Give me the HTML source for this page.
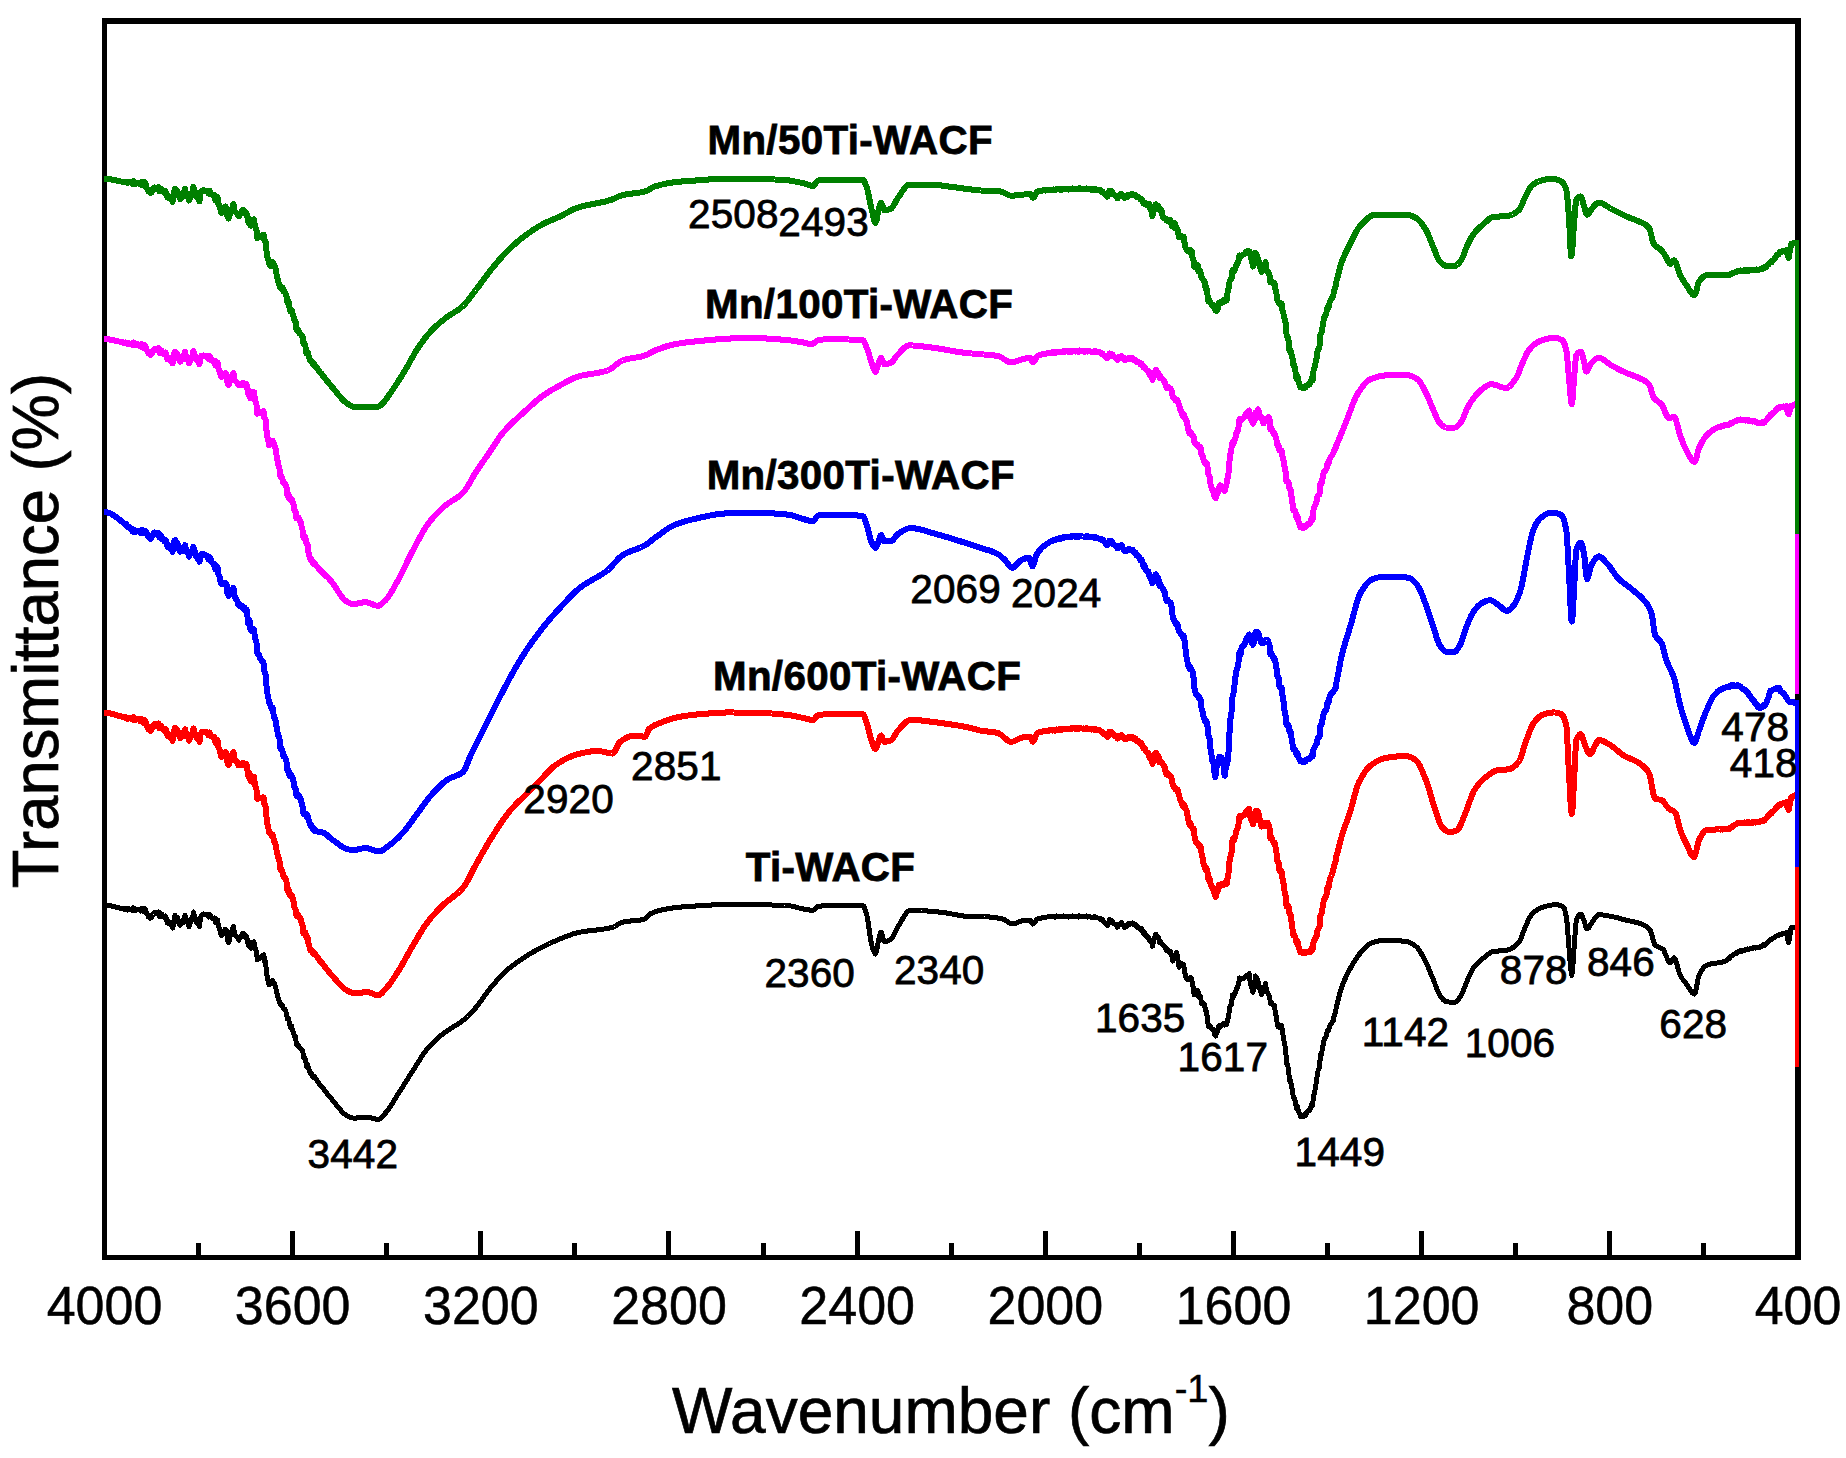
<!DOCTYPE html>
<html lang="en"><head><meta charset="utf-8"><title>FTIR spectra</title>
<style>html,body{margin:0;padding:0;background:#fff}svg{display:block}text{font-family:"Liberation Sans",sans-serif;fill:#000}.b{font-weight:bold;font-size:40.3px;letter-spacing:0.35px;stroke:#000;stroke-width:0.8px}.p{font-size:40.5px;letter-spacing:0.1px;stroke:#000;stroke-width:0.8px}.t{font-size:52px;text-anchor:middle;stroke:#000;stroke-width:0.5px}.ax{font-size:64px;stroke:#000;stroke-width:0.7px}.ay{font-size:63.4px;stroke:#000;stroke-width:0.7px}</style></head><body>
<svg width="1846" height="1458" viewBox="0 0 1846 1458">
<rect x="0" y="0" width="1846" height="1458" fill="#fff"/>
<defs><clipPath id="c"><rect x="104.0" y="18" width="1695.0" height="1240"/></clipPath></defs>
<g fill="#000" shape-rendering="crispEdges">
<rect x="102" y="18" width="5" height="1242"/>
<rect x="1795" y="18" width="6" height="1242"/>
<rect x="102" y="18" width="1699" height="6"/>
<rect x="102" y="1255" width="1699" height="5"/>
<rect x="102.0" y="1231" width="5" height="25"/>
<rect x="196.0" y="1243" width="5" height="13"/>
<rect x="290.0" y="1231" width="5" height="25"/>
<rect x="384.0" y="1243" width="5" height="13"/>
<rect x="478.0" y="1231" width="5" height="25"/>
<rect x="572.0" y="1243" width="5" height="13"/>
<rect x="666.0" y="1231" width="5" height="25"/>
<rect x="761.0" y="1243" width="5" height="13"/>
<rect x="855.0" y="1231" width="5" height="25"/>
<rect x="949.0" y="1243" width="5" height="13"/>
<rect x="1043.0" y="1231" width="5" height="25"/>
<rect x="1137.0" y="1243" width="5" height="13"/>
<rect x="1231.0" y="1231" width="5" height="25"/>
<rect x="1325.0" y="1243" width="5" height="13"/>
<rect x="1419.0" y="1231" width="5" height="25"/>
<rect x="1513.0" y="1243" width="5" height="13"/>
<rect x="1607.0" y="1231" width="5" height="25"/>
<rect x="1701.0" y="1243" width="5" height="13"/>
<rect x="1796.0" y="1231" width="5" height="25"/>
</g>
<g clip-path="url(#c)" fill="none" stroke-width="6.0" stroke-linejoin="round" stroke-linecap="butt" shape-rendering="crispEdges">
<path stroke="#000000" stroke-width="5" d="M103.5,905.2 104.5,905.2 105.0,905.2 105.5,905.2 106.5,905.2 107.5,905.3 108.5,905.4 109.5,905.6 110.5,905.8 111.5,906.0 112.5,906.2 113.5,906.4 114.5,906.7 115.5,907.0 116.5,907.2 117.5,907.5 118.5,907.7 119.5,908.0 120.5,908.2 121.5,908.4 122.5,908.6 123.5,908.9 124.5,909.2 125.0,909.0 125.5,908.5 126.5,908.7 127.5,910.0 128.5,908.8 129.5,909.0 130.5,909.3 131.5,909.7 132.5,910.3 133.5,907.8 134.5,909.2 135.5,910.3 136.5,909.3 137.5,909.6 138.5,909.2 139.5,910.0 140.5,910.9 141.5,908.5 142.5,908.5 143.5,911.9 144.5,910.0 145.1,908.9 145.5,910.0 146.5,913.4 147.5,914.6 148.5,917.1 149.5,915.7 150.1,917.2 150.5,918.2 151.5,917.6 152.5,914.6 153.5,914.5 153.8,913.3 154.5,912.5 155.5,912.8 156.5,913.8 157.5,912.6 158.5,911.9 159.5,916.3 160.5,915.7 161.5,913.9 162.5,916.6 163.5,916.6 164.5,917.9 165.1,917.0 165.5,916.0 166.5,919.4 167.5,923.1 168.5,921.5 169.5,924.2 170.5,924.6 171.5,925.6 172.5,927.7 172.6,928.1 173.5,924.1 174.5,916.1 175.1,915.2 175.5,917.5 176.5,920.9 177.5,917.4 178.5,922.0 179.5,923.8 180.1,925.4 180.5,925.0 181.5,921.3 182.5,920.6 183.5,922.8 184.5,916.5 185.1,915.2 185.5,917.7 186.5,919.8 187.5,921.3 188.5,925.0 188.9,926.8 189.5,925.7 190.5,921.6 191.5,918.9 192.5,919.8 193.2,912.9 193.5,912.0 194.5,915.9 195.5,919.5 196.5,922.0 197.5,923.4 198.2,923.5 198.5,923.3 199.5,926.4 200.5,917.8 201.5,915.1 202.5,914.8 202.7,914.1 203.5,913.9 204.5,914.3 205.5,914.6 206.5,914.3 207.5,915.4 208.5,917.0 209.5,914.1 210.5,915.7 211.5,917.9 212.5,918.0 212.7,918.3 213.5,918.9 214.5,917.9 215.5,922.9 216.5,921.6 217.5,919.9 217.7,920.5 218.5,926.8 219.5,928.6 220.5,932.6 221.4,935.5 221.5,935.5 222.5,934.2 223.5,931.0 224.5,931.0 225.2,929.2 225.5,929.3 226.5,930.6 227.5,940.1 228.5,942.5 228.5,942.5 229.5,940.1 230.5,932.7 231.5,934.6 232.5,930.1 232.7,928.0 233.5,926.6 234.5,933.3 235.5,935.3 236.5,936.1 237.5,937.4 238.5,940.0 239.0,940.1 239.5,938.7 240.5,937.9 241.5,936.1 242.5,933.7 243.5,935.4 244.0,933.9 244.5,934.8 245.5,937.4 246.5,936.2 247.5,941.1 248.5,945.7 249.5,941.9 250.2,946.8 250.5,948.1 251.5,948.1 252.5,944.9 253.5,942.7 254.0,942.0 254.5,945.8 255.5,949.3 256.5,951.7 257.3,959.6 257.5,959.5 258.5,958.1 259.5,958.3 260.5,957.5 261.5,956.9 262.5,955.4 263.5,954.8 264.0,956.5 264.5,961.3 265.5,961.7 266.5,972.0 267.5,978.6 268.5,982.1 269.0,984.9 269.5,984.1 270.5,983.5 271.5,983.2 272.5,980.4 273.5,982.1 274.0,982.8 274.5,984.2 275.5,986.2 276.5,991.5 277.5,995.7 278.5,999.3 279.0,1000.3 279.5,1002.1 280.5,1005.1 281.5,1004.4 282.5,1005.2 282.8,1006.1 283.5,1008.7 284.5,1008.9 285.5,1010.7 286.5,1013.2 287.5,1019.2 288.5,1018.0 289.5,1023.5 290.3,1027.2 290.5,1027.0 291.5,1025.9 292.5,1029.7 293.5,1032.4 294.5,1036.5 295.5,1036.5 296.5,1044.6 297.5,1045.9 297.8,1044.8 298.5,1045.4 299.5,1048.1 300.5,1048.2 301.5,1049.5 302.5,1050.4 302.8,1051.4 303.5,1057.3 304.5,1056.9 305.5,1060.0 306.5,1066.3 307.5,1064.5 307.8,1065.7 308.5,1068.4 309.5,1070.5 310.5,1073.6 311.5,1073.4 312.5,1076.0 313.5,1077.5 314.5,1076.7 315.5,1078.9 316.5,1079.8 317.5,1081.2 317.9,1081.6 318.5,1082.3 319.5,1084.4 320.5,1085.4 321.5,1086.2 322.5,1087.9 323.5,1088.9 324.5,1090.3 325.5,1091.6 326.5,1092.8 327.5,1094.1 328.5,1095.3 329.5,1096.5 330.5,1097.7 331.5,1098.9 332.5,1100.1 332.9,1100.5 333.5,1101.2 334.5,1102.5 335.5,1103.7 336.5,1105.0 337.5,1106.2 338.5,1107.5 339.5,1108.7 340.5,1109.9 341.5,1111.1 342.5,1112.2 343.5,1113.1 344.5,1114.0 345.5,1114.8 346.5,1115.4 346.7,1115.5 347.5,1116.0 348.5,1116.6 349.5,1117.1 350.5,1117.5 351.5,1117.8 352.5,1118.0 352.9,1118.0 353.5,1118.0 354.5,1118.0 355.5,1118.0 356.5,1118.0 357.5,1117.9 358.5,1117.9 359.5,1117.8 360.5,1117.8 361.5,1117.7 362.5,1117.7 363.5,1117.6 364.5,1117.6 365.5,1117.6 366.5,1117.5 367.5,1117.5 367.9,1117.5 368.5,1117.5 369.5,1117.6 370.5,1117.8 371.5,1118.0 372.5,1118.3 373.5,1118.6 374.5,1118.8 375.5,1119.0 376.5,1119.2 377.5,1119.3 378.0,1119.3 378.5,1119.2 379.5,1118.9 380.5,1118.2 381.5,1117.3 382.5,1116.3 383.5,1115.2 384.5,1114.1 385.5,1113.0 385.5,1113.0 386.5,1111.9 387.5,1110.6 388.5,1109.3 389.5,1107.8 390.5,1106.3 391.5,1104.8 392.5,1103.2 393.5,1101.5 394.5,1099.9 395.5,1098.2 396.5,1096.6 397.5,1095.0 398.0,1094.2 398.5,1093.4 399.5,1091.9 400.5,1090.3 401.5,1088.7 402.5,1087.2 403.5,1085.6 404.5,1084.0 405.5,1082.3 406.5,1080.7 407.5,1079.1 408.5,1077.5 409.5,1076.0 410.5,1074.4 411.5,1072.8 412.5,1071.2 413.0,1070.5 413.5,1069.7 414.5,1068.1 415.5,1066.5 416.5,1064.9 417.5,1063.3 418.5,1061.7 419.5,1060.1 420.5,1058.5 421.5,1056.9 422.5,1055.4 423.5,1053.9 424.5,1052.5 425.5,1051.1 426.5,1049.8 427.5,1048.5 428.0,1047.9 428.5,1047.4 429.5,1046.3 430.5,1045.2 431.5,1044.2 432.5,1043.1 433.5,1042.2 434.5,1041.2 435.5,1040.3 436.5,1039.4 437.5,1038.5 438.5,1037.6 439.5,1036.8 440.5,1035.9 441.5,1035.1 442.5,1034.3 443.5,1033.5 444.3,1032.9 444.5,1032.7 445.5,1032.0 446.5,1031.3 447.5,1030.6 448.5,1029.9 449.5,1029.3 450.5,1028.7 451.5,1028.0 452.5,1027.4 453.5,1026.8 454.5,1026.2 455.5,1025.6 456.5,1025.0 457.5,1024.4 458.5,1023.7 459.5,1023.0 460.5,1022.3 461.5,1021.6 462.5,1020.8 463.1,1020.4 463.5,1020.0 464.5,1019.2 465.5,1018.3 466.5,1017.4 467.5,1016.5 468.5,1015.5 469.5,1014.5 470.5,1013.4 471.5,1012.4 472.5,1011.3 473.5,1010.2 474.5,1009.1 475.5,1008.0 475.6,1007.9 476.5,1006.8 477.5,1005.6 478.5,1004.3 479.5,1003.0 480.5,1001.6 481.5,1000.2 482.5,998.8 483.5,997.4 484.5,996.0 485.5,994.6 486.5,993.2 487.5,991.8 488.5,990.5 489.5,989.2 490.5,988.0 490.6,987.8 491.5,986.8 492.5,985.6 493.5,984.4 494.5,983.3 495.5,982.1 496.5,981.0 497.5,979.8 498.5,978.7 499.5,977.6 500.5,976.5 501.5,975.5 502.5,974.5 503.5,973.5 504.5,972.5 505.5,971.6 506.5,970.7 506.9,970.3 507.5,969.8 508.5,968.9 509.5,968.1 510.5,967.3 511.5,966.5 512.5,965.7 513.5,964.9 514.5,964.2 515.5,963.4 516.5,962.7 517.5,962.0 518.5,961.3 519.5,960.6 520.5,959.9 521.5,959.3 522.5,958.6 523.5,957.9 524.5,957.3 525.5,956.6 525.7,956.5 526.5,956.0 527.5,955.4 528.5,954.8 529.5,954.1 530.5,953.5 531.5,952.9 532.5,952.3 533.5,951.8 534.5,951.2 535.5,950.6 536.5,950.1 537.5,949.5 538.5,949.0 539.5,948.4 540.5,947.9 541.5,947.4 542.5,946.9 543.2,946.5 543.5,946.4 544.5,945.9 545.5,945.4 546.5,944.9 547.5,944.4 548.5,943.9 549.5,943.5 550.5,943.0 551.5,942.6 552.5,942.1 553.5,941.7 554.5,941.3 555.5,940.8 556.5,940.4 557.5,940.0 558.5,939.6 559.5,939.2 560.0,939.0 560.5,938.8 561.5,938.4 562.5,938.0 563.5,937.6 564.5,937.2 565.5,936.8 566.5,936.4 567.5,936.0 568.5,935.6 569.5,935.2 570.5,934.9 571.5,934.5 572.5,934.2 573.5,933.8 574.5,933.5 575.5,933.3 576.5,933.0 577.5,932.7 577.6,932.7 578.5,932.5 579.5,932.3 580.5,932.1 581.5,931.9 582.5,931.8 583.5,931.6 584.5,931.4 585.5,931.3 586.5,931.2 587.5,931.0 588.5,930.9 589.5,930.8 590.5,930.7 591.5,930.5 592.5,930.4 593.5,930.3 594.5,930.2 595.5,930.1 596.5,930.0 597.5,929.9 598.5,929.7 599.5,929.6 600.5,929.5 601.5,929.4 602.5,929.2 603.5,929.1 604.5,928.9 605.5,928.7 606.5,928.6 607.5,928.4 608.5,928.2 609.5,928.0 610.5,927.7 611.5,927.5 612.5,927.3 612.6,927.2 613.5,926.9 614.5,926.5 615.5,926.0 616.5,925.4 617.5,924.8 618.5,924.1 619.5,923.6 620.5,923.0 621.5,922.6 622.5,922.2 622.6,922.2 623.5,922.0 624.5,921.8 625.5,921.6 626.5,921.5 627.5,921.4 628.5,921.2 629.5,921.1 630.5,921.0 631.5,920.9 632.5,920.9 633.5,920.8 634.5,920.7 635.5,920.6 636.5,920.5 637.5,920.4 638.5,920.3 639.5,920.2 640.5,920.0 641.5,919.8 642.5,919.6 643.5,919.4 644.5,919.2 645.2,919.0 645.5,918.8 646.5,918.0 647.5,916.8 648.5,915.5 649.5,914.4 650.2,914.0 650.5,913.8 651.5,913.4 652.5,912.9 653.5,912.5 654.5,912.2 655.5,911.8 656.5,911.5 657.5,911.2 658.5,910.8 659.5,910.6 660.5,910.3 661.5,910.0 662.5,909.8 663.5,909.6 664.5,909.4 665.5,909.2 666.5,909.0 667.5,908.8 668.5,908.6 669.5,908.5 670.5,908.3 671.5,908.2 672.5,908.0 673.5,907.9 674.5,907.8 675.2,907.7 675.5,907.7 676.5,907.5 677.5,907.4 678.5,907.3 679.5,907.2 680.5,907.1 681.5,907.0 682.5,906.9 683.5,906.8 684.5,906.8 685.5,906.7 686.5,906.6 687.5,906.5 688.5,906.4 689.5,906.4 690.5,906.3 691.5,906.2 692.5,906.2 693.5,906.1 694.5,906.0 695.5,906.0 696.5,905.9 697.5,905.9 698.5,905.8 699.5,905.7 700.3,905.7 700.5,905.7 701.5,905.6 702.5,905.5 703.5,905.5 704.5,905.4 705.5,905.3 706.5,905.3 707.5,905.2 708.5,905.1 709.5,905.1 710.5,905.0 711.5,905.0 712.5,904.9 713.5,904.9 714.5,904.8 715.5,904.8 716.5,904.7 717.5,904.7 718.5,904.7 719.5,904.7 720.3,904.7 720.5,904.7 721.5,904.7 722.5,904.7 723.5,904.7 724.5,904.7 725.5,904.7 726.5,904.7 727.5,904.7 728.5,904.7 729.5,904.7 730.5,904.7 731.5,904.7 732.5,904.7 733.5,904.7 734.5,904.7 735.5,904.7 736.5,904.7 737.5,904.7 738.5,904.7 739.5,904.7 740.5,904.7 741.5,904.7 742.5,904.7 743.5,904.7 744.5,904.7 745.5,904.7 746.5,904.7 747.5,904.7 748.5,904.7 749.5,904.7 750.5,904.7 751.5,904.7 752.5,904.7 753.5,904.7 754.5,904.7 755.3,904.7 755.5,904.7 756.5,904.7 757.5,904.7 758.5,904.7 759.5,904.7 760.5,904.7 761.5,904.7 762.5,904.7 763.5,904.8 764.5,904.8 765.5,904.8 766.5,904.8 767.5,904.8 768.5,904.9 769.5,904.9 770.5,904.9 771.5,905.0 772.5,905.0 773.5,905.0 774.5,905.1 775.5,905.1 776.5,905.1 777.5,905.2 778.5,905.2 779.5,905.3 780.5,905.3 781.5,905.4 782.5,905.4 783.5,905.5 784.5,905.6 785.5,905.6 786.5,905.7 787.5,905.7 788.5,905.8 789.5,905.9 790.4,905.9 790.5,905.9 791.5,906.1 792.5,906.2 793.5,906.4 794.5,906.7 795.5,907.0 796.5,907.2 797.5,907.5 798.5,907.9 799.5,908.1 800.5,908.4 801.5,908.7 802.5,908.9 802.9,908.9 803.5,909.0 804.5,909.2 805.5,909.4 806.5,909.5 807.5,909.7 808.5,909.9 809.5,910.0 810.5,910.1 811.5,910.2 812.5,910.2 812.9,910.2 813.5,910.1 814.5,909.4 815.5,908.4 816.5,907.3 817.5,906.6 818.0,906.4 818.5,906.4 819.5,906.2 820.5,906.1 821.5,906.0 822.5,905.9 823.5,905.8 824.5,905.8 825.5,905.7 826.5,905.7 827.5,905.7 828.0,905.7 828.5,905.7 829.5,905.7 830.5,905.7 831.5,905.7 832.5,905.7 833.5,905.7 834.5,905.7 835.5,905.7 836.5,905.7 837.5,905.7 838.5,905.7 839.5,905.7 840.5,905.7 841.5,905.7 842.5,905.7 843.5,905.7 844.5,905.7 845.5,905.7 846.5,905.7 847.5,905.7 848.5,905.7 849.5,905.7 850.5,905.7 851.5,905.7 852.5,905.7 853.5,905.7 854.5,905.7 855.5,905.7 856.5,905.7 857.5,905.7 858.5,905.7 859.5,905.7 860.5,905.7 861.5,905.7 862.5,905.7 863.0,905.7 863.5,905.9 864.5,907.7 865.5,910.7 866.5,914.2 866.8,915.2 867.5,918.4 868.5,924.7 869.5,931.9 870.5,938.8 871.5,944.2 871.8,945.3 872.5,947.6 873.5,950.7 874.5,953.0 875.5,954.0 875.5,954.0 876.5,951.5 877.5,945.8 878.5,940.4 878.6,940.2 879.5,936.3 880.5,932.9 881.1,932.2 881.5,932.7 882.5,936.1 883.5,940.1 884.3,941.5 884.5,941.5 885.5,941.4 886.5,941.2 887.5,941.0 888.5,940.6 889.5,940.2 890.5,939.8 890.6,939.7 891.5,939.0 892.5,937.6 893.5,935.8 894.5,933.7 895.5,931.5 896.5,929.4 897.5,927.4 898.1,926.5 898.5,925.8 899.5,924.2 900.5,922.5 901.5,920.8 902.5,919.0 903.5,917.3 904.5,915.7 905.5,914.2 906.5,912.9 907.5,911.8 908.5,911.0 909.5,910.4 910.5,910.2 910.6,910.2 911.5,910.2 912.5,910.2 913.5,910.2 914.5,910.2 915.5,910.3 916.5,910.3 917.5,910.4 918.5,910.4 919.5,910.5 920.5,910.5 921.5,910.6 922.5,910.6 923.5,910.7 924.5,910.8 925.5,910.8 926.5,910.9 927.5,911.0 928.5,911.1 929.5,911.2 930.5,911.3 931.5,911.4 932.5,911.4 933.5,911.5 934.5,911.6 935.5,911.7 936.5,911.8 937.5,911.9 938.5,912.0 939.5,912.1 940.5,912.2 940.7,912.2 941.5,912.3 942.5,912.4 943.5,912.5 944.5,912.7 945.5,912.8 946.5,913.0 947.5,913.1 948.5,913.3 949.5,913.5 950.5,913.7 951.5,913.9 952.5,914.1 953.5,914.2 954.5,914.4 955.5,914.6 956.5,914.8 957.5,915.0 958.5,915.2 959.5,915.4 960.5,915.5 961.5,915.7 962.5,915.8 963.5,916.0 964.5,916.1 965.5,916.2 966.5,916.3 967.5,916.3 968.5,916.4 969.5,916.4 970.5,916.5 970.7,916.5 971.5,916.5 972.5,916.5 973.5,916.5 974.5,916.5 975.5,916.5 976.5,916.5 977.5,916.5 978.5,916.5 979.5,916.5 980.0,916.5 980.5,916.5 981.5,916.5 982.5,916.5 983.5,916.5 984.5,916.6 985.5,916.6 986.5,916.7 987.5,916.8 988.5,916.9 989.5,917.0 990.5,917.1 991.5,917.2 992.5,917.3 993.5,917.4 994.5,917.6 995.5,917.7 996.5,917.9 997.5,918.0 998.5,918.2 999.5,918.4 1000.5,918.6 1001.5,918.8 1002.5,919.0 1002.5,919.0 1003.5,919.2 1004.5,919.7 1005.5,920.3 1006.5,921.0 1007.5,921.7 1008.5,922.4 1009.5,923.0 1010.5,923.5 1011.5,923.8 1012.5,924.0 1012.6,924.0 1013.5,923.9 1014.5,923.7 1015.5,923.4 1016.5,923.0 1017.5,922.5 1018.5,922.0 1019.5,921.6 1020.5,921.2 1021.5,920.9 1022.5,920.7 1022.6,920.7 1023.5,920.6 1024.5,920.5 1025.5,920.4 1026.5,920.3 1027.5,920.3 1028.5,920.2 1029.5,920.2 1030.1,920.2 1030.5,920.5 1031.5,922.5 1032.5,924.0 1032.6,924.0 1033.5,923.6 1034.5,922.5 1035.5,921.1 1036.5,919.8 1037.5,919.0 1037.6,919.0 1038.5,918.7 1039.5,918.4 1040.5,918.2 1041.5,918.0 1042.5,917.7 1043.5,917.5 1044.5,917.2 1045.5,917.4 1046.5,917.1 1047.5,916.9 1048.5,917.0 1049.5,916.6 1050.5,916.4 1051.5,916.3 1052.5,916.9 1053.5,916.3 1054.5,916.6 1055.1,917.1 1055.5,916.9 1056.5,916.0 1057.5,916.3 1058.5,916.3 1059.5,916.6 1060.5,916.1 1061.5,917.0 1062.5,916.8 1063.5,916.0 1064.5,916.6 1065.5,916.2 1066.5,916.3 1067.5,916.2 1068.5,917.1 1069.5,916.5 1070.5,916.2 1071.5,916.9 1072.5,916.0 1073.5,916.2 1074.5,916.4 1075.5,916.8 1076.5,916.3 1077.5,916.6 1078.5,917.0 1079.5,915.8 1080.2,916.1 1080.5,916.4 1081.5,916.4 1082.5,916.5 1083.5,916.4 1084.5,917.0 1085.5,916.9 1086.5,916.0 1087.5,917.0 1088.5,916.4 1089.5,916.6 1090.5,916.9 1091.5,917.4 1092.5,917.2 1093.5,916.9 1094.5,917.8 1095.5,916.8 1096.5,917.4 1097.5,917.9 1098.5,918.1 1099.5,918.1 1100.2,918.1 1100.5,918.7 1101.5,920.1 1102.5,919.6 1103.5,921.6 1104.5,922.5 1105.5,923.4 1106.5,924.7 1107.2,925.5 1107.5,925.3 1108.5,923.3 1109.5,919.7 1110.2,919.8 1110.5,920.5 1111.5,920.3 1112.5,921.2 1113.5,923.4 1114.5,924.1 1115.5,924.7 1116.5,924.9 1117.5,927.2 1117.7,927.0 1118.5,924.2 1119.5,924.3 1120.5,924.6 1121.5,922.5 1121.5,922.6 1122.5,924.6 1123.5,925.8 1124.5,927.4 1125.2,926.8 1125.5,925.7 1126.5,926.7 1127.5,925.7 1128.5,923.7 1129.5,924.5 1130.2,923.2 1130.5,923.3 1131.5,923.5 1132.5,922.9 1133.5,924.8 1134.5,924.3 1135.5,924.7 1136.5,927.0 1137.5,926.4 1137.8,926.5 1138.5,927.4 1139.5,927.9 1140.5,929.7 1141.5,928.8 1142.5,930.9 1143.5,933.4 1144.5,932.6 1145.3,934.5 1145.5,935.2 1146.5,936.1 1147.5,937.2 1148.5,936.9 1149.5,940.3 1150.5,941.9 1151.5,941.8 1152.3,945.5 1152.5,946.2 1153.5,941.4 1154.5,938.1 1155.5,934.7 1156.0,934.4 1156.5,935.8 1157.5,936.3 1158.5,937.7 1159.5,942.5 1160.5,941.3 1161.5,943.4 1162.5,944.8 1162.8,945.0 1163.5,945.8 1164.5,945.9 1165.5,947.8 1166.5,950.3 1167.5,949.1 1168.5,951.9 1169.5,952.3 1170.3,951.5 1170.5,952.0 1171.5,954.4 1172.5,959.6 1172.8,961.1 1173.5,959.6 1174.5,955.5 1175.5,957.6 1176.5,952.9 1176.6,952.5 1177.5,956.6 1178.5,963.8 1179.1,967.2 1179.5,967.0 1180.5,965.4 1181.5,964.0 1182.5,965.4 1182.8,964.0 1183.5,964.4 1184.5,970.6 1185.5,976.2 1186.5,977.8 1186.6,978.2 1187.5,979.3 1188.5,979.3 1189.5,979.9 1190.5,977.7 1191.5,978.6 1191.6,978.7 1192.5,985.0 1193.5,987.9 1194.1,994.6 1194.5,994.5 1195.5,993.4 1196.5,992.6 1197.5,990.1 1197.9,990.4 1198.5,996.6 1199.5,995.4 1200.5,996.8 1201.5,1003.3 1201.6,1003.4 1202.5,1002.9 1203.5,1003.9 1204.5,1004.7 1205.4,1009.6 1205.5,1010.7 1206.5,1011.2 1207.5,1019.3 1208.4,1026.5 1208.5,1026.0 1209.5,1025.1 1210.5,1027.1 1211.5,1028.3 1212.5,1029.9 1213.5,1029.3 1214.1,1030.2 1214.5,1034.0 1215.5,1036.0 1215.9,1035.7 1216.5,1030.4 1217.5,1031.9 1218.5,1027.2 1219.1,1025.5 1219.5,1025.5 1220.5,1025.1 1221.5,1026.0 1222.5,1024.6 1223.5,1023.8 1224.5,1025.0 1225.5,1023.6 1226.5,1024.1 1226.7,1024.3 1227.5,1020.6 1228.5,1017.1 1229.2,1011.3 1229.5,1008.0 1230.5,1005.3 1231.5,1004.2 1232.5,995.0 1232.9,995.1 1233.5,996.8 1234.5,994.7 1235.5,992.3 1236.5,988.5 1237.5,987.5 1238.5,984.1 1239.5,977.9 1240.4,979.6 1240.5,979.6 1241.5,978.5 1242.5,978.2 1243.5,978.1 1244.5,978.0 1245.5,976.6 1246.5,975.5 1247.5,976.7 1248.5,974.7 1249.2,973.6 1249.5,977.0 1250.5,984.0 1251.5,987.4 1252.5,990.0 1252.9,992.2 1253.5,989.4 1254.5,987.1 1255.5,976.0 1256.5,977.8 1256.7,977.6 1257.5,980.4 1258.5,982.4 1259.5,987.4 1260.5,991.3 1261.5,994.3 1261.7,994.2 1262.5,989.1 1263.5,992.1 1264.5,986.6 1265.5,983.4 1265.5,983.7 1266.5,990.9 1267.5,992.4 1268.5,994.4 1269.5,996.3 1270.5,1003.6 1270.5,1003.6 1271.5,1002.6 1272.5,1004.4 1273.5,1006.0 1274.2,1005.4 1274.5,1006.5 1275.5,1012.9 1276.5,1018.1 1277.5,1025.6 1278.0,1026.5 1278.5,1026.2 1279.5,1027.5 1280.5,1027.0 1281.5,1025.1 1281.7,1025.2 1282.5,1032.8 1283.5,1037.5 1284.5,1043.7 1285.5,1048.1 1286.5,1061.2 1286.7,1063.8 1287.5,1064.5 1288.5,1069.4 1289.5,1080.0 1290.5,1080.5 1291.5,1085.9 1292.5,1090.7 1293.0,1095.2 1293.5,1098.0 1294.5,1097.9 1295.5,1103.1 1296.5,1108.8 1297.5,1106.6 1298.5,1111.4 1299.5,1113.3 1300.5,1116.3 1300.5,1116.3 1301.5,1115.9 1302.5,1116.9 1303.5,1116.7 1304.5,1114.5 1305.5,1115.4 1306.5,1113.0 1307.5,1111.4 1308.5,1110.1 1309.5,1110.4 1310.5,1108.2 1310.5,1108.0 1311.5,1104.0 1312.5,1105.7 1313.5,1096.1 1314.3,1093.3 1314.5,1092.8 1315.5,1086.9 1316.5,1081.3 1317.5,1073.4 1318.5,1069.1 1319.3,1068.0 1319.5,1066.5 1320.5,1054.6 1321.5,1054.1 1322.5,1048.4 1323.5,1042.5 1324.5,1038.9 1325.5,1037.5 1325.6,1037.6 1326.5,1034.8 1327.5,1030.3 1328.5,1031.0 1329.5,1026.9 1330.5,1024.5 1331.5,1023.5 1332.5,1021.8 1333.1,1021.1 1333.5,1018.9 1334.5,1014.5 1335.5,1012.0 1336.5,1006.0 1337.5,1002.4 1338.5,998.7 1339.5,994.6 1340.5,990.7 1340.6,990.3 1341.5,987.7 1342.5,985.0 1343.5,982.5 1344.5,980.1 1345.5,977.9 1346.5,975.7 1347.5,973.7 1348.5,971.7 1349.5,969.8 1350.5,968.0 1350.6,967.8 1351.5,966.2 1352.5,964.4 1353.5,962.8 1354.5,961.1 1355.5,959.6 1356.5,958.1 1357.5,956.6 1358.5,955.3 1359.5,954.0 1360.5,952.9 1360.6,952.8 1361.5,951.8 1362.5,950.7 1363.5,949.6 1364.5,948.6 1365.5,947.5 1366.5,946.6 1367.5,945.7 1368.5,944.8 1369.5,944.1 1370.5,943.4 1371.5,942.9 1372.5,942.4 1373.1,942.2 1373.5,942.2 1374.5,941.9 1375.5,941.6 1376.5,941.4 1377.5,941.2 1378.5,941.0 1379.5,940.8 1380.5,940.6 1381.5,940.5 1382.5,940.4 1383.5,940.3 1384.5,940.3 1385.5,940.2 1385.7,940.2 1386.5,940.2 1387.5,940.3 1388.5,940.3 1389.5,940.3 1390.5,940.3 1391.5,940.4 1392.5,940.4 1393.5,940.4 1394.5,940.5 1395.5,940.5 1396.5,940.6 1397.5,940.7 1398.5,940.7 1399.5,940.8 1400.5,940.9 1401.5,941.0 1402.5,941.1 1403.5,941.2 1404.5,941.3 1405.5,941.4 1406.0,941.5 1406.5,941.6 1407.5,941.8 1408.5,942.1 1409.5,942.5 1410.5,942.9 1411.5,943.4 1412.5,944.0 1413.5,944.7 1414.5,945.4 1415.5,946.1 1416.0,946.5 1416.5,946.9 1417.5,947.9 1418.5,949.1 1419.5,950.6 1420.5,952.2 1421.5,954.0 1422.5,955.8 1423.5,957.8 1424.5,959.7 1425.5,961.7 1426.1,962.8 1426.5,963.6 1427.5,965.7 1428.5,968.0 1429.5,970.4 1430.5,972.8 1431.5,975.3 1432.5,977.7 1433.5,980.1 1433.6,980.3 1434.5,982.6 1435.5,985.3 1436.5,988.0 1437.5,990.6 1438.5,992.9 1439.5,994.8 1439.8,995.3 1440.5,996.3 1441.5,997.6 1442.5,998.9 1443.5,1000.0 1444.5,1000.9 1445.5,1001.4 1446.1,1001.6 1446.5,1001.7 1447.5,1001.8 1448.5,1001.9 1449.5,1002.1 1450.5,1002.2 1451.5,1002.2 1452.5,1002.3 1453.5,1002.3 1454.5,1002.3 1454.9,1002.3 1455.5,1002.2 1456.5,1001.6 1457.5,1000.6 1458.5,999.3 1459.5,997.9 1460.5,996.3 1461.1,995.3 1461.5,994.7 1462.5,992.7 1463.5,990.3 1464.5,987.7 1465.5,985.0 1466.5,982.4 1467.4,980.3 1467.5,980.1 1468.5,977.8 1469.5,975.6 1470.5,973.4 1471.5,971.4 1472.5,969.6 1473.5,968.0 1473.6,967.8 1474.5,966.7 1475.5,965.4 1476.5,964.3 1477.5,963.2 1478.5,962.2 1479.5,961.2 1480.5,960.3 1481.5,959.5 1482.5,958.7 1483.5,957.9 1483.7,957.8 1484.5,957.1 1485.5,956.3 1486.5,955.5 1487.5,954.8 1488.5,954.0 1489.5,953.3 1490.5,952.7 1491.5,952.2 1492.5,951.8 1493.5,951.5 1493.7,951.5 1494.5,951.4 1495.5,951.2 1496.5,951.1 1497.5,951.0 1498.5,951.0 1499.5,950.9 1500.5,950.8 1501.5,950.8 1502.5,950.7 1503.5,950.6 1504.5,950.5 1505.5,950.4 1506.2,950.3 1506.5,950.2 1507.5,950.0 1508.5,949.7 1509.5,949.3 1510.5,948.9 1511.5,948.4 1512.5,947.8 1513.5,947.2 1514.5,946.5 1515.5,945.7 1516.5,944.9 1517.5,943.9 1518.5,943.0 1518.7,942.7 1519.5,941.7 1520.5,939.6 1521.5,937.1 1522.5,934.3 1523.5,931.4 1524.5,928.8 1525.0,927.7 1525.5,926.6 1526.5,924.3 1527.5,922.0 1528.5,919.8 1529.5,917.8 1530.5,916.2 1531.2,915.2 1531.5,914.9 1532.5,913.8 1533.5,912.8 1534.5,911.9 1535.5,911.0 1536.5,910.3 1537.5,909.6 1538.5,908.9 1539.5,908.4 1540.5,908.0 1541.3,907.7 1541.5,907.6 1542.5,907.3 1543.5,907.0 1544.5,906.7 1545.5,906.4 1546.5,906.1 1547.5,905.9 1548.5,905.6 1549.5,905.4 1550.5,905.2 1551.5,905.1 1552.5,904.9 1553.5,904.8 1554.5,904.7 1555.5,904.7 1556.3,904.7 1556.5,904.7 1557.5,904.8 1558.5,904.9 1559.5,905.2 1560.5,905.6 1561.5,906.1 1562.5,906.7 1563.5,907.5 1563.8,907.7 1564.5,909.0 1565.5,912.8 1566.5,918.4 1566.8,920.2 1567.5,927.5 1568.5,941.6 1568.8,945.3 1569.5,954.0 1570.5,966.8 1571.5,974.8 1571.8,975.3 1572.5,971.3 1573.5,957.1 1574.3,945.3 1574.5,942.7 1575.5,927.6 1576.3,920.2 1576.5,919.7 1577.5,917.3 1578.5,915.6 1579.5,914.5 1580.5,914.0 1580.8,914.0 1581.5,914.5 1582.5,916.7 1583.5,919.4 1583.8,920.2 1584.5,922.2 1585.5,925.7 1586.5,928.4 1587.1,929.0 1587.5,928.9 1588.5,928.1 1589.5,926.6 1590.5,924.9 1591.5,923.1 1592.5,921.6 1592.6,921.5 1593.5,920.3 1594.5,918.8 1595.5,917.4 1596.5,916.2 1597.5,915.2 1598.5,914.7 1598.8,914.7 1599.5,914.7 1600.5,914.8 1601.5,914.8 1602.5,914.9 1603.5,915.1 1604.5,915.2 1605.5,915.4 1606.5,915.5 1607.5,915.7 1608.5,915.9 1609.5,916.1 1610.5,916.3 1611.4,916.5 1611.5,916.5 1612.5,916.7 1613.5,916.9 1614.5,917.1 1615.5,917.3 1616.5,917.6 1617.5,917.8 1618.5,918.1 1619.5,918.4 1620.5,918.6 1621.5,918.9 1622.5,919.2 1623.5,919.5 1624.5,919.7 1625.5,920.0 1626.4,920.2 1626.5,920.2 1627.5,920.5 1628.5,920.7 1629.5,920.9 1630.5,921.1 1631.5,921.3 1632.5,921.5 1633.5,921.7 1634.5,922.0 1635.5,922.2 1636.5,922.4 1637.5,922.7 1638.5,923.0 1639.5,923.3 1640.5,923.6 1641.4,924.0 1641.5,924.0 1642.5,924.4 1643.5,924.9 1644.5,925.4 1645.5,926.0 1646.5,926.7 1647.5,927.5 1648.5,928.4 1649.5,929.4 1650.2,930.2 1650.5,930.7 1651.5,933.5 1652.5,937.2 1653.5,941.1 1654.5,944.1 1655.2,945.3 1655.5,945.5 1656.5,946.2 1657.5,946.7 1658.5,947.1 1659.5,947.4 1660.5,947.8 1661.5,948.2 1662.5,948.9 1662.7,949.0 1663.5,949.9 1664.5,951.8 1665.5,954.2 1666.5,956.7 1667.5,959.2 1668.5,961.2 1669.5,962.5 1670.2,962.8 1670.5,962.7 1671.5,961.4 1672.5,959.5 1673.5,958.0 1674.0,957.8 1674.5,958.1 1675.5,959.9 1676.5,962.9 1677.5,966.6 1678.5,970.3 1679.5,973.6 1680.2,975.3 1680.5,975.8 1681.5,977.5 1682.5,979.0 1683.5,980.3 1684.5,981.6 1685.5,982.8 1686.5,984.1 1686.5,984.1 1687.5,985.5 1688.5,987.1 1689.5,988.8 1690.5,990.4 1691.5,991.8 1692.5,993.0 1693.5,993.8 1694.5,994.1 1694.5,994.1 1695.5,992.1 1696.5,987.3 1697.5,981.6 1698.5,976.8 1699.0,975.3 1699.5,974.3 1700.5,972.3 1701.5,970.6 1702.5,969.1 1703.5,967.7 1704.5,966.7 1705.5,965.8 1706.5,965.3 1706.5,965.3 1707.5,964.9 1708.5,964.6 1709.5,964.3 1710.5,964.1 1711.5,963.8 1712.5,963.7 1713.5,963.5 1714.5,963.4 1715.5,963.2 1716.5,963.1 1717.5,962.9 1718.5,962.8 1719.5,962.7 1720.5,962.6 1721.5,962.1 1722.5,962.2 1723.5,961.6 1724.0,961.1 1724.5,961.0 1725.5,961.0 1726.5,960.4 1727.5,959.7 1728.5,958.7 1729.5,958.7 1730.5,956.5 1731.5,955.8 1732.5,955.7 1733.5,954.3 1734.5,954.1 1735.5,953.5 1736.5,953.3 1736.6,953.2 1737.5,951.8 1738.5,952.0 1739.5,951.7 1740.5,950.7 1741.5,951.3 1742.5,950.9 1743.5,950.7 1744.5,949.9 1745.5,950.2 1746.5,949.4 1747.5,948.8 1748.5,949.6 1749.1,949.2 1749.5,948.9 1750.5,948.9 1751.5,948.6 1752.5,948.7 1753.5,947.7 1754.5,947.7 1755.5,948.2 1756.5,947.3 1757.5,947.8 1758.5,947.6 1759.5,947.3 1760.5,946.4 1761.5,946.5 1761.6,946.6 1762.5,946.2 1763.5,944.8 1764.5,945.5 1765.5,944.3 1766.5,943.3 1767.5,942.2 1768.5,941.6 1769.5,940.2 1770.5,939.1 1771.5,939.8 1771.6,939.7 1772.5,938.3 1773.5,938.0 1774.5,937.6 1775.5,936.8 1776.5,935.8 1777.5,935.4 1778.5,935.7 1779.5,934.3 1780.5,934.8 1781.5,934.4 1781.6,934.2 1782.5,933.7 1783.5,933.3 1784.5,933.2 1785.5,933.1 1786.5,932.4 1786.7,932.4 1787.5,938.5 1788.5,942.4 1788.7,942.8 1789.5,937.4 1790.5,931.9 1791.2,927.6 1791.5,927.7 1792.5,927.5 1793.5,927.3 1794.5,927.4 1795.4,927.2 L1798.0,927.2 L1798.0,1320.0"/>
<path stroke="#ff0000" d="M103.5,712.9 104.5,712.9 105.0,712.9 105.5,712.9 106.5,713.0 107.5,713.1 108.5,713.2 109.5,713.3 110.5,713.5 111.5,713.7 112.5,714.0 113.5,714.2 114.5,714.5 115.5,714.8 116.5,715.1 117.5,715.4 118.5,715.7 119.5,716.0 120.5,716.3 121.5,716.6 122.5,716.8 123.5,717.2 124.5,717.6 125.0,717.5 125.5,717.1 126.5,717.3 127.5,718.8 128.5,717.7 129.5,718.0 130.5,718.4 131.5,718.8 132.5,719.6 133.5,717.1 134.5,718.7 135.5,719.9 136.5,719.0 137.5,719.4 138.5,719.2 139.5,720.2 140.5,721.3 141.5,719.1 142.5,719.3 143.5,723.0 144.5,721.3 145.1,720.3 145.5,721.6 146.5,725.3 147.5,726.7 148.5,729.4 149.5,728.2 150.1,730.0 150.5,731.0 151.5,729.8 152.5,726.5 153.5,726.4 153.8,724.9 154.5,724.0 155.5,724.4 156.5,725.4 157.5,724.4 158.5,723.6 159.5,728.3 160.5,727.9 161.5,726.1 162.5,729.0 163.5,729.1 164.5,730.6 165.1,729.7 165.5,728.8 166.5,732.2 167.5,735.9 168.5,734.3 169.5,737.0 170.5,737.4 171.5,738.4 172.5,740.4 172.6,740.8 173.5,736.8 174.5,728.8 175.1,728.0 175.5,730.3 176.5,733.7 177.5,730.2 178.5,734.8 179.5,736.5 180.1,738.1 180.5,737.8 181.5,734.5 182.5,733.9 183.5,736.2 184.5,730.5 185.1,729.2 185.5,731.7 186.5,733.9 187.5,735.3 188.5,739.0 188.9,740.8 189.5,739.8 190.5,736.4 191.5,734.7 192.5,735.3 193.2,729.5 193.5,728.5 194.5,732.2 195.5,735.4 196.5,737.6 197.5,738.8 198.2,738.8 198.5,738.7 199.5,741.8 200.5,734.8 201.5,732.2 202.5,732.4 202.7,731.9 203.5,731.7 204.5,732.1 205.5,732.6 206.5,732.3 207.5,733.5 208.5,735.3 209.5,732.5 210.5,734.2 211.5,736.7 212.5,737.0 212.7,737.3 213.5,738.2 214.5,737.4 215.5,742.8 216.5,741.4 217.5,740.0 217.7,740.7 218.5,747.4 219.5,749.4 220.5,753.8 221.4,757.0 221.5,757.0 222.5,755.8 223.5,753.4 224.5,753.6 225.2,752.1 225.5,752.1 226.5,753.4 227.5,762.8 228.5,765.1 228.5,765.1 229.5,763.2 230.5,757.0 231.5,758.9 232.5,755.3 232.7,753.6 233.5,751.9 234.5,758.6 235.5,760.6 236.5,761.4 237.5,762.7 238.5,765.3 239.0,765.4 239.5,765.1 240.5,765.4 241.5,763.7 242.5,763.2 243.5,765.4 244.5,763.5 245.2,764.0 245.5,765.5 246.5,764.1 247.5,770.6 248.5,776.9 249.5,772.8 250.2,779.6 250.5,780.7 251.5,781.5 252.5,779.1 253.5,777.8 254.0,777.0 254.5,781.7 255.5,786.4 256.5,789.9 257.3,798.9 257.5,798.5 258.5,797.8 259.5,798.5 260.5,798.3 261.5,798.3 262.5,797.4 263.5,797.4 264.0,799.6 264.5,804.5 265.5,805.8 266.5,817.0 267.5,824.5 268.5,828.9 269.0,832.0 269.5,832.3 270.5,833.7 271.5,835.4 272.5,834.6 273.5,838.3 274.0,841.3 274.5,841.7 275.5,844.2 276.5,850.0 277.5,854.7 278.5,858.8 279.0,858.8 279.5,861.2 280.5,870.0 281.5,869.4 282.5,872.5 283.5,877.1 284.5,877.3 285.5,878.9 286.5,881.9 287.5,890.9 287.8,891.1 288.5,889.6 289.5,895.1 290.5,896.0 291.5,894.9 292.5,897.5 293.5,901.4 294.5,907.9 295.5,908.8 296.5,916.0 297.5,915.6 297.8,915.0 298.5,915.0 299.5,917.8 300.5,918.5 301.5,922.2 302.5,925.6 303.5,933.2 304.5,932.1 305.3,932.3 305.5,932.8 306.5,937.5 307.5,936.7 307.8,939.1 308.5,943.4 309.5,947.0 310.5,950.4 311.5,950.1 312.5,952.4 313.5,953.8 314.5,953.0 315.5,955.1 316.5,955.9 317.5,957.3 317.9,957.7 318.5,958.3 319.5,960.5 320.5,961.5 321.5,962.3 322.5,964.0 323.5,965.1 324.5,966.4 325.5,967.7 326.5,969.0 327.5,970.2 328.5,971.4 329.5,972.7 330.5,973.8 331.5,975.0 332.5,976.1 332.9,976.6 333.5,977.2 334.5,978.4 335.5,979.5 336.5,980.7 337.5,981.9 338.5,983.0 339.5,984.1 340.5,985.2 341.5,986.2 342.5,987.2 343.5,988.1 344.5,988.9 345.5,989.6 346.5,990.2 346.7,990.3 347.5,990.8 348.5,991.3 349.5,991.9 350.5,992.3 351.5,992.6 352.5,992.8 352.9,992.8 353.5,992.8 354.5,992.8 355.5,992.8 356.5,992.8 357.5,992.7 358.5,992.7 359.5,992.6 360.5,992.6 361.5,992.5 362.5,992.5 363.5,992.4 364.5,992.4 365.5,992.4 366.5,992.3 367.5,992.3 367.9,992.3 368.5,992.4 369.5,992.5 370.5,992.8 371.5,993.2 372.5,993.6 373.5,994.1 374.5,994.5 375.5,994.9 376.5,995.2 377.5,995.3 378.0,995.3 378.5,995.3 379.5,994.9 380.5,994.2 381.5,993.4 382.5,992.3 383.5,991.2 384.5,990.1 385.5,989.1 385.5,989.0 386.5,988.0 387.5,986.8 388.5,985.6 389.5,984.3 390.5,982.9 391.5,981.5 392.5,980.0 393.5,978.5 394.5,977.0 395.5,975.4 396.5,973.9 397.5,972.3 398.0,971.5 398.5,970.7 399.5,969.1 400.5,967.5 401.5,965.7 402.5,964.0 403.5,962.2 404.5,960.4 405.5,958.6 406.5,956.8 407.5,955.0 408.5,953.1 409.5,951.3 410.5,949.6 411.5,947.8 412.5,946.1 413.0,945.3 413.5,944.4 414.5,942.8 415.5,941.1 416.5,939.4 417.5,937.7 418.5,936.0 419.5,934.3 420.5,932.7 421.5,931.1 422.5,929.5 423.5,927.9 424.5,926.4 425.5,924.9 426.5,923.5 427.5,922.2 428.0,921.5 428.5,920.9 429.5,919.6 430.5,918.4 431.5,917.2 432.5,916.1 433.5,914.9 434.5,913.8 435.5,912.8 436.5,911.7 437.5,910.7 438.5,909.6 439.5,908.6 440.5,907.6 441.5,906.7 442.5,905.7 443.5,904.7 444.3,903.9 444.5,903.8 445.5,902.8 446.5,901.9 447.5,901.1 448.5,900.3 449.5,899.5 450.5,898.8 451.5,898.0 452.5,897.3 453.5,896.5 454.5,895.7 455.5,895.0 456.5,894.1 457.5,893.3 458.5,892.4 459.5,891.5 460.5,890.5 461.5,889.5 462.5,888.4 463.1,887.7 463.5,887.2 464.5,885.8 465.5,884.3 466.5,882.6 467.5,880.8 468.5,878.9 469.5,877.0 470.5,875.0 471.5,873.0 472.5,871.0 473.5,869.0 474.5,867.1 475.5,865.3 475.6,865.1 476.5,863.6 477.5,861.8 478.5,860.0 479.5,858.2 480.5,856.5 481.5,854.7 482.5,852.9 483.5,851.2 484.5,849.4 485.5,847.7 486.5,846.0 487.5,844.3 488.5,842.6 489.5,840.9 490.5,839.3 491.5,837.7 492.5,836.1 493.1,835.1 493.5,834.5 494.5,833.0 495.5,831.4 496.5,829.9 497.5,828.3 498.5,826.8 499.5,825.3 500.5,823.8 501.5,822.3 502.5,820.9 503.5,819.4 504.5,818.0 505.5,816.6 506.5,815.3 507.5,814.0 508.5,812.7 509.5,811.4 510.5,810.2 510.7,810.0 511.5,809.1 512.5,807.9 513.5,806.8 514.5,805.8 515.5,804.7 516.5,803.7 517.5,802.7 518.5,801.7 519.5,800.7 520.5,799.8 521.5,798.8 522.5,797.9 523.5,796.9 524.5,796.0 525.5,795.0 526.5,794.1 527.5,793.1 528.5,792.2 529.5,791.2 530.5,790.2 530.7,790.0 531.5,789.2 532.5,788.2 533.5,787.2 534.5,786.1 535.5,785.1 536.5,784.1 537.5,783.1 538.5,782.1 539.5,781.1 540.0,780.5 540.5,780.0 541.5,779.0 542.5,777.9 543.5,776.8 544.5,775.7 545.5,774.6 546.5,773.5 547.5,772.4 548.5,771.4 549.5,770.3 550.5,769.3 551.5,768.4 552.5,767.5 553.5,766.7 554.5,765.9 555.0,765.5 555.5,765.2 556.5,764.5 557.5,763.9 558.5,763.2 559.5,762.6 560.5,762.0 561.5,761.3 562.5,760.7 563.5,760.2 564.5,759.6 565.5,759.1 566.5,758.5 567.5,758.0 568.5,757.6 569.5,757.1 570.5,756.7 571.5,756.2 572.5,755.8 573.5,755.5 574.5,755.1 575.5,754.8 576.5,754.5 577.5,754.3 577.6,754.3 578.5,754.0 579.5,753.8 580.5,753.5 581.5,753.3 582.5,753.1 583.5,752.8 584.5,752.6 585.5,752.4 586.5,752.2 587.5,752.0 588.5,751.9 589.5,751.7 590.5,751.5 591.5,751.4 592.5,751.3 593.5,751.2 594.5,751.1 595.5,751.0 596.5,751.0 597.5,751.0 597.6,751.0 598.5,751.0 599.5,751.1 600.5,751.2 601.5,751.4 602.5,751.6 603.5,751.9 604.5,752.1 605.5,752.3 606.5,752.6 607.5,752.8 608.5,753.0 609.5,753.2 610.5,753.4 611.5,753.5 612.5,753.5 612.6,753.5 613.5,753.1 614.5,751.9 615.5,750.1 616.5,748.0 617.5,745.8 618.5,743.9 619.5,742.3 620.1,741.7 620.5,741.5 621.5,740.8 622.5,740.1 623.5,739.5 624.5,738.9 625.5,738.3 626.5,737.8 627.5,737.3 628.5,736.9 629.5,736.5 630.5,736.2 631.5,735.9 632.5,735.7 633.5,735.6 634.5,735.5 635.2,735.5 635.5,735.5 636.5,735.5 637.5,735.6 638.5,735.8 639.5,736.0 640.5,736.2 641.5,736.3 642.5,736.5 643.5,736.6 644.5,736.7 645.2,736.7 645.5,736.6 646.5,734.9 647.5,732.2 648.5,729.8 648.9,729.2 649.5,728.7 650.5,727.8 651.5,727.1 652.5,726.4 653.5,725.9 654.5,725.3 655.5,724.9 656.5,724.4 657.5,724.0 658.5,723.6 659.5,723.2 660.2,723.0 660.5,722.8 661.5,722.4 662.5,722.0 663.5,721.6 664.5,721.2 665.5,720.9 666.5,720.5 667.5,720.2 668.5,719.8 669.5,719.5 670.5,719.1 671.5,718.8 672.5,718.5 673.5,718.2 674.5,718.0 675.5,717.7 676.5,717.5 677.5,717.2 678.5,717.0 679.5,716.8 680.2,716.7 680.5,716.6 681.5,716.5 682.5,716.3 683.5,716.1 684.5,716.0 685.5,715.8 686.5,715.7 687.5,715.6 688.5,715.4 689.5,715.3 690.5,715.2 691.5,715.1 692.5,714.9 693.5,714.8 694.5,714.7 695.5,714.6 696.5,714.5 697.5,714.4 698.5,714.3 699.5,714.3 700.3,714.2 700.5,714.2 701.5,714.1 702.5,714.0 703.5,713.9 704.5,713.8 705.5,713.7 706.5,713.6 707.5,713.6 708.5,713.5 709.5,713.4 710.5,713.3 711.5,713.2 712.5,713.1 713.5,713.1 714.5,713.0 715.5,712.9 716.5,712.8 717.5,712.8 718.5,712.7 719.5,712.7 720.5,712.6 721.5,712.6 722.5,712.5 723.5,712.5 724.5,712.5 725.5,712.5 726.5,712.4 727.5,712.4 727.8,712.4 728.5,712.4 729.5,712.4 730.5,712.4 731.5,712.4 732.5,712.4 733.5,712.5 734.5,712.5 735.5,712.5 736.5,712.5 737.5,712.5 738.5,712.5 739.5,712.5 740.5,712.5 741.5,712.5 742.5,712.6 743.5,712.6 744.5,712.6 745.5,712.6 746.5,712.6 747.5,712.6 748.5,712.7 749.5,712.7 750.5,712.7 751.5,712.7 752.5,712.7 753.5,712.8 754.5,712.8 755.5,712.8 756.5,712.8 757.5,712.9 758.5,712.9 759.5,712.9 760.4,712.9 760.5,712.9 761.5,713.0 762.5,713.0 763.5,713.0 764.5,713.1 765.5,713.1 766.5,713.2 767.5,713.2 768.5,713.3 769.5,713.3 770.5,713.4 771.5,713.5 772.5,713.5 773.5,713.6 774.5,713.7 775.5,713.7 776.5,713.8 777.5,713.9 778.5,714.0 779.5,714.1 780.5,714.2 781.5,714.3 782.5,714.4 783.5,714.5 784.5,714.6 785.5,714.7 786.5,714.8 787.5,714.9 787.9,714.9 788.5,715.0 789.5,715.1 790.5,715.3 791.5,715.5 792.5,715.7 793.5,715.9 794.5,716.1 795.5,716.3 796.5,716.5 797.5,716.7 798.5,717.0 799.5,717.2 800.5,717.4 801.5,717.6 802.5,717.9 802.9,717.9 803.5,718.1 804.5,718.3 805.5,718.6 806.5,718.8 807.5,719.1 808.5,719.3 809.5,719.6 810.5,719.7 811.5,719.9 812.5,719.9 812.9,719.9 813.5,719.8 814.5,719.0 815.5,717.8 816.5,716.5 817.5,715.6 818.0,715.4 818.5,715.3 819.5,715.1 820.5,714.9 821.5,714.7 822.5,714.6 823.5,714.4 824.5,714.3 825.5,714.3 826.5,714.2 827.5,714.2 828.0,714.2 828.5,714.2 829.5,714.2 830.5,714.2 831.5,714.2 832.5,714.2 833.5,714.2 834.5,714.2 835.5,714.2 836.5,714.2 837.5,714.2 838.5,714.2 839.5,714.2 840.5,714.2 841.5,714.2 842.5,714.2 843.5,714.2 844.5,714.2 845.5,714.2 846.5,714.2 847.5,714.2 848.5,714.2 849.5,714.2 850.5,714.2 851.5,714.2 852.5,714.2 853.5,714.2 854.5,714.2 855.5,714.2 856.5,714.2 857.5,714.2 858.5,714.2 859.5,714.2 860.5,714.2 861.5,714.2 862.5,714.2 863.0,714.2 863.5,714.4 864.5,716.2 865.5,719.0 866.5,722.1 866.8,723.0 867.5,725.3 868.5,729.2 869.5,733.4 870.5,737.5 871.5,740.9 871.8,741.7 872.5,743.6 873.5,746.3 874.5,748.4 875.5,749.2 875.5,749.2 876.5,748.0 877.5,745.0 878.5,741.9 878.6,741.7 879.5,738.8 880.5,736.0 881.1,735.5 881.5,735.8 882.5,738.1 883.5,740.8 884.3,741.7 884.5,741.7 885.5,741.7 886.5,741.5 887.5,741.4 888.5,741.1 889.5,740.8 890.5,740.5 890.6,740.5 891.5,739.9 892.5,738.9 893.5,737.5 894.5,735.8 895.5,734.2 896.5,732.6 897.5,731.1 898.1,730.5 898.5,730.0 899.5,728.9 900.5,727.8 901.5,726.6 902.5,725.5 903.5,724.4 904.5,723.4 905.5,722.5 906.5,721.6 907.5,721.0 908.5,720.4 909.5,720.1 910.5,719.9 910.6,719.9 911.5,720.0 912.5,720.0 913.5,720.0 914.5,720.0 915.5,720.1 916.5,720.1 917.5,720.2 918.5,720.3 919.5,720.3 920.5,720.4 921.5,720.5 922.5,720.6 923.5,720.7 924.5,720.8 925.5,721.0 926.5,721.1 927.5,721.2 928.5,721.3 929.5,721.5 930.5,721.6 931.5,721.7 932.5,721.9 933.5,722.0 934.5,722.1 935.5,722.3 936.5,722.4 937.5,722.5 938.5,722.7 939.5,722.8 940.5,722.9 940.7,723.0 941.5,723.1 942.5,723.2 943.5,723.3 944.5,723.5 945.5,723.6 946.5,723.7 947.5,723.9 948.5,724.0 949.5,724.2 950.5,724.3 951.5,724.5 952.5,724.6 953.5,724.8 954.5,724.9 955.5,725.1 956.5,725.3 957.5,725.4 958.5,725.6 959.5,725.8 960.5,726.0 961.5,726.1 962.5,726.3 963.5,726.5 964.5,726.7 965.5,726.9 966.5,727.1 967.5,727.3 968.5,727.5 969.5,727.7 970.5,727.9 970.7,728.0 971.5,728.1 972.5,728.4 973.5,728.7 974.5,729.0 975.5,729.3 976.5,729.6 977.5,729.9 978.5,730.1 979.5,730.4 980.0,730.5 980.5,730.6 981.5,730.7 982.5,730.9 983.5,731.0 984.5,731.1 985.5,731.3 986.5,731.4 987.5,731.5 988.5,731.6 989.5,731.7 990.5,731.8 991.5,731.9 992.5,732.1 993.5,732.2 994.5,732.4 995.5,732.5 996.5,732.7 997.5,733.0 997.5,733.0 998.5,733.3 999.5,733.8 1000.5,734.5 1001.5,735.2 1002.5,736.1 1003.5,736.9 1004.5,737.8 1005.5,738.7 1006.5,739.5 1007.5,740.3 1008.5,740.9 1009.5,741.4 1010.5,741.7 1011.3,741.7 1011.5,741.7 1012.5,741.6 1013.5,741.4 1014.5,741.0 1015.5,740.5 1016.5,740.0 1017.5,739.5 1018.5,739.0 1019.5,738.5 1020.5,738.1 1021.5,737.7 1022.5,737.5 1022.6,737.5 1023.5,737.3 1024.5,737.2 1025.5,737.1 1026.5,736.9 1027.5,736.8 1028.5,736.8 1029.5,736.7 1030.1,736.7 1030.5,737.1 1031.5,739.7 1032.5,741.7 1032.6,741.7 1033.5,741.0 1034.5,739.0 1035.5,736.5 1036.5,734.3 1037.5,733.0 1037.6,733.0 1038.5,732.6 1039.5,732.3 1040.5,732.0 1041.5,731.8 1042.5,731.5 1043.5,731.3 1044.5,731.0 1045.5,731.2 1046.5,730.9 1047.5,730.7 1048.5,730.8 1049.5,730.3 1050.5,730.2 1051.5,730.1 1052.5,730.6 1053.5,729.9 1054.5,730.2 1055.1,730.7 1055.5,730.4 1056.5,729.4 1057.5,729.6 1058.5,729.5 1059.5,729.7 1060.5,729.1 1061.5,729.9 1062.5,729.6 1063.5,728.7 1064.5,729.3 1065.5,728.8 1066.5,728.8 1067.5,728.6 1068.5,729.4 1069.5,728.8 1070.5,728.4 1071.5,729.1 1072.5,728.1 1073.5,728.3 1074.5,728.4 1075.5,728.9 1076.5,728.3 1077.5,728.6 1077.7,728.8 1078.5,729.0 1079.5,727.8 1080.5,728.5 1081.5,728.4 1082.5,728.6 1083.5,728.5 1084.5,729.1 1085.5,729.0 1086.5,728.2 1087.5,729.1 1088.5,728.6 1089.5,728.7 1090.5,729.1 1091.5,729.6 1092.5,729.4 1093.5,729.2 1094.5,730.0 1095.5,729.1 1096.5,729.6 1097.5,730.1 1098.5,730.3 1099.5,730.4 1100.2,730.4 1100.5,730.9 1101.5,732.1 1102.5,731.7 1103.5,733.5 1104.5,734.3 1105.5,735.1 1106.5,736.2 1107.2,737.0 1107.5,736.8 1108.5,735.0 1109.5,731.7 1110.2,731.8 1110.5,732.5 1111.5,732.3 1112.5,733.1 1113.5,735.1 1114.5,735.8 1115.5,736.3 1116.5,736.5 1117.5,738.6 1117.7,738.5 1118.5,736.0 1119.5,736.2 1120.5,736.5 1121.5,734.8 1121.5,734.8 1122.5,736.6 1123.5,737.6 1124.5,739.0 1125.2,738.3 1125.5,737.7 1126.5,738.8 1127.5,738.3 1128.5,737.0 1129.5,737.9 1130.2,737.2 1130.5,737.3 1131.5,737.5 1132.5,736.9 1133.5,738.8 1134.5,738.3 1135.5,738.7 1136.5,741.0 1137.5,740.4 1137.8,740.5 1138.5,741.6 1139.5,742.2 1140.5,744.2 1141.5,743.3 1142.5,745.7 1143.5,748.5 1144.5,747.7 1145.3,749.9 1145.5,750.7 1146.5,751.9 1147.5,753.3 1148.5,753.0 1149.5,757.1 1150.5,759.2 1151.5,759.0 1152.3,763.2 1152.5,763.9 1153.5,759.4 1154.5,756.2 1155.5,752.9 1156.0,752.7 1156.5,754.3 1157.5,754.8 1158.5,756.6 1159.5,762.2 1160.5,760.8 1161.5,762.4 1162.5,763.7 1162.8,764.0 1163.5,765.7 1164.5,766.6 1165.5,771.2 1166.5,774.6 1167.5,773.1 1168.5,775.0 1169.5,775.5 1170.3,775.6 1170.5,775.9 1171.5,778.2 1172.5,783.9 1173.5,787.0 1174.5,786.8 1175.5,789.6 1176.5,788.9 1177.5,789.4 1177.8,790.9 1178.5,793.1 1179.5,797.1 1180.5,800.1 1181.5,802.6 1182.5,805.7 1183.5,804.1 1184.5,805.9 1185.5,809.2 1186.5,810.0 1186.6,810.4 1187.5,815.5 1188.5,821.1 1189.5,824.7 1190.5,823.1 1191.5,826.4 1192.5,828.3 1193.5,828.6 1194.1,833.7 1194.5,836.1 1195.5,840.3 1196.5,843.2 1197.5,843.1 1198.5,845.8 1199.5,845.2 1200.5,845.9 1201.5,853.1 1201.6,853.3 1202.5,857.1 1203.5,863.4 1204.5,866.5 1205.5,869.5 1206.5,867.9 1207.5,872.1 1207.9,876.5 1208.5,879.6 1209.5,878.4 1210.5,883.6 1211.5,885.9 1212.5,888.3 1213.5,887.9 1214.1,889.9 1214.5,894.1 1215.5,896.8 1215.9,896.6 1216.5,890.7 1217.5,892.1 1218.5,886.8 1219.1,884.7 1219.5,884.8 1220.5,884.4 1221.5,885.4 1222.5,884.1 1223.5,883.4 1224.5,884.6 1225.5,883.3 1226.5,883.9 1226.7,884.1 1227.5,878.7 1228.5,873.2 1229.2,866.1 1229.5,861.7 1230.5,856.4 1231.5,852.9 1232.5,840.4 1232.9,839.2 1233.5,841.2 1234.5,838.4 1235.5,835.2 1236.5,830.2 1237.5,828.8 1238.5,824.3 1239.5,816.2 1240.4,818.2 1240.5,818.2 1241.5,816.5 1242.5,815.8 1243.5,815.4 1244.5,814.8 1245.5,812.9 1246.5,811.2 1247.5,812.3 1248.5,809.6 1249.2,808.7 1249.5,811.5 1250.5,817.8 1251.5,820.6 1252.5,822.5 1252.9,824.4 1253.5,822.2 1254.5,820.9 1255.5,811.1 1256.5,813.7 1257.5,811.0 1257.5,810.9 1258.5,813.3 1259.5,818.7 1260.5,823.0 1261.5,826.5 1261.7,826.2 1262.5,824.6 1263.5,826.4 1264.5,823.8 1265.5,822.7 1266.5,823.0 1266.7,822.5 1267.5,822.5 1268.5,824.8 1269.5,828.1 1270.5,838.3 1271.5,837.3 1272.5,840.7 1273.5,842.7 1274.2,842.3 1274.5,842.6 1275.5,847.0 1276.5,853.0 1277.5,861.4 1278.5,861.9 1279.2,868.4 1279.5,870.5 1280.5,871.7 1281.5,871.2 1282.5,878.5 1283.5,883.2 1284.5,890.9 1285.5,895.6 1285.5,895.6 1286.5,906.1 1287.5,905.7 1288.5,906.4 1289.5,913.6 1290.5,914.1 1291.5,921.6 1292.5,928.7 1293.0,932.6 1293.5,935.3 1294.5,935.0 1295.5,937.9 1296.5,943.0 1297.5,941.1 1298.5,947.0 1299.5,949.1 1300.5,952.2 1300.5,952.3 1301.5,952.0 1302.5,953.3 1303.5,953.4 1304.5,952.0 1305.5,953.2 1306.5,952.1 1307.5,951.7 1308.5,951.5 1309.5,952.3 1310.5,951.6 1310.5,951.5 1311.5,948.3 1312.5,949.8 1313.5,942.2 1314.5,940.2 1315.5,938.1 1316.5,936.1 1316.8,935.6 1317.5,930.7 1318.5,928.2 1319.5,927.0 1320.5,914.9 1321.5,914.1 1322.5,908.2 1323.5,902.0 1324.3,899.1 1324.5,898.4 1325.5,897.8 1326.5,894.8 1327.5,887.3 1328.5,888.2 1329.5,881.4 1330.5,877.3 1331.5,875.5 1332.5,872.5 1333.1,871.0 1333.5,868.7 1334.5,864.2 1335.5,861.8 1336.5,855.7 1337.5,852.2 1338.5,848.5 1339.5,844.4 1340.5,840.4 1340.6,840.1 1341.5,837.0 1342.5,833.8 1343.5,830.8 1344.5,827.9 1345.5,825.0 1346.5,822.1 1347.5,819.3 1348.5,816.4 1349.5,813.4 1350.5,810.4 1350.6,810.0 1351.5,807.0 1352.5,803.4 1353.5,799.6 1354.5,795.9 1355.5,792.2 1356.5,788.8 1357.5,785.8 1358.5,783.3 1358.6,783.0 1359.5,781.2 1360.5,779.3 1361.5,777.4 1362.5,775.7 1363.5,774.0 1364.5,772.5 1365.5,771.0 1366.5,769.7 1367.5,768.5 1368.5,767.4 1369.5,766.5 1370.5,765.6 1370.6,765.5 1371.5,764.9 1372.5,764.2 1373.5,763.5 1374.5,762.8 1375.5,762.2 1376.5,761.6 1377.5,761.0 1378.5,760.5 1379.5,760.0 1380.5,759.6 1381.5,759.2 1382.5,758.8 1383.5,758.5 1384.5,758.2 1385.5,758.0 1385.7,758.0 1386.5,757.9 1387.5,757.7 1388.5,757.5 1389.5,757.4 1390.5,757.2 1391.5,757.1 1392.5,757.0 1393.5,756.8 1394.5,756.7 1395.5,756.6 1396.5,756.5 1397.5,756.4 1398.5,756.3 1399.5,756.2 1400.5,756.2 1401.5,756.1 1402.5,756.1 1403.5,756.0 1404.5,756.0 1405.5,756.0 1406.0,756.0 1406.5,756.0 1407.5,756.1 1408.5,756.4 1409.5,756.7 1410.5,757.1 1411.5,757.6 1412.5,758.1 1413.5,758.7 1414.5,759.4 1415.5,760.1 1416.0,760.5 1416.5,760.9 1417.5,762.0 1418.5,763.4 1419.5,765.2 1420.5,767.2 1421.5,769.4 1422.5,771.7 1423.5,774.1 1424.5,776.6 1425.5,779.1 1426.1,780.5 1426.5,781.7 1427.5,784.4 1428.5,787.5 1429.5,790.8 1430.5,794.2 1431.5,797.7 1432.5,801.2 1433.5,804.6 1434.5,807.9 1435.5,810.9 1436.1,812.5 1436.5,813.7 1437.5,816.6 1438.5,819.4 1439.5,822.2 1440.5,824.6 1441.5,826.5 1442.3,827.6 1442.5,827.7 1443.5,828.7 1444.5,829.5 1445.5,830.3 1446.5,831.0 1447.5,831.5 1448.5,831.9 1449.5,832.1 1449.9,832.1 1450.5,832.1 1451.5,832.0 1452.5,831.8 1453.5,831.5 1454.5,831.2 1455.5,830.9 1456.5,830.5 1457.4,830.1 1457.5,830.0 1458.5,829.0 1459.5,827.3 1460.5,825.2 1461.5,822.8 1462.5,820.3 1463.5,817.8 1463.6,817.5 1464.5,815.5 1465.5,812.9 1466.5,810.2 1467.5,807.4 1468.5,804.5 1469.5,801.8 1470.5,799.1 1471.1,797.5 1471.5,796.6 1472.5,794.1 1473.5,791.8 1474.1,790.6 1474.5,790.0 1475.5,788.4 1476.5,787.0 1477.5,785.6 1478.5,784.3 1479.5,783.1 1480.5,781.9 1481.5,780.9 1482.5,779.9 1483.5,779.0 1484.5,778.1 1485.5,777.3 1486.2,776.8 1486.5,776.5 1487.5,775.8 1488.5,775.1 1489.5,774.4 1490.5,773.7 1491.5,773.0 1492.5,772.4 1493.5,771.8 1494.5,771.3 1495.5,770.9 1496.5,770.5 1497.5,770.2 1498.5,770.1 1498.7,770.0 1499.5,769.9 1500.5,769.8 1501.5,769.8 1502.5,769.7 1503.5,769.7 1504.5,769.6 1505.5,769.6 1506.5,769.5 1507.5,769.4 1508.5,769.3 1508.7,769.3 1509.5,769.1 1510.5,768.8 1511.5,768.3 1512.5,767.7 1513.5,767.0 1514.5,766.2 1515.5,765.3 1516.5,764.3 1517.5,763.2 1518.5,762.0 1518.7,761.8 1519.5,760.5 1520.5,758.3 1521.5,755.5 1522.5,752.3 1523.5,748.9 1524.5,745.6 1525.5,742.5 1526.2,740.5 1526.5,739.8 1527.5,737.1 1528.5,734.5 1529.5,731.9 1530.5,729.4 1531.5,727.0 1532.5,725.0 1533.5,723.3 1533.7,723.0 1534.5,721.9 1535.5,720.6 1536.5,719.4 1537.5,718.3 1538.5,717.3 1539.5,716.5 1540.5,715.8 1541.3,715.4 1541.5,715.3 1542.5,714.9 1543.5,714.6 1544.5,714.2 1545.5,713.9 1546.5,713.6 1547.5,713.3 1548.5,713.1 1549.5,712.9 1550.5,712.7 1551.5,712.6 1552.5,712.5 1553.5,712.4 1553.8,712.4 1554.5,712.5 1555.5,712.5 1556.5,712.7 1557.5,712.9 1558.5,713.2 1559.5,713.5 1560.5,713.9 1561.3,714.2 1561.5,714.3 1562.5,715.2 1563.5,716.8 1564.5,719.1 1565.5,722.3 1566.3,725.5 1566.5,726.8 1567.5,743.4 1568.5,765.2 1568.8,770.5 1569.5,783.1 1570.5,801.6 1571.5,813.0 1571.8,813.8 1572.5,809.0 1573.5,791.3 1574.5,771.5 1574.6,770.5 1575.5,751.2 1576.3,740.5 1576.5,739.9 1577.5,737.5 1578.5,735.8 1579.5,734.7 1580.5,734.2 1580.8,734.2 1581.5,734.8 1582.5,737.3 1583.5,740.7 1584.5,744.0 1585.1,745.5 1585.5,746.4 1586.5,748.8 1587.5,751.0 1588.5,752.9 1589.5,754.1 1590.1,754.3 1590.5,754.1 1591.5,753.0 1592.5,751.1 1593.5,748.8 1594.5,746.6 1595.1,745.5 1595.5,744.8 1596.5,742.9 1597.5,741.1 1598.5,740.1 1598.8,740.0 1599.5,740.0 1600.5,740.2 1601.5,740.4 1602.5,740.8 1603.5,741.3 1604.5,741.8 1605.5,742.3 1606.5,742.9 1607.5,743.5 1608.5,744.0 1608.9,744.2 1609.5,744.6 1610.5,745.2 1611.5,745.9 1612.5,746.6 1613.5,747.4 1614.5,748.2 1615.5,749.0 1616.5,749.8 1617.5,750.7 1618.5,751.5 1619.5,752.3 1620.5,753.1 1621.5,753.9 1622.5,754.6 1623.5,755.3 1623.9,755.5 1624.5,755.9 1625.5,756.4 1626.5,756.9 1627.5,757.4 1628.5,757.9 1629.5,758.3 1630.5,758.7 1631.5,759.2 1632.5,759.6 1633.5,760.0 1634.5,760.5 1635.5,761.0 1636.5,761.5 1637.5,762.1 1638.5,762.7 1638.9,763.0 1639.5,763.4 1640.5,764.1 1641.5,764.8 1642.5,765.6 1643.5,766.4 1644.5,767.3 1645.5,768.3 1646.5,769.5 1647.5,770.8 1648.5,772.3 1648.9,773.0 1649.5,774.4 1650.5,778.5 1651.5,783.8 1652.5,789.4 1653.5,794.4 1654.5,797.8 1655.2,798.8 1655.5,798.9 1656.5,799.1 1657.5,799.3 1658.5,799.4 1659.5,799.6 1660.5,799.8 1661.4,800.0 1661.5,800.0 1662.5,800.6 1663.5,801.7 1664.5,803.0 1665.5,804.4 1666.5,805.9 1667.5,807.2 1668.5,808.4 1669.0,808.8 1669.5,809.2 1670.5,809.7 1671.5,810.2 1672.5,810.6 1673.5,811.2 1674.5,811.9 1675.2,812.5 1675.5,812.9 1676.5,815.5 1677.5,819.3 1678.5,823.6 1679.5,827.7 1680.2,830.1 1680.5,830.8 1681.5,833.3 1682.5,835.7 1683.5,837.8 1684.5,839.9 1685.5,841.9 1686.5,843.8 1686.5,843.9 1687.5,846.0 1688.5,848.3 1689.5,850.7 1690.5,852.9 1691.5,854.8 1692.5,856.2 1693.5,857.0 1694.0,857.1 1694.5,856.7 1695.5,854.1 1696.5,849.9 1697.5,845.2 1698.5,841.4 1699.0,840.1 1699.5,839.1 1700.5,837.2 1701.5,835.4 1702.5,833.7 1703.5,832.3 1704.5,831.2 1705.5,830.4 1706.5,830.1 1706.5,830.1 1707.5,830.0 1708.5,829.8 1709.5,829.8 1710.5,829.7 1711.5,829.6 1712.5,829.6 1713.5,829.5 1714.5,829.5 1715.5,829.5 1716.5,829.4 1717.5,829.4 1718.5,829.4 1719.5,829.5 1720.5,829.5 1721.5,829.2 1722.5,829.5 1723.5,829.1 1724.5,828.9 1725.5,829.3 1726.5,829.1 1727.5,829.1 1728.5,828.8 1729.1,829.1 1729.5,829.3 1730.5,827.7 1731.5,827.1 1732.5,827.0 1733.5,825.4 1734.5,825.1 1735.5,824.5 1736.5,824.3 1736.6,824.2 1737.5,823.1 1738.5,823.5 1739.5,823.4 1740.5,822.6 1741.5,823.4 1742.5,823.2 1743.5,823.1 1744.5,822.5 1745.5,823.1 1746.5,822.4 1747.5,822.1 1748.5,823.0 1749.5,822.5 1750.5,822.6 1751.5,822.5 1752.5,822.7 1753.5,821.8 1754.5,821.9 1755.5,822.5 1756.5,821.6 1757.5,822.2 1758.5,822.1 1759.5,821.9 1760.5,821.1 1761.5,821.3 1761.6,821.4 1762.5,821.1 1763.5,819.7 1764.5,820.4 1765.5,819.2 1766.5,818.0 1767.5,816.7 1768.5,815.9 1769.5,814.3 1770.5,812.8 1771.5,813.5 1771.6,813.3 1772.5,811.6 1773.5,810.9 1774.5,810.1 1775.5,808.8 1776.5,807.1 1777.5,806.3 1778.5,806.3 1779.5,804.4 1780.5,804.8 1781.5,804.2 1781.6,804.0 1782.5,803.5 1783.5,803.1 1784.5,803.0 1785.5,802.9 1786.5,802.1 1786.7,802.2 1787.5,807.2 1788.5,809.8 1788.7,810.0 1789.5,805.6 1790.5,801.0 1791.2,797.4 1791.5,797.3 1792.5,796.6 1793.5,796.0 1794.5,795.7 1795.4,795.0 L1798.0,795.0 L1798.0,1066.5"/>
<path stroke="#0000ff" d="M103.5,512.1 104.5,512.1 105.0,512.1 105.5,512.1 106.5,512.2 107.5,512.4 108.5,512.7 109.5,513.1 110.5,513.5 111.5,514.1 112.5,514.6 113.5,515.3 114.5,516.0 115.5,516.7 116.5,517.4 117.5,518.2 118.5,519.0 119.5,519.7 120.5,520.5 121.5,521.3 122.5,522.0 123.5,522.9 124.5,523.8 125.0,523.9 125.5,523.7 126.5,524.5 127.5,526.9 128.5,526.5 129.5,527.7 130.5,529.0 131.5,530.1 132.5,531.5 133.5,529.4 134.5,531.1 135.1,532.3 135.5,532.3 136.5,531.2 137.5,531.4 138.5,531.0 139.5,531.7 140.5,532.6 141.5,530.1 142.5,530.0 143.5,533.3 144.5,531.3 145.5,530.7 146.3,532.1 146.5,532.6 147.5,534.1 148.5,537.0 149.5,536.0 150.1,537.9 150.5,538.9 151.5,538.0 152.5,534.8 153.5,534.7 153.8,533.3 154.5,532.4 155.5,532.9 156.5,534.1 157.5,533.3 158.5,532.7 159.5,537.8 160.5,537.8 161.5,536.0 162.5,539.4 163.5,539.6 164.5,541.4 165.1,540.6 165.5,539.7 166.5,543.1 167.5,546.8 168.5,545.2 169.5,547.9 170.5,548.3 171.5,549.3 172.5,551.3 172.6,551.8 173.5,548.2 174.5,540.7 175.1,540.2 175.5,542.6 176.5,546.5 177.5,542.8 178.5,547.8 179.5,549.8 180.1,551.6 180.5,551.5 181.5,548.8 182.5,548.3 183.5,550.9 184.5,546.4 185.1,545.2 185.5,547.7 186.5,549.8 187.5,551.3 188.5,554.9 188.9,556.7 189.5,555.9 190.5,553.1 191.5,552.4 192.5,552.8 193.2,548.0 193.5,546.9 194.5,550.8 195.5,554.5 196.5,557.0 197.5,558.3 198.2,558.6 198.5,558.6 199.5,561.7 200.5,556.2 201.5,553.8 202.5,554.5 202.7,554.2 203.5,554.0 204.5,554.5 205.5,555.3 206.5,555.6 207.5,556.8 208.5,559.5 209.5,556.9 210.5,558.9 211.5,562.2 212.5,563.0 212.7,563.4 213.5,564.5 214.5,563.7 215.5,569.7 216.5,568.2 217.5,567.0 217.7,567.9 218.5,574.6 219.5,576.6 220.5,581.1 221.4,584.1 221.5,584.1 222.5,583.5 223.5,583.2 224.5,583.9 225.2,583.2 225.5,583.0 226.5,584.4 227.5,593.8 228.5,595.7 228.5,595.7 229.5,594.8 230.5,591.0 231.5,593.0 232.5,591.3 232.7,590.1 233.5,587.8 234.5,596.0 235.5,598.3 236.5,599.8 237.5,601.5 238.5,605.1 239.0,605.4 239.5,605.2 240.5,606.4 241.5,605.4 242.5,605.8 243.5,608.7 244.5,607.7 245.2,609.1 245.5,610.6 246.5,609.6 247.5,617.0 248.5,624.1 249.5,620.5 250.2,628.2 250.5,629.4 251.5,631.2 252.5,629.8 253.5,629.6 254.0,629.1 254.5,634.1 255.5,639.2 256.5,643.1 257.3,653.4 257.5,653.7 258.5,653.9 259.5,656.8 260.5,658.8 261.5,660.7 262.5,660.8 263.5,662.8 264.0,667.0 264.5,672.1 265.5,674.0 266.5,685.8 267.5,693.9 268.5,698.9 269.0,702.3 269.5,702.7 270.5,705.4 271.5,708.5 272.5,707.6 273.5,713.9 274.0,717.4 274.5,717.3 275.5,720.3 276.5,726.6 277.5,731.8 278.5,736.4 279.0,736.7 279.5,739.0 280.5,748.6 281.5,747.9 282.5,751.4 283.5,756.4 284.5,756.6 285.5,758.4 286.5,761.8 287.5,771.2 287.8,771.5 288.5,770.0 289.5,775.4 290.5,776.3 291.5,775.2 292.5,777.8 293.5,781.5 294.5,787.8 295.5,788.6 296.5,795.8 297.5,795.4 298.5,794.7 299.5,797.7 300.5,798.5 301.5,802.7 302.5,806.2 302.8,809.0 303.5,814.0 304.5,812.9 305.5,813.5 306.5,816.2 307.5,814.9 308.5,819.1 309.1,821.6 309.5,822.8 310.5,825.8 311.5,825.4 312.5,828.0 313.5,829.8 314.5,829.0 315.3,831.3 315.5,831.4 316.5,831.4 317.5,831.6 318.5,831.7 319.5,832.3 320.5,832.3 321.5,832.2 322.5,832.6 322.9,832.6 323.5,832.7 324.5,833.2 325.5,833.9 326.5,834.6 327.5,835.5 328.5,836.4 329.5,837.3 330.5,838.2 331.5,839.0 332.5,839.8 332.9,840.1 333.5,840.5 334.5,841.2 335.5,842.0 336.5,842.7 337.5,843.5 338.5,844.2 339.5,845.0 340.5,845.7 341.5,846.3 342.5,847.0 343.5,847.5 344.5,848.0 345.5,848.5 346.5,848.8 346.7,848.8 347.5,849.1 348.5,849.4 349.5,849.6 350.5,849.8 351.5,850.0 352.5,850.1 352.9,850.1 353.5,850.1 354.5,850.0 355.5,849.9 356.5,849.7 357.5,849.5 358.5,849.3 359.5,849.0 360.5,848.8 361.5,848.6 362.5,848.4 363.5,848.2 364.5,848.1 365.4,848.1 365.5,848.1 366.5,848.2 367.5,848.3 368.5,848.5 369.5,848.8 370.5,849.1 371.5,849.4 372.5,849.8 373.5,850.1 374.5,850.5 375.5,850.8 376.5,851.0 377.5,851.2 378.5,851.3 379.2,851.3 379.5,851.3 380.5,851.2 381.5,850.8 382.5,850.3 383.5,849.7 384.5,848.9 385.5,848.2 386.5,847.4 387.5,846.7 388.0,846.3 388.5,846.0 389.5,845.2 390.5,844.5 391.5,843.7 392.5,842.9 393.5,842.0 394.5,841.1 395.5,840.2 396.5,839.2 397.5,838.3 398.5,837.3 399.5,836.3 400.5,835.2 401.5,834.2 402.5,833.1 403.0,832.6 403.5,832.0 404.5,830.9 405.5,829.6 406.5,828.4 407.5,827.1 408.5,825.7 409.5,824.4 410.5,823.0 411.5,821.6 412.5,820.2 413.5,818.8 414.5,817.3 415.5,815.9 416.5,814.6 417.5,813.2 418.0,812.5 418.5,811.9 419.5,810.6 420.5,809.2 421.5,807.8 422.5,806.5 423.5,805.1 424.5,803.7 425.5,802.4 426.5,801.0 427.5,799.7 428.5,798.4 429.5,797.2 430.5,796.0 431.5,794.8 432.5,793.7 433.0,793.1 433.5,792.6 434.5,791.5 435.5,790.5 436.5,789.4 437.5,788.4 438.5,787.4 439.5,786.4 440.5,785.4 441.5,784.5 442.5,783.6 443.5,782.7 444.5,781.9 445.5,781.1 446.5,780.4 447.5,779.7 448.1,779.3 448.5,779.0 449.5,778.4 450.5,777.9 451.5,777.5 452.5,777.1 453.5,776.7 454.5,776.4 455.5,776.0 456.5,775.6 457.5,775.2 458.5,774.8 459.5,774.3 460.5,773.7 461.5,773.0 462.5,772.3 463.1,771.8 463.5,771.4 464.5,769.9 465.5,768.0 466.5,765.6 467.5,763.1 468.5,760.5 469.5,758.0 470.5,755.7 470.6,755.5 471.5,753.6 472.5,751.6 473.5,749.5 474.5,747.5 475.5,745.5 476.5,743.5 477.5,741.5 478.5,739.6 479.5,737.6 480.5,735.6 481.5,733.6 482.5,731.7 483.5,729.7 484.5,727.7 485.5,725.7 485.6,725.5 486.5,723.7 487.5,721.7 488.5,719.7 489.5,717.6 490.5,715.6 491.5,713.6 492.5,711.5 493.5,709.5 494.5,707.5 495.5,705.5 496.5,703.5 497.5,701.5 498.5,699.6 499.5,697.6 500.5,695.7 500.7,695.4 501.5,693.8 502.5,691.9 503.5,690.0 504.5,688.1 505.5,686.2 506.5,684.3 507.5,682.4 508.5,680.5 509.5,678.7 510.5,676.8 511.5,675.0 512.5,673.1 513.5,671.3 514.5,669.6 515.5,667.8 516.5,666.1 517.5,664.4 518.5,662.7 519.5,661.0 520.5,659.4 520.7,659.1 521.5,657.8 522.5,656.2 523.5,654.7 524.5,653.1 525.5,651.6 526.5,650.1 527.5,648.6 528.5,647.1 529.5,645.6 530.5,644.2 531.5,642.8 532.5,641.4 533.5,640.0 534.5,638.6 535.5,637.2 536.5,635.9 537.5,634.5 538.5,633.2 539.5,631.9 540.5,630.6 540.7,630.3 541.5,629.3 542.5,628.0 543.5,626.8 544.5,625.5 545.5,624.3 546.5,623.1 547.5,621.9 548.5,620.7 549.5,619.5 550.5,618.4 551.5,617.2 552.5,616.1 553.5,615.0 554.5,613.8 555.5,612.7 556.5,611.6 557.5,610.5 558.5,609.4 559.5,608.3 560.0,607.8 560.5,607.3 561.5,606.2 562.5,605.1 563.5,604.0 564.5,602.9 565.5,601.8 566.5,600.8 567.5,599.7 568.5,598.6 569.5,597.6 570.5,596.6 571.5,595.5 572.5,594.5 573.5,593.6 574.5,592.6 575.5,591.7 576.5,590.7 577.5,589.9 578.5,589.0 579.5,588.2 580.1,587.7 580.5,587.4 581.5,586.6 582.5,585.9 583.5,585.2 584.5,584.5 585.5,583.9 586.5,583.3 587.5,582.6 588.5,582.0 589.5,581.5 590.5,580.9 591.5,580.3 592.5,579.7 593.5,579.2 594.5,578.6 595.5,578.1 596.5,577.5 597.5,576.9 598.5,576.3 599.5,575.8 600.5,575.1 601.5,574.5 602.5,573.9 603.5,573.2 604.5,572.5 605.5,571.8 606.5,571.1 607.5,570.3 607.6,570.2 608.5,569.5 609.5,568.5 610.5,567.5 611.5,566.5 612.5,565.4 613.5,564.2 614.5,563.1 615.5,562.0 616.5,560.8 617.5,559.7 618.5,558.7 619.5,557.7 620.5,556.8 621.5,556.0 622.5,555.3 622.6,555.2 623.5,554.6 624.5,554.1 625.5,553.5 626.5,553.0 627.5,552.6 628.5,552.1 629.5,551.7 630.5,551.3 631.5,550.9 632.5,550.5 633.5,550.2 634.5,549.8 635.5,549.4 636.5,549.1 637.5,548.7 638.5,548.3 639.5,547.9 640.5,547.5 641.5,547.0 642.5,546.6 643.5,546.1 644.5,545.5 645.2,545.2 645.5,545.0 646.5,544.3 647.5,543.6 648.5,542.9 649.5,542.1 650.5,541.3 651.5,540.5 652.5,539.7 653.5,538.9 654.5,538.1 655.2,537.7 655.5,537.4 656.5,536.7 657.5,536.0 658.5,535.3 659.5,534.5 660.5,533.8 661.5,533.0 662.5,532.3 663.5,531.6 664.5,530.9 665.5,530.2 666.5,529.5 667.5,528.8 668.5,528.2 669.5,527.5 670.5,527.0 671.5,526.4 672.5,525.9 673.5,525.4 674.5,524.9 675.2,524.6 675.5,524.5 676.5,524.1 677.5,523.8 678.5,523.4 679.5,523.1 680.5,522.7 681.5,522.4 682.5,522.1 683.5,521.8 684.5,521.5 685.5,521.2 686.5,520.9 687.5,520.6 688.5,520.4 689.5,520.1 690.5,519.9 691.5,519.6 692.5,519.4 693.5,519.1 694.5,518.9 695.5,518.7 696.5,518.5 697.5,518.2 698.5,518.0 699.5,517.8 700.3,517.6 700.5,517.6 701.5,517.3 702.5,517.1 703.5,516.9 704.5,516.7 705.5,516.4 706.5,516.2 707.5,516.0 708.5,515.8 709.5,515.6 710.5,515.4 711.5,515.2 712.5,515.0 713.5,514.8 714.5,514.6 715.5,514.5 716.5,514.3 717.5,514.2 718.5,514.1 719.5,513.9 720.3,513.9 720.5,513.8 721.5,513.7 722.5,513.7 723.5,513.6 724.5,513.5 725.5,513.4 726.5,513.3 727.5,513.2 728.5,513.1 729.5,513.1 730.5,513.0 731.5,512.9 732.5,512.9 733.5,512.8 734.5,512.8 735.5,512.7 736.5,512.7 737.5,512.6 738.5,512.6 739.5,512.6 740.3,512.6 740.5,512.6 741.5,512.6 742.5,512.6 743.5,512.6 744.5,512.6 745.5,512.6 746.5,512.7 747.5,512.7 748.5,512.7 749.5,512.7 750.5,512.7 751.5,512.7 752.5,512.8 753.5,512.8 754.5,512.8 755.5,512.8 756.5,512.9 757.5,512.9 758.5,512.9 759.5,512.9 760.5,513.0 761.5,513.0 762.5,513.0 763.5,513.1 764.5,513.1 765.4,513.1 765.5,513.1 766.5,513.1 767.5,513.2 768.5,513.2 769.5,513.3 770.5,513.3 771.5,513.3 772.5,513.4 773.5,513.4 774.5,513.5 775.5,513.6 776.5,513.6 777.5,513.7 778.5,513.8 779.5,513.8 780.5,513.9 781.5,514.0 782.5,514.1 783.5,514.2 784.5,514.3 785.5,514.4 786.5,514.5 787.5,514.6 787.9,514.6 788.5,514.7 789.5,514.9 790.5,515.1 791.5,515.3 792.5,515.6 793.5,515.8 794.5,516.2 795.5,516.5 796.5,516.8 797.5,517.2 798.5,517.5 799.5,517.8 800.5,518.2 801.5,518.5 802.5,518.8 802.9,518.9 803.5,519.0 804.5,519.3 805.5,519.7 806.5,520.0 807.5,520.3 808.5,520.6 809.5,520.9 810.5,521.1 811.5,521.3 812.5,521.4 812.9,521.4 813.5,521.2 814.5,520.1 815.5,518.5 816.5,516.9 817.5,515.8 818.0,515.6 818.5,515.5 819.5,515.3 820.5,515.2 821.5,515.0 822.5,514.9 823.5,514.8 824.5,514.7 825.5,514.7 826.5,514.6 827.5,514.6 828.0,514.6 828.5,514.6 829.5,514.6 830.5,514.6 831.5,514.6 832.5,514.6 833.5,514.6 834.5,514.7 835.5,514.7 836.5,514.7 837.5,514.7 838.5,514.7 839.5,514.8 840.5,514.8 841.5,514.8 842.5,514.8 843.5,514.9 844.5,514.9 845.5,514.9 846.5,515.0 847.5,515.0 848.5,515.0 849.5,515.1 850.5,515.1 850.5,515.1 851.5,515.2 852.5,515.2 853.5,515.2 854.5,515.3 855.5,515.3 856.5,515.4 857.5,515.5 858.5,515.6 859.5,515.7 860.5,515.9 861.5,516.1 862.5,516.2 863.0,516.4 863.5,516.7 864.5,518.5 865.5,521.3 866.5,524.3 866.8,525.1 867.5,527.4 868.5,531.2 869.5,535.3 870.5,539.1 871.5,542.0 871.8,542.7 872.5,544.0 873.5,545.8 874.5,547.1 875.5,547.7 875.5,547.7 876.5,546.6 877.5,544.2 878.5,541.5 878.6,541.4 879.5,538.6 880.5,535.7 881.1,535.1 881.5,535.5 882.5,537.8 883.5,540.4 884.3,541.4 884.5,541.4 885.5,541.4 886.5,541.4 887.5,541.4 888.5,541.4 889.5,541.4 890.5,541.4 890.6,541.4 891.5,541.2 892.5,540.4 893.5,539.3 894.5,538.0 895.5,536.7 896.5,535.4 897.5,534.3 898.1,533.9 898.5,533.6 899.5,533.0 900.5,532.3 901.5,531.7 902.5,531.0 903.5,530.5 904.5,529.9 905.5,529.4 906.5,529.0 907.5,528.6 908.5,528.4 909.5,528.2 910.5,528.1 910.6,528.1 911.5,528.1 912.5,528.2 913.5,528.3 914.5,528.4 915.5,528.5 916.5,528.7 917.5,528.8 918.5,529.0 919.5,529.3 920.5,529.5 921.5,529.8 922.5,530.0 923.5,530.3 924.5,530.6 925.5,530.9 926.5,531.2 927.5,531.5 928.5,531.8 929.5,532.1 930.5,532.4 931.5,532.7 932.5,533.0 933.5,533.3 934.5,533.6 935.5,533.9 935.6,533.9 936.5,534.1 937.5,534.4 938.5,534.7 939.5,534.9 940.5,535.2 941.5,535.5 942.5,535.8 943.5,536.1 944.5,536.4 945.5,536.7 946.5,537.0 947.5,537.3 948.5,537.6 949.5,537.9 950.5,538.2 951.5,538.5 952.5,538.8 953.5,539.1 954.5,539.5 955.5,539.8 956.5,540.1 957.5,540.4 958.5,540.7 959.5,541.0 960.5,541.3 960.7,541.4 961.5,541.7 962.5,542.0 963.5,542.3 964.5,542.6 965.5,542.9 966.5,543.2 967.5,543.6 968.5,543.9 969.5,544.2 970.5,544.5 971.5,544.8 972.5,545.2 973.5,545.5 974.5,545.8 975.5,546.2 976.5,546.5 977.5,546.8 978.5,547.2 979.5,547.5 980.0,547.7 980.5,547.8 981.5,548.2 982.5,548.5 983.5,548.8 984.5,549.1 985.5,549.4 986.5,549.7 987.5,550.0 988.5,550.3 989.5,550.6 990.5,551.0 991.5,551.3 992.5,551.7 993.5,552.1 994.5,552.5 995.5,552.9 996.5,553.4 997.5,553.9 997.5,553.9 998.5,554.5 999.5,555.2 1000.5,556.0 1001.5,556.9 1002.5,557.8 1003.5,558.7 1004.5,559.7 1005.0,560.2 1005.5,560.7 1006.5,561.9 1007.5,563.3 1008.5,564.7 1009.5,566.0 1010.5,567.0 1011.5,567.6 1012.1,567.7 1012.5,567.7 1013.5,567.3 1014.5,566.6 1015.5,565.7 1016.5,564.7 1017.5,563.6 1018.5,562.5 1019.5,561.5 1020.5,560.7 1021.3,560.2 1021.5,560.1 1022.5,559.6 1023.5,559.2 1024.5,558.7 1025.5,558.3 1026.5,558.0 1027.5,557.8 1028.5,557.7 1028.8,557.7 1029.5,558.4 1030.5,561.3 1031.5,564.7 1032.5,566.4 1032.6,566.4 1033.5,565.1 1034.5,561.5 1035.5,557.5 1036.3,555.2 1036.5,554.9 1037.5,553.3 1038.5,551.8 1039.5,550.5 1040.5,549.3 1041.5,548.2 1042.5,547.2 1043.5,546.4 1044.5,545.4 1045.1,545.2 1045.5,545.2 1046.5,544.2 1047.5,543.5 1048.5,543.1 1049.5,542.1 1050.5,541.5 1051.5,541.0 1052.5,541.2 1053.5,540.0 1054.5,540.1 1055.5,540.0 1056.5,538.7 1057.5,538.8 1057.6,538.8 1058.5,538.5 1059.5,538.7 1060.5,537.9 1061.5,538.6 1062.5,538.2 1063.5,537.2 1064.5,537.6 1065.5,537.1 1066.5,537.0 1067.5,536.7 1068.5,537.4 1069.5,536.8 1070.5,536.4 1071.5,537.0 1072.5,536.0 1073.5,536.2 1074.5,536.3 1075.2,536.6 1075.5,536.8 1076.5,536.3 1077.5,536.6 1078.5,536.9 1079.5,535.8 1080.5,536.4 1081.5,536.4 1082.5,536.5 1083.5,536.5 1084.5,537.1 1085.5,537.0 1086.5,536.1 1087.5,537.1 1088.5,536.5 1089.5,536.7 1090.5,537.0 1091.5,537.5 1092.5,537.2 1092.7,537.0 1093.5,537.0 1094.5,537.9 1095.5,536.9 1096.5,537.6 1097.5,538.2 1098.5,538.5 1099.5,538.7 1100.5,539.3 1101.5,540.0 1102.5,539.4 1102.7,539.4 1103.5,541.1 1104.5,542.2 1105.5,543.1 1106.5,544.6 1107.2,545.4 1107.5,545.2 1108.5,543.6 1109.5,540.6 1110.2,540.7 1110.5,541.4 1111.5,541.3 1112.5,542.2 1113.5,544.4 1114.5,545.2 1115.5,545.8 1116.5,546.0 1117.5,548.4 1117.7,548.2 1118.5,545.9 1119.5,546.1 1120.5,546.5 1121.5,545.0 1121.5,545.0 1122.5,547.4 1123.5,549.0 1124.5,551.0 1125.2,550.5 1125.5,549.9 1126.5,551.0 1127.5,550.5 1128.5,549.2 1129.5,550.1 1130.2,549.4 1130.5,549.6 1131.5,550.1 1132.5,549.7 1133.5,552.2 1134.5,551.8 1135.5,552.6 1136.5,555.4 1137.5,555.0 1137.8,555.2 1138.5,556.7 1139.5,557.7 1140.5,560.4 1141.5,559.5 1142.5,562.7 1143.5,566.4 1144.5,565.6 1145.3,568.4 1145.5,569.3 1146.5,570.6 1147.5,572.1 1148.5,571.9 1149.5,576.3 1150.5,578.6 1151.5,578.5 1152.3,582.6 1152.5,583.2 1153.5,579.6 1154.5,577.2 1155.5,574.6 1156.0,574.4 1156.5,576.3 1157.5,577.0 1158.5,579.2 1159.5,586.0 1160.5,584.4 1161.5,586.4 1162.5,588.0 1162.8,588.3 1163.5,590.5 1164.5,591.6 1165.5,597.0 1166.5,601.0 1167.5,599.5 1168.5,601.5 1169.5,602.2 1170.3,602.3 1170.5,602.7 1171.5,606.6 1172.5,615.0 1173.5,620.1 1174.5,620.2 1175.5,623.9 1176.5,623.3 1177.5,624.4 1177.8,626.8 1178.5,630.1 1179.5,632.1 1180.5,633.4 1181.5,634.4 1182.5,636.7 1182.8,636.8 1183.5,635.5 1184.5,640.3 1185.5,649.0 1186.5,657.1 1186.6,658.2 1187.5,662.0 1188.5,666.1 1189.5,668.7 1190.5,667.3 1191.5,669.7 1191.6,670.0 1192.5,671.2 1193.5,677.2 1194.1,686.6 1194.5,688.7 1195.5,692.4 1196.5,694.9 1197.5,694.8 1197.9,695.4 1198.5,697.8 1199.5,697.4 1200.5,699.0 1201.5,708.2 1202.5,711.4 1203.5,716.9 1204.5,719.5 1205.4,721.9 1205.5,722.1 1206.5,720.9 1207.5,726.2 1208.5,735.6 1209.5,738.6 1210.4,747.7 1210.5,748.8 1211.5,755.0 1212.5,761.3 1213.5,762.3 1214.5,772.6 1215.4,777.3 1215.5,775.7 1216.5,765.5 1217.5,765.8 1218.5,759.6 1219.1,756.9 1219.5,756.9 1220.5,756.7 1221.5,757.7 1221.6,758.1 1222.5,761.0 1223.5,764.2 1224.5,775.2 1224.9,775.7 1225.5,769.4 1226.5,766.1 1227.5,761.5 1227.9,759.8 1228.5,752.2 1229.5,732.7 1230.4,719.1 1230.5,719.0 1231.5,712.4 1232.5,696.9 1233.5,693.3 1234.5,684.9 1235.4,676.7 1235.5,676.4 1236.5,670.1 1237.5,667.9 1238.5,662.2 1239.5,652.4 1240.5,655.0 1241.5,648.1 1241.7,646.7 1242.5,646.5 1243.5,645.4 1244.5,644.3 1245.5,641.0 1246.5,638.1 1247.5,639.4 1248.5,634.9 1249.2,634.5 1249.5,636.3 1250.5,640.7 1251.5,642.5 1252.5,643.6 1252.9,644.8 1253.5,642.7 1254.5,641.5 1255.5,632.4 1256.5,634.8 1257.5,632.0 1257.5,632.1 1258.5,633.6 1259.5,637.7 1260.5,640.8 1261.5,643.2 1261.7,643.0 1262.5,641.6 1263.5,643.2 1264.5,641.1 1265.5,640.1 1266.5,640.5 1266.7,640.1 1267.5,640.1 1268.5,642.1 1269.5,644.9 1270.5,654.5 1271.5,653.3 1272.5,656.4 1273.5,658.3 1274.2,657.9 1274.5,658.1 1275.5,662.3 1276.5,668.2 1277.5,676.7 1278.5,677.3 1279.2,684.2 1279.5,686.6 1280.5,688.0 1281.5,687.5 1282.5,695.6 1283.5,701.5 1284.5,710.6 1285.5,715.3 1285.5,715.3 1286.5,724.8 1287.5,724.5 1288.5,725.1 1289.5,731.6 1290.5,731.5 1291.5,737.9 1292.5,743.8 1293.0,747.2 1293.5,749.2 1294.5,748.8 1295.5,751.0 1296.5,754.9 1297.5,753.3 1298.5,757.6 1299.5,759.1 1300.5,761.4 1300.5,761.4 1301.5,761.0 1302.5,762.1 1303.5,762.1 1304.5,760.5 1305.5,761.6 1306.5,760.1 1307.5,759.3 1308.5,758.7 1309.5,759.3 1310.5,758.1 1310.5,758.0 1311.5,755.1 1312.5,756.4 1313.5,749.4 1314.5,747.6 1315.5,745.6 1316.5,743.8 1316.8,743.3 1317.5,738.9 1318.5,737.1 1319.5,736.6 1320.5,725.1 1321.5,725.0 1322.5,719.7 1323.5,714.2 1324.3,712.0 1324.5,711.5 1325.5,711.0 1326.5,708.6 1327.5,702.4 1328.5,703.2 1329.5,697.6 1330.5,694.2 1330.6,694.2 1331.5,694.0 1332.5,692.7 1333.5,691.1 1334.5,689.4 1335.5,688.6 1335.6,688.6 1336.5,682.1 1337.5,677.1 1338.5,671.9 1339.5,666.3 1340.5,660.8 1340.6,660.3 1341.5,656.5 1342.5,652.5 1343.5,648.8 1344.5,645.2 1345.5,641.9 1346.5,638.6 1347.5,635.4 1348.5,632.2 1349.5,628.9 1350.5,625.6 1350.6,625.3 1351.5,622.2 1352.5,618.5 1353.5,614.8 1354.5,611.0 1355.5,607.3 1356.5,603.8 1357.5,600.5 1358.5,597.5 1359.5,595.0 1360.5,592.9 1360.6,592.7 1361.5,591.3 1362.5,589.7 1363.5,588.2 1364.5,586.8 1365.5,585.4 1366.5,584.2 1367.5,583.1 1368.5,582.0 1369.5,581.1 1370.5,580.4 1371.5,579.7 1372.5,579.2 1373.1,579.0 1373.5,578.8 1374.5,578.5 1375.5,578.2 1376.5,577.9 1377.5,577.6 1378.5,577.4 1379.5,577.2 1380.5,577.0 1381.5,576.8 1382.5,576.7 1383.5,576.6 1384.5,576.5 1385.5,576.5 1385.7,576.5 1386.5,576.5 1387.5,576.5 1388.5,576.5 1389.5,576.5 1390.5,576.5 1391.5,576.5 1392.5,576.6 1393.5,576.6 1394.5,576.6 1395.5,576.7 1396.5,576.7 1397.5,576.8 1398.5,576.8 1399.5,576.9 1400.5,577.0 1401.5,577.0 1402.5,577.1 1403.5,577.2 1404.5,577.3 1405.5,577.4 1406.5,577.5 1407.5,577.6 1408.5,577.7 1408.5,577.7 1409.5,577.9 1410.5,578.4 1411.5,579.0 1412.5,579.9 1413.5,580.8 1414.5,581.9 1415.5,583.0 1416.5,584.2 1417.3,585.2 1417.5,585.5 1418.5,587.0 1419.5,588.8 1420.5,591.0 1421.5,593.3 1422.5,595.8 1423.5,598.4 1424.5,601.1 1425.5,603.8 1426.1,605.3 1426.5,606.4 1427.5,609.2 1428.5,612.2 1429.5,615.3 1430.5,618.4 1431.5,621.5 1432.5,624.6 1433.5,627.6 1433.6,627.8 1434.5,630.6 1435.5,633.8 1436.5,637.0 1437.5,640.0 1438.5,642.7 1439.5,644.8 1439.8,645.3 1440.5,646.3 1441.5,647.7 1442.5,648.9 1443.5,650.0 1444.5,650.9 1445.5,651.4 1446.1,651.6 1446.5,651.7 1447.5,651.8 1448.5,652.0 1449.5,652.1 1450.5,652.2 1451.5,652.3 1452.5,652.3 1453.5,652.3 1453.6,652.3 1454.5,652.1 1455.5,651.4 1456.5,650.4 1457.5,649.0 1458.5,647.5 1459.5,645.9 1459.9,645.3 1460.5,644.2 1461.5,641.7 1462.5,638.8 1463.5,635.6 1464.5,632.4 1465.5,629.5 1466.1,627.8 1466.5,626.9 1467.5,624.4 1468.5,621.9 1469.5,619.5 1470.5,617.3 1471.5,615.2 1472.5,613.3 1473.5,611.7 1473.6,611.5 1474.5,610.4 1475.5,609.1 1476.5,607.8 1477.5,606.7 1478.5,605.7 1479.5,604.8 1480.5,603.9 1481.5,603.3 1482.4,602.8 1482.5,602.7 1483.5,602.2 1484.5,601.7 1485.5,601.3 1486.5,600.9 1487.5,600.6 1488.5,600.4 1489.5,600.3 1489.9,600.3 1490.5,600.3 1491.5,600.5 1492.5,601.0 1493.5,601.5 1494.5,602.2 1495.5,603.0 1496.5,603.7 1497.5,604.5 1498.5,605.1 1498.7,605.3 1499.5,605.8 1500.5,606.7 1501.5,607.6 1502.5,608.5 1503.5,609.3 1504.5,610.0 1505.5,610.5 1506.5,610.8 1506.7,610.8 1507.5,610.7 1508.5,610.3 1509.5,609.6 1510.5,608.8 1511.5,607.8 1512.5,606.7 1513.5,605.5 1513.7,605.3 1514.5,604.2 1515.5,602.6 1516.5,600.7 1517.5,598.4 1518.5,595.9 1519.5,593.1 1520.5,590.2 1520.5,590.1 1521.5,586.4 1522.5,581.8 1523.5,576.5 1524.5,570.9 1525.5,565.3 1526.5,560.0 1527.0,557.7 1527.5,555.2 1528.5,550.2 1529.5,545.2 1530.5,540.3 1531.5,536.0 1532.5,532.3 1533.2,530.1 1533.5,529.5 1534.5,527.2 1535.5,525.1 1536.5,523.2 1537.5,521.5 1538.5,520.2 1539.5,519.1 1539.7,518.9 1540.5,518.2 1541.5,517.4 1542.5,516.6 1543.5,515.8 1544.5,515.1 1545.5,514.5 1546.5,513.9 1547.5,513.5 1548.5,513.1 1549.5,512.8 1550.5,512.6 1551.3,512.6 1551.5,512.6 1552.5,512.6 1553.5,512.7 1554.5,512.9 1555.5,513.0 1556.5,513.3 1557.5,513.6 1558.5,513.9 1559.5,514.3 1560.5,514.7 1561.3,515.1 1561.5,515.2 1562.5,516.5 1563.5,518.7 1564.5,521.9 1565.5,526.1 1566.3,530.1 1566.5,531.6 1567.5,545.9 1568.5,565.0 1568.8,570.2 1569.5,584.1 1570.5,606.3 1571.5,620.5 1571.8,621.5 1572.5,616.9 1573.5,600.0 1574.3,585.2 1574.5,581.8 1575.5,560.6 1576.3,550.2 1576.5,549.5 1577.5,546.7 1578.5,544.6 1579.5,543.3 1580.5,542.7 1580.8,542.7 1581.5,543.4 1582.5,546.6 1583.5,551.2 1583.8,552.7 1584.5,557.6 1585.5,568.3 1586.5,577.2 1587.1,579.0 1587.5,578.7 1588.5,575.9 1589.5,571.7 1590.5,567.5 1591.3,565.2 1591.5,564.9 1592.5,563.1 1593.5,561.5 1594.5,559.9 1595.5,558.6 1596.5,557.6 1597.5,556.8 1598.5,556.5 1598.8,556.4 1599.5,556.5 1600.5,556.9 1601.5,557.6 1602.5,558.5 1603.5,559.6 1604.5,560.7 1605.5,561.8 1606.4,562.7 1606.5,562.8 1607.5,563.9 1608.5,565.1 1609.5,566.4 1610.5,567.8 1611.5,569.2 1612.5,570.7 1613.5,572.1 1614.5,573.5 1615.5,574.9 1616.5,576.2 1617.5,577.5 1618.5,578.6 1618.9,579.0 1619.5,579.6 1620.5,580.5 1621.5,581.4 1622.5,582.2 1623.5,583.0 1624.5,583.7 1625.5,584.5 1626.5,585.2 1627.5,585.9 1628.5,586.7 1629.5,587.4 1630.5,588.2 1631.4,589.0 1631.5,589.1 1632.5,589.9 1633.5,590.7 1634.5,591.5 1635.5,592.3 1636.5,593.1 1637.5,593.9 1638.5,594.8 1639.5,595.7 1640.5,596.6 1641.5,597.6 1642.5,598.6 1643.5,599.8 1643.9,600.3 1644.5,600.9 1645.5,602.1 1646.5,603.4 1647.5,604.8 1648.5,606.3 1649.5,608.2 1650.5,610.4 1651.4,612.8 1651.5,613.0 1652.5,618.3 1653.5,625.8 1654.5,632.6 1655.2,635.3 1655.5,635.9 1656.5,637.5 1657.5,638.6 1658.5,639.4 1659.5,640.3 1660.5,641.4 1661.4,642.8 1661.5,642.9 1662.5,645.5 1663.5,649.1 1664.5,653.2 1665.5,657.2 1666.5,660.3 1666.5,660.5 1667.5,663.1 1668.5,665.4 1669.5,667.5 1670.5,669.5 1671.5,671.6 1672.5,673.9 1673.5,676.5 1674.0,677.9 1674.5,679.7 1675.5,683.7 1676.5,688.3 1677.5,693.1 1678.5,698.0 1679.5,702.5 1680.2,705.4 1680.5,706.4 1681.5,710.0 1682.5,713.5 1683.5,716.7 1684.5,719.8 1685.5,722.8 1686.5,725.5 1686.5,725.5 1687.5,728.2 1688.5,731.2 1689.5,734.1 1690.5,736.9 1691.5,739.3 1692.5,741.2 1693.5,742.5 1694.5,743.0 1694.5,743.0 1695.5,741.9 1696.5,739.1 1697.5,735.6 1698.5,732.0 1699.0,730.5 1699.5,729.1 1700.5,726.3 1701.5,723.5 1702.5,720.8 1703.5,718.0 1704.5,715.4 1705.5,712.9 1706.5,710.5 1706.5,710.4 1707.5,708.2 1708.5,705.8 1709.5,703.6 1710.5,701.4 1711.5,699.4 1712.5,697.6 1713.5,696.1 1714.0,695.4 1714.5,694.9 1715.5,693.8 1716.5,692.8 1717.5,691.7 1718.5,691.0 1719.5,690.4 1720.5,689.8 1721.5,689.0 1721.5,689.0 1722.5,689.0 1723.5,688.2 1724.5,687.6 1725.5,687.7 1726.5,687.2 1727.5,687.0 1728.5,686.4 1729.5,686.8 1730.5,685.5 1731.5,685.4 1732.5,685.8 1733.5,685.2 1734.5,685.5 1735.3,685.6 1735.5,685.6 1736.5,686.0 1737.5,685.2 1738.5,686.1 1739.5,686.6 1740.5,686.4 1741.5,688.1 1742.5,688.7 1743.5,689.5 1744.5,689.6 1745.5,691.2 1746.5,691.2 1746.6,691.2 1747.5,691.7 1748.5,694.4 1749.5,695.0 1750.5,696.9 1751.5,698.3 1752.5,700.2 1753.5,700.2 1754.1,700.6 1754.5,701.6 1755.5,704.0 1756.5,704.1 1757.5,706.4 1758.5,707.4 1759.5,707.9 1760.4,707.6 1760.5,707.5 1761.5,707.6 1762.5,707.1 1763.5,705.3 1764.5,705.9 1765.4,704.6 1765.5,704.3 1766.5,702.4 1767.5,699.5 1768.5,697.2 1769.5,693.4 1770.5,690.7 1771.5,691.2 1771.6,691.1 1772.5,689.8 1773.5,689.6 1774.5,689.3 1775.5,688.8 1776.5,688.1 1777.5,688.1 1777.9,688.6 1778.5,688.9 1779.5,688.3 1780.5,691.4 1781.5,692.2 1782.5,692.5 1783.5,693.3 1784.1,693.8 1784.5,694.6 1785.5,696.3 1786.5,697.0 1787.5,699.9 1788.5,700.9 1789.2,701.5 1789.5,701.7 1790.5,701.9 1791.5,702.0 1792.5,702.1 1793.5,702.3 1794.5,702.7 1795.5,702.7 1796.5,702.9 1796.7,702.9 L1798.0,702.9 L1798.0,866.6"/>
<path stroke="#ff00ff" d="M103.5,339.1 104.5,339.1 105.0,339.1 105.5,339.1 106.5,339.2 107.5,339.2 108.5,339.3 109.5,339.5 110.5,339.6 111.5,339.8 112.5,340.0 113.5,340.2 114.5,340.4 115.5,340.7 116.5,340.9 117.5,341.1 118.5,341.4 119.5,341.6 120.5,341.9 121.5,342.1 122.5,342.3 123.5,342.7 124.5,343.1 125.0,342.9 125.5,342.5 126.5,342.7 127.5,344.1 128.5,343.1 129.5,343.4 130.5,343.7 131.5,344.2 132.5,344.9 133.5,342.4 134.5,343.9 135.5,345.2 136.5,344.3 137.5,344.7 138.5,344.4 139.5,345.3 140.5,346.4 141.5,344.2 142.5,344.3 143.5,348.0 144.5,346.3 145.1,345.3 145.5,346.5 146.5,349.8 147.5,351.1 148.5,353.5 149.5,352.2 150.1,353.7 150.5,354.7 151.5,354.1 152.5,351.1 153.5,350.9 153.8,349.7 154.5,348.9 155.5,349.3 156.5,350.3 157.5,349.1 158.5,348.3 159.5,352.8 160.5,352.2 161.5,350.4 162.5,353.1 163.5,353.0 164.5,354.4 165.1,353.5 165.5,352.5 166.5,355.6 167.5,359.2 168.5,357.5 169.5,359.8 170.5,360.2 171.5,361.1 172.5,362.9 172.6,363.3 173.5,359.7 174.5,352.2 175.1,351.7 175.5,354.0 176.5,357.4 177.5,353.8 178.5,358.5 179.5,360.2 180.1,361.8 180.5,361.4 181.5,357.7 182.5,357.0 183.5,359.2 184.5,352.9 185.1,351.7 185.5,354.2 186.5,356.3 187.5,357.8 188.5,361.4 188.9,363.2 189.5,362.3 190.5,358.8 191.5,357.1 192.5,357.8 193.2,351.9 193.5,351.0 194.5,354.6 195.5,357.9 196.5,360.1 197.5,361.3 198.2,361.3 198.5,361.2 199.5,364.3 200.5,358.1 201.5,355.6 202.5,356.1 202.7,355.7 203.5,355.4 204.5,355.8 205.5,356.3 206.5,356.1 207.5,357.2 208.5,359.1 209.5,356.3 210.5,358.0 211.5,360.4 212.5,360.7 212.7,361.0 213.5,361.7 214.5,360.7 215.5,365.6 216.5,364.3 217.5,362.6 217.7,363.2 218.5,369.1 219.5,370.8 220.5,374.3 221.4,376.9 221.5,376.9 222.5,375.9 223.5,374.3 224.5,374.6 225.2,373.2 225.5,373.1 226.5,374.3 227.5,383.1 228.5,384.9 228.5,384.9 229.5,383.3 230.5,377.7 231.5,379.6 232.5,376.5 232.7,374.9 233.5,373.1 234.5,379.3 235.5,381.2 236.5,381.8 237.5,382.9 238.5,385.2 239.0,385.3 239.5,385.0 240.5,385.3 241.5,383.6 242.5,383.2 243.5,385.3 244.5,383.5 245.2,383.8 245.5,385.1 246.5,383.8 247.5,389.5 248.5,395.0 249.5,391.1 250.2,397.0 250.5,398.3 251.5,398.3 252.5,395.1 253.5,392.9 254.0,392.1 254.5,396.6 255.5,401.3 256.5,404.9 257.3,413.8 257.5,413.4 258.5,412.6 259.5,413.1 260.5,412.7 261.5,412.4 262.5,411.4 263.5,411.2 264.0,413.3 264.5,418.2 265.5,419.3 266.5,430.3 267.5,437.7 268.5,441.9 269.0,445.1 269.5,444.4 270.5,443.8 271.5,443.5 272.5,440.7 273.5,442.4 274.0,443.8 274.5,445.1 275.5,448.5 276.5,455.2 277.5,460.7 278.5,465.7 279.0,466.3 279.5,468.8 280.5,476.7 281.5,476.1 282.5,479.0 283.5,483.1 284.5,483.2 285.5,484.7 286.5,487.4 287.5,495.6 287.8,495.8 288.5,494.3 289.5,499.2 290.5,500.0 291.5,498.9 292.5,501.3 293.5,504.6 294.5,510.6 295.5,511.3 296.5,518.4 297.5,518.1 297.8,517.4 298.5,517.4 299.5,520.5 300.5,521.4 301.5,525.9 302.5,529.7 303.5,538.1 304.5,537.0 305.3,537.1 305.5,537.8 306.5,543.5 307.5,543.8 307.8,547.3 308.5,552.2 309.5,556.2 310.5,560.0 311.5,559.7 312.5,562.3 313.5,563.9 314.5,563.1 315.5,565.1 316.5,565.9 317.5,567.2 317.9,567.6 318.5,568.2 319.5,570.1 320.5,570.8 321.5,571.4 322.5,572.7 323.5,573.4 324.5,574.4 325.5,575.4 326.5,576.3 327.5,577.2 328.5,578.2 329.5,579.3 330.4,580.2 330.5,580.4 331.5,581.6 332.5,582.9 333.5,584.3 334.5,585.8 335.5,587.3 336.5,588.9 337.5,590.4 338.5,592.0 339.5,593.5 340.5,595.0 341.5,596.3 342.5,597.6 343.5,598.8 344.5,599.8 345.5,600.7 346.5,601.4 346.7,601.5 347.5,602.0 348.5,602.6 349.5,603.1 350.5,603.5 351.5,603.8 352.5,604.0 352.9,604.0 353.5,604.0 354.5,603.9 355.5,603.8 356.5,603.7 357.5,603.5 358.5,603.3 359.5,603.1 360.5,602.9 361.5,602.7 362.5,602.5 363.5,602.4 364.5,602.3 365.4,602.3 365.5,602.3 366.5,602.3 367.5,602.5 368.5,602.8 369.5,603.1 370.5,603.5 371.5,603.9 372.5,604.3 373.5,604.7 374.5,605.1 375.5,605.4 376.5,605.6 377.5,605.7 378.0,605.8 378.5,605.7 379.5,605.4 380.5,604.8 381.5,604.1 382.5,603.2 383.5,602.2 384.5,601.2 385.5,600.3 385.5,600.2 386.5,599.2 387.5,597.9 388.5,596.6 389.5,595.1 390.5,593.5 391.5,591.9 392.5,590.1 393.5,588.4 394.5,586.5 395.5,584.7 396.5,582.9 397.5,581.1 398.0,580.2 398.5,579.3 399.5,577.4 400.5,575.5 401.5,573.6 402.5,571.6 403.5,569.5 404.5,567.5 405.5,565.4 406.5,563.3 407.5,561.2 408.5,559.1 409.5,557.1 410.5,555.0 411.5,553.1 412.5,551.1 413.0,550.2 413.5,549.3 414.5,547.4 415.5,545.5 416.5,543.6 417.5,541.7 418.5,539.8 419.5,537.9 420.5,536.1 421.5,534.3 422.5,532.5 423.5,530.8 424.5,529.1 425.5,527.5 426.5,526.0 427.5,524.6 428.0,523.9 428.5,523.3 429.5,522.0 430.5,520.7 431.5,519.5 432.5,518.3 433.5,517.1 434.5,516.0 435.5,514.9 436.5,513.8 437.5,512.8 438.5,511.8 439.5,510.8 440.5,509.8 441.5,508.9 442.5,508.0 443.5,507.1 444.3,506.3 444.5,506.2 445.5,505.3 446.5,504.6 447.5,503.8 448.5,503.1 449.5,502.5 450.5,501.8 451.5,501.2 452.5,500.6 453.5,500.0 454.5,499.3 455.5,498.7 456.5,498.0 457.5,497.3 458.5,496.6 459.5,495.8 460.5,495.0 461.5,494.1 462.5,493.2 463.1,492.6 463.5,492.1 464.5,490.9 465.5,489.6 466.5,488.1 467.5,486.5 468.5,484.8 469.5,483.1 470.5,481.3 471.5,479.5 472.5,477.7 473.5,476.0 474.5,474.3 475.5,472.7 475.6,472.5 476.5,471.2 477.5,469.7 478.5,468.2 479.5,466.7 480.5,465.3 481.5,463.8 482.5,462.4 483.5,461.0 484.5,459.5 485.5,458.1 486.5,456.7 487.5,455.2 488.5,453.8 489.5,452.3 490.5,450.9 491.5,449.4 492.5,448.0 493.1,447.0 493.5,446.5 494.5,444.9 495.5,443.3 496.5,441.7 497.5,440.1 498.5,438.5 499.5,437.1 500.5,435.7 500.7,435.5 501.5,434.5 502.5,433.3 503.5,432.1 504.5,431.0 505.5,429.8 506.5,428.7 507.5,427.7 508.5,426.6 509.5,425.6 510.5,424.6 511.5,423.6 512.5,422.6 513.5,421.7 514.5,420.7 515.5,419.8 516.5,418.9 517.5,417.9 518.5,417.0 519.5,416.1 520.5,415.2 521.5,414.3 522.5,413.4 523.5,412.5 524.5,411.6 525.5,410.7 525.7,410.5 526.5,409.8 527.5,408.8 528.5,407.9 529.5,407.0 530.5,406.1 531.5,405.2 532.5,404.3 533.5,403.4 534.5,402.5 535.5,401.6 536.5,400.7 537.5,399.9 538.5,399.1 539.5,398.3 540.5,397.5 541.5,396.7 542.5,396.0 543.2,395.5 543.5,395.3 544.5,394.6 545.5,393.9 546.5,393.3 547.5,392.6 548.5,392.0 549.5,391.4 550.5,390.8 551.5,390.2 552.5,389.6 553.5,389.1 554.5,388.5 555.5,387.9 556.5,387.4 557.5,386.8 558.5,386.3 559.5,385.7 560.0,385.5 560.5,385.2 561.5,384.6 562.5,384.1 563.5,383.5 564.5,382.9 565.5,382.4 566.5,381.8 567.5,381.3 568.5,380.7 569.5,380.2 570.5,379.7 571.5,379.2 572.5,378.7 573.5,378.2 574.5,377.8 575.5,377.4 576.5,377.0 577.5,376.7 577.6,376.7 578.5,376.4 579.5,376.1 580.5,375.9 581.5,375.6 582.5,375.4 583.5,375.2 584.5,375.0 585.5,374.8 586.5,374.7 587.5,374.5 588.5,374.3 589.5,374.2 590.5,374.0 591.5,373.9 592.5,373.7 593.5,373.6 594.5,373.4 595.5,373.2 596.5,373.1 597.5,372.9 598.5,372.7 599.5,372.5 600.5,372.3 601.5,372.1 602.5,371.9 603.5,371.6 604.5,371.4 605.5,371.1 606.5,370.8 607.5,370.5 607.6,370.4 608.5,370.1 609.5,369.6 610.5,369.0 611.5,368.3 612.5,367.6 613.5,366.8 614.5,366.0 615.5,365.1 616.5,364.3 617.5,363.5 618.5,362.8 619.5,362.1 620.5,361.4 621.5,360.9 622.5,360.5 622.6,360.4 623.5,360.1 624.5,359.8 625.5,359.6 626.5,359.3 627.5,359.1 628.5,358.8 629.5,358.6 630.5,358.4 631.5,358.3 632.5,358.1 633.5,357.9 634.5,357.8 635.5,357.6 636.5,357.4 637.5,357.2 638.5,357.1 639.5,356.9 640.5,356.7 641.5,356.4 642.5,356.2 643.5,355.9 644.5,355.6 645.2,355.4 645.5,355.3 646.5,354.9 647.5,354.4 648.5,353.9 649.5,353.4 650.5,352.8 651.5,352.2 652.5,351.7 653.5,351.2 654.5,350.7 655.2,350.4 655.5,350.3 656.5,349.9 657.5,349.5 658.5,349.1 659.5,348.7 660.5,348.4 661.5,348.0 662.5,347.7 663.5,347.3 664.5,347.0 665.5,346.7 666.5,346.3 667.5,346.0 668.5,345.7 669.5,345.5 670.5,345.2 671.5,345.0 672.5,344.7 673.5,344.5 674.5,344.3 675.2,344.1 675.5,344.1 676.5,343.9 677.5,343.7 678.5,343.6 679.5,343.4 680.5,343.3 681.5,343.1 682.5,343.0 683.5,342.8 684.5,342.7 685.5,342.5 686.5,342.4 687.5,342.3 688.5,342.2 689.5,342.0 690.5,341.9 691.5,341.8 692.5,341.7 693.5,341.6 694.5,341.5 695.5,341.4 696.5,341.3 697.5,341.2 698.5,341.1 699.5,341.0 700.3,340.9 700.5,340.9 701.5,340.8 702.5,340.7 703.5,340.6 704.5,340.5 705.5,340.4 706.5,340.3 707.5,340.2 708.5,340.1 709.5,340.0 710.5,339.9 711.5,339.8 712.5,339.7 713.5,339.6 714.5,339.5 715.5,339.5 716.5,339.4 717.5,339.3 718.5,339.3 719.5,339.2 720.3,339.1 720.5,339.1 721.5,339.1 722.5,339.0 723.5,338.9 724.5,338.9 725.5,338.8 726.5,338.7 727.5,338.7 728.5,338.6 729.5,338.6 730.5,338.5 731.5,338.4 732.5,338.4 733.5,338.3 734.5,338.3 735.5,338.2 736.5,338.2 737.5,338.1 738.5,338.1 739.5,338.1 740.5,338.0 741.5,338.0 742.5,338.0 743.5,337.9 744.5,337.9 745.5,337.9 746.5,337.9 747.5,337.9 747.8,337.9 748.5,337.9 749.5,337.9 750.5,337.9 751.5,337.9 752.5,337.9 753.5,337.9 754.5,338.0 755.5,338.0 756.5,338.0 757.5,338.1 758.5,338.1 759.5,338.1 760.5,338.2 761.5,338.2 762.5,338.3 763.5,338.3 764.5,338.4 765.5,338.4 766.5,338.5 767.5,338.6 768.5,338.6 769.5,338.7 770.5,338.7 771.5,338.8 772.5,338.9 773.5,339.0 774.5,339.0 775.5,339.1 776.5,339.2 777.5,339.3 778.5,339.3 779.5,339.4 780.5,339.5 781.5,339.6 782.5,339.7 783.5,339.7 784.5,339.8 785.4,339.9 785.5,339.9 786.5,340.0 787.5,340.1 788.5,340.2 789.5,340.3 790.5,340.4 791.5,340.6 792.5,340.7 793.5,340.9 794.5,341.0 795.5,341.2 796.5,341.3 797.5,341.5 798.5,341.6 799.5,341.8 800.5,342.0 801.5,342.2 802.5,342.3 802.9,342.4 803.5,342.5 804.5,342.7 805.5,343.0 806.5,343.2 807.5,343.5 808.5,343.7 809.5,343.9 810.5,344.1 811.5,344.1 811.7,344.1 812.5,344.0 813.5,343.5 814.5,342.7 815.5,341.9 816.5,341.1 817.5,340.5 818.0,340.4 818.5,340.3 819.5,340.1 820.5,339.9 821.5,339.7 822.5,339.6 823.5,339.4 824.5,339.3 825.5,339.2 826.5,339.2 827.5,339.1 828.0,339.1 828.5,339.1 829.5,339.1 830.5,339.1 831.5,339.1 832.5,339.1 833.5,339.2 834.5,339.2 835.5,339.2 836.5,339.2 837.5,339.2 838.5,339.2 839.5,339.2 840.5,339.2 841.5,339.3 842.5,339.3 843.5,339.3 844.5,339.3 845.5,339.3 846.5,339.4 847.5,339.4 848.5,339.5 849.5,339.5 850.5,339.5 851.5,339.6 852.5,339.6 853.5,339.7 854.5,339.7 855.5,339.8 856.5,339.9 857.5,339.9 858.5,340.0 859.5,340.1 860.5,340.2 861.5,340.3 862.5,340.3 863.0,340.4 863.5,340.6 864.5,342.2 865.5,344.6 866.5,347.2 866.8,347.9 867.5,349.8 868.5,352.7 869.5,356.0 870.5,359.2 871.5,362.2 871.8,362.9 872.5,365.0 873.5,368.0 874.5,370.6 875.5,371.7 875.5,371.7 876.5,370.1 877.5,366.4 878.5,363.0 878.6,362.9 879.5,360.4 880.5,358.3 881.1,357.9 881.5,358.2 882.5,360.5 883.5,363.2 884.3,364.2 884.5,364.2 885.5,364.1 886.5,364.0 887.5,363.8 888.5,363.6 889.5,363.3 890.5,363.0 890.6,362.9 891.5,362.4 892.5,361.5 893.5,360.3 894.5,358.9 895.5,357.4 896.5,356.0 897.5,354.8 898.1,354.2 898.5,353.8 899.5,352.8 900.5,351.7 901.5,350.7 902.5,349.6 903.5,348.7 904.5,347.7 905.5,346.9 906.5,346.3 907.5,345.8 908.5,345.5 909.4,345.4 909.5,345.4 910.5,345.4 911.5,345.4 912.5,345.5 913.5,345.5 914.5,345.6 915.5,345.7 916.5,345.7 917.5,345.8 918.5,345.9 919.5,346.0 920.5,346.2 921.5,346.3 922.5,346.4 923.5,346.5 924.5,346.6 925.5,346.8 926.5,346.9 927.5,347.0 928.5,347.1 929.5,347.3 930.5,347.4 930.6,347.4 931.5,347.5 932.5,347.6 933.5,347.8 934.5,347.9 935.5,348.0 936.5,348.2 937.5,348.3 938.5,348.5 939.5,348.7 940.5,348.8 941.5,349.0 942.5,349.2 943.5,349.4 944.5,349.5 945.5,349.7 946.5,349.9 947.5,350.1 948.5,350.2 949.5,350.4 950.5,350.6 951.5,350.8 952.5,351.0 953.5,351.1 954.5,351.3 955.5,351.5 956.5,351.6 957.5,351.8 958.5,352.0 959.5,352.1 960.5,352.3 961.5,352.4 962.5,352.5 963.5,352.7 964.5,352.8 965.5,352.9 965.7,352.9 966.5,353.0 967.5,353.1 968.5,353.2 969.5,353.3 970.5,353.4 971.5,353.5 972.5,353.5 973.5,353.6 974.5,353.7 975.5,353.8 976.5,353.9 977.5,353.9 978.5,354.0 979.5,354.1 980.0,354.2 980.5,354.2 981.5,354.3 982.5,354.4 983.5,354.5 984.5,354.5 985.5,354.6 986.5,354.7 987.5,354.8 988.5,354.8 989.5,354.9 990.5,355.0 991.5,355.1 992.5,355.2 993.5,355.3 994.5,355.5 995.5,355.6 996.5,355.7 997.5,355.9 997.5,355.9 998.5,356.2 999.5,356.5 1000.5,357.0 1001.5,357.6 1002.5,358.2 1003.5,358.9 1004.5,359.5 1005.5,360.2 1006.5,360.8 1007.5,361.3 1008.5,361.8 1009.5,362.2 1010.5,362.4 1011.3,362.4 1011.5,362.4 1012.5,362.3 1013.5,362.2 1014.5,361.9 1015.5,361.6 1016.5,361.3 1017.5,360.9 1018.5,360.5 1019.5,360.1 1020.5,359.7 1021.5,359.4 1022.5,359.2 1022.6,359.2 1023.5,359.0 1024.5,358.7 1025.5,358.5 1026.5,358.3 1027.5,358.1 1028.5,358.0 1029.5,357.9 1030.1,357.9 1030.5,358.2 1031.5,360.0 1032.5,362.0 1033.1,362.4 1033.5,362.3 1034.5,361.0 1035.5,359.1 1036.5,357.1 1037.5,356.0 1037.6,355.9 1038.5,355.6 1039.5,355.2 1040.5,354.8 1041.5,354.6 1042.5,354.3 1043.5,354.0 1044.5,353.7 1045.5,353.8 1046.5,353.4 1047.5,353.2 1048.5,353.3 1049.5,352.8 1050.5,352.7 1051.5,352.5 1052.5,353.1 1053.5,352.3 1054.5,352.6 1055.1,353.1 1055.5,352.9 1056.5,351.9 1057.5,352.1 1058.5,352.0 1059.5,352.2 1060.5,351.6 1061.5,352.4 1062.5,352.2 1063.5,351.3 1064.5,351.9 1065.5,351.4 1066.5,351.4 1067.5,351.3 1068.5,352.1 1069.5,351.5 1070.5,351.2 1071.5,351.8 1072.5,350.8 1073.5,351.0 1074.5,351.2 1075.5,351.6 1076.5,351.1 1077.5,351.3 1078.5,351.7 1079.5,350.5 1080.2,350.9 1080.5,351.1 1081.5,351.1 1082.5,351.2 1083.5,351.1 1084.5,351.7 1085.5,351.5 1086.5,350.7 1087.5,351.6 1088.5,351.1 1089.5,351.2 1090.5,351.5 1091.5,352.0 1092.5,351.7 1093.5,351.4 1094.5,352.3 1095.5,351.3 1096.5,351.8 1097.5,352.2 1098.5,352.4 1099.5,352.3 1100.2,352.3 1100.5,352.8 1101.5,353.9 1102.5,353.4 1103.5,355.1 1104.5,355.8 1105.5,356.4 1106.5,357.5 1107.2,358.2 1107.5,358.0 1108.5,356.4 1109.5,353.4 1110.2,353.5 1110.5,354.1 1111.5,353.9 1112.5,354.6 1113.5,356.6 1114.5,357.2 1115.5,357.7 1116.5,357.8 1117.5,359.8 1117.7,359.7 1118.5,357.1 1119.5,357.3 1120.5,357.6 1121.5,355.8 1121.5,355.8 1122.5,357.4 1123.5,358.4 1124.5,359.8 1125.2,359.0 1125.5,358.5 1126.5,359.6 1127.5,359.2 1128.5,358.1 1129.5,359.0 1130.2,358.4 1130.5,358.5 1131.5,358.7 1132.5,358.1 1133.5,360.0 1134.5,359.5 1135.5,359.9 1136.5,362.2 1137.5,361.6 1137.8,361.7 1138.5,362.5 1139.5,362.9 1140.5,364.4 1141.5,363.5 1142.5,365.3 1143.5,367.6 1144.5,366.8 1145.3,368.5 1145.5,369.2 1146.5,370.1 1147.5,371.2 1148.5,370.9 1149.5,374.2 1150.5,375.9 1151.5,375.7 1152.3,379.2 1152.5,379.8 1153.5,375.9 1154.5,373.2 1155.5,370.4 1156.0,370.1 1156.5,371.5 1157.5,371.9 1158.5,373.3 1159.5,378.0 1160.5,376.7 1161.5,378.0 1162.5,379.0 1162.8,379.2 1163.5,380.6 1164.5,381.3 1165.5,385.0 1166.5,387.9 1167.5,386.5 1168.5,388.2 1169.5,388.5 1170.3,388.4 1170.5,388.8 1171.5,390.6 1172.5,395.5 1173.5,398.2 1174.5,397.9 1175.5,400.5 1176.5,399.8 1177.5,400.2 1178.5,403.3 1179.1,404.4 1179.5,406.8 1180.5,410.0 1181.5,412.6 1182.5,415.8 1183.5,414.1 1184.5,416.0 1185.5,419.6 1186.5,420.5 1186.6,420.9 1187.5,425.2 1188.5,430.2 1189.5,433.3 1190.5,431.8 1191.5,434.6 1192.5,436.2 1193.5,435.9 1194.1,440.8 1194.5,442.1 1195.5,443.7 1196.5,444.9 1197.5,444.5 1197.9,445.0 1198.5,446.9 1199.5,446.4 1200.5,447.0 1201.5,454.2 1202.5,455.8 1203.5,460.0 1204.5,461.9 1205.4,463.8 1205.5,464.0 1206.5,462.8 1207.5,467.0 1208.5,475.0 1209.5,476.3 1210.4,483.3 1210.5,484.1 1211.5,487.3 1212.5,490.8 1213.5,490.4 1214.5,496.7 1215.5,498.3 1215.9,498.0 1216.5,492.6 1217.5,494.1 1218.5,489.5 1219.5,487.0 1219.9,485.3 1220.5,485.6 1221.5,488.3 1222.5,487.8 1223.5,487.9 1224.5,491.1 1225.4,489.0 1225.5,488.0 1226.5,484.1 1227.5,478.8 1227.9,476.9 1228.5,473.4 1229.5,460.9 1230.5,453.6 1231.5,448.1 1231.7,445.7 1232.5,442.3 1233.4,443.2 1233.5,443.4 1234.5,440.7 1235.5,437.5 1236.5,432.7 1237.5,431.4 1238.5,427.1 1239.5,419.2 1240.4,421.2 1240.5,421.2 1241.5,419.3 1242.5,418.5 1243.5,417.9 1244.5,417.3 1245.5,415.1 1246.5,413.2 1247.5,414.3 1248.5,411.3 1249.2,410.6 1249.5,413.0 1250.5,418.4 1251.5,420.7 1252.5,422.1 1252.9,423.7 1253.5,421.9 1254.5,420.8 1255.5,412.6 1256.5,414.8 1257.5,412.2 1258.0,409.2 1258.5,410.7 1259.5,414.2 1260.5,416.8 1261.5,418.9 1262.5,418.2 1263.0,422.4 1263.5,423.4 1264.5,420.9 1265.5,419.7 1266.5,420.0 1267.5,418.3 1268.0,417.5 1268.5,416.8 1269.5,419.3 1270.5,429.3 1271.5,428.1 1272.5,431.4 1273.5,433.3 1274.2,432.9 1274.5,433.2 1275.5,436.7 1276.5,439.9 1277.5,445.6 1278.5,445.2 1279.5,450.5 1280.5,451.0 1280.5,451.0 1281.5,450.6 1282.5,456.9 1283.5,460.2 1284.2,465.0 1284.5,466.6 1285.5,471.1 1286.5,481.5 1287.5,481.1 1288.5,481.8 1289.5,488.9 1290.5,489.2 1291.5,496.6 1292.5,503.6 1293.0,507.4 1293.5,510.2 1294.5,509.8 1295.5,512.7 1296.5,517.9 1297.5,516.0 1298.5,521.9 1299.5,523.9 1300.5,527.1 1300.5,527.2 1301.5,526.8 1302.5,528.0 1303.5,527.9 1304.5,526.2 1305.5,527.2 1306.5,525.5 1307.5,524.5 1308.5,523.7 1309.5,524.2 1310.5,522.8 1310.5,522.6 1311.5,518.3 1312.5,520.1 1313.5,509.8 1314.5,507.0 1315.5,504.1 1316.5,501.3 1316.8,500.5 1317.5,496.3 1318.5,494.8 1319.5,494.5 1320.5,483.5 1321.5,483.7 1322.5,478.7 1323.5,473.6 1324.3,471.6 1324.5,471.1 1325.5,470.6 1326.5,468.4 1327.5,463.2 1328.5,463.9 1329.5,459.6 1330.5,457.2 1331.5,456.2 1332.5,454.4 1333.5,452.3 1334.5,449.8 1335.5,448.6 1335.6,448.3 1336.5,444.9 1337.5,442.8 1338.5,440.6 1339.5,438.0 1340.5,435.6 1341.5,433.1 1342.5,430.6 1343.5,428.2 1344.5,425.7 1345.5,423.3 1345.6,423.0 1346.5,420.8 1347.5,418.2 1348.5,415.6 1349.5,412.9 1350.5,410.2 1351.5,407.5 1352.5,404.9 1353.5,402.4 1354.5,400.0 1355.5,397.8 1356.5,395.8 1357.5,394.0 1358.1,393.0 1358.5,392.4 1359.5,390.9 1360.5,389.5 1361.5,388.1 1362.5,386.7 1363.5,385.4 1364.5,384.2 1365.5,383.1 1366.5,382.1 1367.5,381.2 1368.5,380.4 1369.5,379.8 1370.5,379.3 1370.6,379.2 1371.5,378.8 1372.5,378.5 1373.5,378.1 1374.5,377.7 1375.5,377.4 1376.5,377.0 1377.5,376.7 1378.5,376.5 1379.5,376.2 1380.5,376.0 1381.5,375.8 1382.5,375.7 1383.5,375.5 1384.5,375.5 1385.5,375.4 1385.7,375.4 1386.5,375.4 1387.5,375.4 1388.5,375.4 1389.5,375.4 1390.5,375.4 1391.5,375.4 1392.5,375.4 1393.5,375.4 1394.5,375.4 1395.5,375.4 1396.5,375.4 1397.5,375.4 1398.5,375.4 1399.5,375.4 1400.5,375.4 1401.5,375.4 1402.5,375.4 1403.5,375.4 1404.5,375.4 1405.5,375.4 1406.5,375.4 1407.5,375.4 1408.5,375.4 1408.5,375.4 1409.5,375.5 1410.5,375.7 1411.5,376.0 1412.5,376.4 1413.5,376.9 1414.5,377.4 1415.5,378.0 1416.5,378.7 1417.3,379.2 1417.5,379.3 1418.5,380.2 1419.5,381.4 1420.5,382.8 1421.5,384.4 1422.5,386.2 1423.5,388.1 1424.5,390.0 1425.5,391.9 1426.1,393.0 1426.5,393.8 1427.5,395.9 1428.5,398.3 1429.5,400.7 1430.5,403.2 1431.5,405.7 1432.5,408.1 1433.5,410.3 1433.6,410.5 1434.5,412.6 1435.5,414.9 1436.5,417.2 1437.5,419.3 1438.5,421.2 1439.5,422.6 1439.8,423.0 1440.5,423.7 1441.5,424.8 1442.5,425.7 1443.5,426.5 1444.5,427.1 1445.5,427.5 1446.1,427.5 1446.5,427.5 1447.5,427.5 1448.5,427.5 1449.5,427.5 1450.5,427.5 1451.5,427.5 1452.5,427.5 1453.5,427.5 1454.5,427.5 1454.9,427.5 1455.5,427.4 1456.5,427.0 1457.5,426.2 1458.5,425.1 1459.5,423.9 1460.5,422.6 1461.1,421.8 1461.5,421.2 1462.5,419.4 1463.5,417.2 1464.5,414.7 1465.5,412.2 1466.5,409.8 1467.4,408.0 1467.5,407.8 1468.5,406.0 1469.5,404.2 1470.5,402.5 1471.5,401.0 1472.5,399.5 1473.5,398.2 1473.6,398.0 1474.5,396.9 1475.5,395.7 1476.5,394.6 1477.5,393.4 1478.5,392.4 1479.5,391.4 1480.5,390.4 1481.5,389.6 1482.5,388.8 1483.5,388.1 1483.7,388.0 1484.5,387.4 1485.5,386.7 1486.5,386.0 1487.5,385.4 1488.5,384.9 1489.5,384.5 1490.5,384.3 1491.2,384.2 1491.5,384.2 1492.5,384.3 1493.5,384.5 1494.5,384.7 1495.5,385.0 1496.5,385.3 1497.5,385.6 1498.5,386.0 1499.5,386.4 1500.5,386.8 1501.5,387.1 1502.5,387.4 1503.5,387.6 1504.5,387.8 1505.5,387.9 1506.2,388.0 1506.5,388.0 1507.5,387.7 1508.5,387.2 1509.5,386.5 1510.5,385.5 1511.5,384.4 1512.5,383.2 1513.5,381.9 1514.5,380.4 1515.5,379.0 1516.2,378.0 1516.5,377.5 1517.5,375.6 1518.5,373.2 1519.5,370.6 1520.5,367.9 1521.5,365.2 1522.5,362.9 1522.5,362.9 1523.5,360.6 1524.5,358.4 1525.5,356.2 1526.5,354.1 1527.5,352.2 1528.5,350.7 1528.7,350.4 1529.5,349.5 1530.5,348.3 1531.5,347.2 1532.5,346.1 1533.5,345.2 1534.5,344.3 1535.5,343.5 1536.5,342.8 1537.5,342.2 1538.5,341.7 1538.7,341.6 1539.5,341.3 1540.5,340.9 1541.5,340.6 1542.5,340.2 1543.5,339.9 1544.5,339.5 1545.5,339.2 1546.5,338.9 1547.5,338.7 1548.5,338.5 1549.5,338.3 1550.5,338.1 1551.5,338.0 1552.5,337.9 1553.5,337.9 1553.8,337.9 1554.5,337.9 1555.5,338.0 1556.5,338.1 1557.5,338.3 1558.5,338.6 1559.5,338.9 1560.5,339.4 1561.5,339.8 1562.5,340.4 1562.5,340.4 1563.5,341.5 1564.5,343.9 1565.5,347.2 1566.3,350.4 1566.5,351.5 1567.5,360.7 1568.5,372.4 1568.8,375.4 1569.5,383.5 1570.5,395.8 1571.5,403.7 1571.8,404.2 1572.5,400.3 1573.5,386.4 1574.3,375.4 1574.5,373.3 1575.5,361.0 1576.3,355.4 1576.5,355.1 1577.5,353.7 1578.5,352.6 1579.5,352.0 1580.5,351.7 1580.8,351.7 1581.5,352.4 1582.5,355.4 1583.5,359.2 1583.8,360.4 1584.5,363.7 1585.5,369.5 1586.3,371.7 1586.5,371.7 1587.5,370.7 1588.5,368.7 1589.5,366.3 1590.5,364.2 1591.3,362.9 1591.5,362.8 1592.5,361.8 1593.5,360.8 1594.5,360.0 1595.5,359.2 1596.5,358.6 1597.5,358.1 1598.5,357.9 1598.8,357.9 1599.5,358.0 1600.5,358.2 1601.5,358.5 1602.5,359.1 1603.5,359.7 1604.5,360.4 1605.5,361.1 1606.5,361.9 1607.5,362.7 1608.5,363.5 1609.5,364.2 1610.5,364.9 1611.4,365.4 1611.5,365.5 1612.5,366.0 1613.5,366.6 1614.5,367.1 1615.5,367.6 1616.5,368.2 1617.5,368.7 1618.5,369.2 1619.5,369.7 1620.5,370.2 1621.5,370.7 1622.5,371.2 1623.5,371.6 1624.5,372.1 1625.5,372.5 1626.4,372.9 1626.5,373.0 1627.5,373.4 1628.5,373.8 1629.5,374.2 1630.5,374.6 1631.5,375.0 1632.5,375.3 1633.5,375.7 1634.5,376.1 1635.5,376.5 1636.5,376.9 1637.5,377.3 1638.5,377.8 1638.9,378.0 1639.5,378.2 1640.5,378.7 1641.5,379.1 1642.5,379.6 1643.5,380.1 1644.5,380.7 1645.5,381.3 1646.5,382.0 1647.5,382.8 1648.5,383.8 1648.9,384.2 1649.5,385.1 1650.5,387.8 1651.5,391.2 1652.5,394.6 1653.5,397.2 1653.9,398.0 1654.5,398.7 1655.5,399.7 1656.5,400.5 1657.5,401.2 1658.5,401.8 1659.5,402.5 1660.5,403.3 1661.4,404.2 1661.5,404.3 1662.5,405.9 1663.5,408.0 1664.5,410.5 1665.5,412.9 1666.5,415.2 1667.5,416.9 1668.5,417.9 1669.0,418.0 1669.5,418.0 1670.5,417.7 1671.5,417.4 1672.5,417.0 1673.5,416.8 1674.0,416.8 1674.5,417.0 1675.5,418.8 1676.5,421.9 1677.5,425.6 1678.5,429.6 1679.5,433.3 1680.2,435.5 1680.5,436.3 1681.5,438.9 1682.5,441.6 1683.5,444.1 1684.5,446.5 1685.5,448.7 1686.5,450.6 1686.5,450.6 1687.5,452.4 1688.5,454.4 1689.5,456.3 1690.5,458.0 1691.5,459.5 1692.5,460.8 1693.5,461.6 1694.5,461.8 1694.5,461.8 1695.5,460.5 1696.5,457.2 1697.5,453.1 1698.5,449.4 1699.0,448.1 1699.5,447.0 1700.5,444.9 1701.5,443.0 1702.5,441.2 1703.5,439.5 1704.5,438.0 1705.5,436.7 1706.5,435.6 1706.5,435.5 1707.5,434.5 1708.5,433.6 1709.5,432.7 1710.5,431.8 1711.5,431.0 1712.5,430.3 1713.5,429.7 1714.5,429.1 1715.5,428.5 1716.5,428.0 1716.5,428.0 1717.5,427.6 1718.5,427.3 1719.5,427.0 1720.5,426.8 1721.5,426.2 1722.5,426.3 1723.5,425.7 1724.5,425.3 1725.5,425.5 1726.5,425.1 1727.5,424.9 1728.5,424.4 1729.1,424.6 1729.5,424.7 1730.5,423.1 1731.5,422.8 1732.5,422.9 1733.5,421.7 1734.5,421.6 1735.5,421.2 1736.5,421.0 1737.5,419.7 1738.5,420.1 1739.1,420.4 1739.5,420.1 1740.5,419.5 1741.5,420.4 1742.5,420.3 1743.5,420.4 1744.5,419.9 1745.5,420.6 1746.5,420.1 1747.5,419.8 1748.5,420.9 1749.1,420.7 1749.5,420.5 1750.5,420.9 1751.5,421.0 1752.5,421.5 1753.5,420.9 1754.5,421.3 1755.5,422.3 1756.5,421.8 1757.5,422.8 1758.5,423.0 1759.5,423.1 1760.5,422.6 1761.5,423.0 1761.6,423.1 1762.5,423.0 1763.5,421.7 1764.5,422.4 1765.5,421.1 1766.5,419.9 1767.5,418.5 1768.5,417.7 1769.5,416.0 1770.5,414.5 1771.5,415.1 1771.6,415.0 1772.5,413.3 1773.5,412.8 1774.5,411.9 1775.5,410.7 1776.5,409.1 1777.5,408.3 1778.5,408.5 1779.5,406.8 1780.5,407.3 1781.5,407.1 1781.6,407.0 1782.5,406.6 1783.5,406.5 1784.5,406.7 1785.5,406.8 1786.5,406.3 1786.7,406.4 1787.5,411.5 1788.5,414.1 1788.7,414.3 1789.5,411.3 1790.5,408.4 1791.2,405.9 1791.5,405.8 1792.5,405.4 1793.5,404.9 1794.5,404.7 1795.4,404.2 L1798.0,404.2 L1798.0,693.5"/>
<path stroke="#008000" d="M103.5,178.9 104.5,178.9 105.0,178.9 105.5,178.9 106.5,178.9 107.5,179.0 108.5,179.1 109.5,179.2 110.5,179.4 111.5,179.5 112.5,179.7 113.5,179.9 114.5,180.1 115.5,180.3 116.5,180.5 117.5,180.8 118.5,181.0 119.5,181.2 120.5,181.4 121.5,181.6 122.5,181.7 123.5,182.0 124.5,182.4 125.0,182.1 125.5,181.7 126.5,181.9 127.5,183.2 128.5,182.1 129.5,182.3 130.5,182.6 131.5,183.0 132.5,183.7 133.5,181.1 134.5,182.5 135.5,183.7 136.5,182.7 137.5,183.0 138.5,182.6 139.5,183.4 140.5,184.4 141.5,182.0 142.5,182.0 143.5,185.6 144.5,183.6 145.1,182.5 145.5,183.8 146.5,187.5 147.5,188.9 148.5,191.6 149.5,190.4 150.1,192.2 150.5,193.2 151.5,192.6 152.5,189.5 153.5,189.4 153.8,188.2 154.5,187.4 155.5,187.8 156.5,188.8 157.5,187.6 158.5,186.8 159.5,191.3 160.5,190.7 161.5,188.9 162.5,191.6 163.5,191.5 164.5,192.9 165.1,192.0 165.5,191.0 166.5,194.0 167.5,197.6 168.5,196.0 169.5,198.3 170.5,198.7 171.5,199.6 172.5,201.4 172.6,201.8 173.5,197.8 174.5,189.8 175.1,188.9 175.5,191.2 176.5,194.6 177.5,191.1 178.5,195.7 179.5,197.5 180.1,199.1 180.5,198.6 181.5,195.0 182.5,194.3 183.5,196.5 184.5,190.1 185.1,188.9 185.5,191.4 186.5,193.5 187.5,195.0 188.5,198.7 188.9,200.5 189.5,199.5 190.5,195.7 191.5,193.5 192.5,194.3 193.2,187.9 193.5,186.9 194.5,190.8 195.5,194.4 196.5,196.9 197.5,198.3 198.2,198.5 198.5,198.3 199.5,201.4 200.5,193.6 201.5,191.0 202.5,190.9 202.7,190.3 203.5,190.2 204.5,190.5 205.5,190.9 206.5,190.7 207.5,191.8 208.5,193.5 209.5,190.7 210.5,192.4 211.5,194.7 212.5,194.9 212.7,195.3 213.5,196.0 214.5,195.0 215.5,200.2 216.5,198.9 217.5,197.3 217.7,197.9 218.5,204.2 219.5,206.0 220.5,210.0 221.4,213.0 221.5,213.0 222.5,211.7 223.5,208.4 224.5,208.5 225.2,206.5 225.5,206.6 226.5,207.8 227.5,216.5 228.5,218.6 228.5,218.6 229.5,216.4 230.5,209.6 231.5,211.6 232.5,207.5 232.7,205.6 233.5,204.1 234.5,210.3 235.5,212.2 236.5,212.8 237.5,213.9 238.5,216.2 239.0,216.2 239.5,214.9 240.5,214.1 241.5,212.3 242.5,209.9 243.5,211.6 244.0,210.1 244.5,211.2 245.5,214.0 246.5,212.8 247.5,217.9 248.5,222.8 249.5,219.0 250.2,224.2 250.5,225.5 251.5,225.5 252.5,222.3 253.5,220.1 254.0,219.4 254.5,223.5 255.5,227.4 256.5,230.2 257.3,238.4 257.5,238.1 258.5,237.0 259.5,237.4 260.5,236.8 261.5,236.4 262.5,235.1 263.5,234.7 264.0,236.5 264.5,241.1 265.5,241.1 266.5,251.1 267.5,257.3 268.5,260.5 269.5,264.2 269.8,265.2 270.5,266.3 271.5,265.7 272.5,262.0 273.5,263.9 274.0,264.0 274.5,265.6 275.5,268.1 276.5,274.0 277.5,278.6 278.5,282.7 279.0,284.0 279.5,285.8 280.5,288.2 281.5,287.3 282.5,287.7 282.8,288.5 283.5,291.4 284.5,291.6 285.5,293.5 286.5,296.2 287.5,302.5 288.5,301.3 289.5,307.2 290.3,311.1 290.5,310.8 291.5,309.8 292.5,313.7 293.5,316.6 294.5,320.9 295.5,321.0 296.5,329.5 297.5,330.9 297.8,329.8 298.5,330.5 299.5,333.5 300.5,333.8 301.5,335.3 302.5,336.4 302.8,337.6 303.5,343.9 304.5,343.5 305.5,346.9 306.5,353.7 307.5,351.7 307.8,353.1 308.5,355.9 309.5,358.0 310.5,361.1 311.5,360.9 312.5,363.5 313.5,365.0 314.5,364.2 315.5,366.4 316.5,367.3 317.5,368.7 317.9,369.1 318.5,369.8 319.5,371.9 320.5,372.9 321.5,373.7 322.5,375.4 323.5,376.4 324.5,377.7 325.5,379.0 326.5,380.3 327.5,381.5 328.5,382.7 329.5,384.0 330.5,385.2 331.5,386.4 332.5,387.5 332.9,388.0 333.5,388.7 334.5,389.9 335.5,391.1 336.5,392.4 337.5,393.6 338.5,394.8 339.5,396.0 340.5,397.2 341.5,398.3 342.5,399.4 343.5,400.4 344.5,401.3 345.5,402.2 346.5,402.9 346.7,403.0 347.5,403.6 348.5,404.3 349.5,404.9 350.5,405.5 351.5,406.1 352.5,406.5 353.5,406.7 354.2,406.7 354.5,406.7 355.5,406.7 356.5,406.7 357.5,406.7 358.5,406.7 359.5,406.7 360.5,406.7 361.5,406.7 362.5,406.7 363.5,406.7 364.5,406.7 365.5,406.7 366.5,406.7 367.5,406.7 368.5,406.7 369.5,406.7 370.5,406.7 371.5,406.7 372.5,406.7 373.5,406.7 374.5,406.7 375.5,406.7 376.5,406.7 377.5,406.7 378.0,406.7 378.5,406.7 379.5,406.2 380.5,405.4 381.5,404.5 382.5,403.4 383.0,403.0 383.5,402.5 384.5,401.3 385.5,400.1 386.5,398.7 387.5,397.3 388.5,395.8 389.5,394.4 390.5,393.0 390.5,392.9 391.5,391.5 392.5,390.0 393.5,388.6 394.5,387.1 395.5,385.6 396.5,384.0 397.5,382.5 398.5,380.9 399.5,379.3 400.5,377.7 401.5,376.1 402.5,374.5 403.5,372.9 404.2,371.7 404.5,371.3 405.5,369.6 406.5,367.9 407.5,366.1 408.5,364.3 409.5,362.5 410.5,360.7 411.5,358.9 412.5,357.1 413.5,355.3 414.5,353.6 415.5,351.9 416.5,350.2 417.5,348.7 418.0,347.9 418.5,347.2 419.5,345.7 420.5,344.3 421.5,342.9 422.5,341.5 423.5,340.2 424.5,338.8 425.5,337.5 426.5,336.3 427.5,335.1 428.5,333.9 429.5,332.8 430.5,331.7 430.5,331.6 431.5,330.6 432.5,329.6 433.5,328.6 434.5,327.6 435.5,326.7 436.5,325.7 437.5,324.8 438.5,323.9 439.5,323.1 440.5,322.2 441.5,321.4 442.5,320.6 443.5,319.8 444.3,319.1 444.5,319.0 445.5,318.2 446.5,317.4 447.5,316.7 448.5,316.1 449.5,315.4 450.5,314.8 451.5,314.1 452.5,313.5 453.5,312.9 454.5,312.2 455.5,311.6 456.5,310.9 457.5,310.3 458.5,309.5 459.5,308.8 460.5,308.0 461.5,307.2 462.5,306.4 463.1,305.8 463.5,305.5 464.5,304.5 465.5,303.4 466.5,302.2 467.5,301.0 468.5,299.7 469.5,298.4 470.5,297.1 471.5,295.8 472.5,294.4 473.5,293.1 474.5,291.8 475.5,290.5 475.6,290.3 476.5,289.2 477.5,287.8 478.5,286.5 479.5,285.2 480.5,283.8 481.5,282.4 482.5,281.1 483.5,279.7 484.5,278.3 485.5,277.0 486.5,275.6 487.5,274.3 488.5,273.0 489.5,271.7 490.5,270.4 490.6,270.3 491.5,269.2 492.5,268.0 493.5,266.7 494.5,265.5 495.5,264.3 496.5,263.1 497.5,261.9 498.5,260.7 499.5,259.5 500.5,258.4 501.5,257.3 502.5,256.1 503.5,255.0 504.5,254.0 505.5,252.9 506.5,251.9 506.9,251.5 507.5,250.9 508.5,249.9 509.5,249.0 510.5,248.0 511.5,247.1 512.5,246.2 513.5,245.2 514.5,244.3 515.5,243.5 516.5,242.6 517.5,241.7 518.5,240.9 519.5,240.1 520.5,239.2 521.5,238.4 522.5,237.6 523.5,236.9 524.5,236.1 525.5,235.4 525.7,235.2 526.5,234.6 527.5,233.9 528.5,233.2 529.5,232.5 530.5,231.8 531.5,231.1 532.5,230.4 533.5,229.8 534.5,229.1 535.5,228.5 536.5,227.8 537.5,227.2 538.5,226.6 539.5,226.0 540.5,225.4 541.5,224.9 542.5,224.3 543.2,224.0 543.5,223.8 544.5,223.3 545.5,222.8 546.5,222.3 547.5,221.9 548.5,221.4 549.5,221.0 550.5,220.5 551.5,220.1 552.5,219.7 553.5,219.3 554.5,218.9 555.5,218.4 556.5,218.0 557.5,217.6 558.5,217.1 559.5,216.7 560.0,216.4 560.5,216.2 561.5,215.7 562.5,215.2 563.5,214.7 564.5,214.1 565.5,213.6 566.5,213.0 567.5,212.4 568.5,211.9 569.5,211.3 570.5,210.8 571.5,210.3 572.5,209.8 573.5,209.3 574.5,208.9 575.5,208.4 576.5,208.0 577.5,207.7 577.6,207.7 578.5,207.4 579.5,207.1 580.5,206.8 581.5,206.5 582.5,206.2 583.5,206.0 584.5,205.7 585.5,205.5 586.5,205.3 587.5,205.1 588.5,204.9 589.5,204.7 590.5,204.5 591.5,204.3 592.5,204.1 593.5,203.9 594.5,203.7 595.5,203.5 596.5,203.3 597.5,203.1 598.5,202.9 599.5,202.7 600.5,202.5 601.5,202.3 602.5,202.1 603.5,201.9 604.5,201.7 605.5,201.4 606.5,201.2 607.5,200.9 608.5,200.6 609.5,200.3 610.1,200.2 610.5,200.0 611.5,199.7 612.5,199.3 613.5,198.9 614.5,198.4 615.5,198.0 616.5,197.5 617.5,197.0 618.5,196.6 619.5,196.2 620.5,195.8 621.5,195.5 622.5,195.2 622.6,195.2 623.5,195.0 624.5,194.7 625.5,194.5 626.5,194.4 627.5,194.2 628.5,194.0 629.5,193.9 630.5,193.8 631.5,193.6 632.5,193.5 633.5,193.4 634.5,193.3 635.5,193.1 636.5,193.0 637.5,192.9 638.5,192.7 639.5,192.6 640.5,192.4 641.5,192.2 642.5,192.0 643.5,191.8 644.5,191.6 645.2,191.4 645.5,191.3 646.5,190.9 647.5,190.5 648.5,189.9 649.5,189.4 650.5,188.8 651.5,188.2 652.5,187.6 653.5,187.1 654.5,186.6 655.2,186.4 655.5,186.3 656.5,186.0 657.5,185.7 658.5,185.4 659.5,185.1 660.5,184.9 661.5,184.6 662.5,184.4 663.5,184.1 664.5,183.9 665.5,183.7 666.5,183.5 667.5,183.3 668.5,183.1 669.5,183.0 670.5,182.8 671.5,182.6 672.5,182.5 673.5,182.3 674.5,182.2 675.2,182.1 675.5,182.1 676.5,182.0 677.5,181.9 678.5,181.8 679.5,181.7 680.5,181.6 681.5,181.5 682.5,181.4 683.5,181.3 684.5,181.2 685.5,181.1 686.5,181.1 687.5,181.0 688.5,180.9 689.5,180.9 690.5,180.8 691.5,180.7 692.5,180.7 693.5,180.6 694.5,180.5 695.5,180.5 696.5,180.4 697.5,180.3 698.5,180.3 699.5,180.2 700.3,180.1 700.5,180.1 701.5,180.0 702.5,180.0 703.5,179.9 704.5,179.8 705.5,179.7 706.5,179.6 707.5,179.6 708.5,179.5 709.5,179.4 710.5,179.3 711.5,179.2 712.5,179.2 713.5,179.1 714.5,179.0 715.5,179.0 716.5,179.0 717.5,178.9 718.5,178.9 719.5,178.9 720.3,178.9 720.5,178.9 721.5,178.9 722.5,178.9 723.5,178.9 724.5,178.9 725.5,178.9 726.5,178.9 727.5,178.9 728.5,178.9 729.5,178.9 730.5,178.9 731.5,178.9 732.5,178.9 733.5,178.9 734.5,178.9 735.5,178.9 736.5,178.9 737.5,178.9 738.5,178.9 739.5,178.9 740.5,178.9 741.5,178.9 742.5,178.9 743.5,178.9 744.5,178.9 745.5,178.9 746.5,178.9 747.5,178.9 748.5,178.9 749.5,178.9 750.5,178.9 751.5,178.9 752.5,178.9 752.8,178.9 753.5,178.9 754.5,178.9 755.5,178.9 756.5,178.9 757.5,178.9 758.5,178.9 759.5,178.9 760.5,179.0 761.5,179.0 762.5,179.0 763.5,179.0 764.5,179.1 765.5,179.1 766.5,179.1 767.5,179.2 768.5,179.2 769.5,179.2 770.5,179.3 771.5,179.3 772.5,179.4 773.5,179.4 774.5,179.5 775.5,179.5 776.5,179.6 777.5,179.6 778.5,179.7 779.5,179.8 780.5,179.8 781.5,179.9 782.5,179.9 783.5,180.0 784.5,180.1 785.4,180.1 785.5,180.1 786.5,180.2 787.5,180.3 788.5,180.4 789.5,180.5 790.5,180.7 791.5,180.8 792.5,181.0 793.5,181.2 794.5,181.4 795.5,181.6 796.5,181.8 797.5,182.0 798.5,182.2 799.5,182.4 800.5,182.6 801.5,182.8 802.5,183.0 802.9,183.1 803.5,183.3 804.5,183.6 805.5,183.9 806.5,184.3 807.5,184.6 808.5,185.0 809.5,185.3 810.5,185.6 811.5,185.8 812.5,185.9 812.9,185.9 813.5,185.7 814.5,184.7 815.5,183.3 816.5,181.8 817.5,180.8 818.0,180.6 818.5,180.5 819.5,180.3 820.5,180.2 821.5,180.0 822.5,179.9 823.5,179.8 824.5,179.7 825.5,179.7 826.5,179.7 827.5,179.6 828.0,179.6 828.5,179.6 829.5,179.6 830.5,179.6 831.5,179.6 832.5,179.6 833.5,179.6 834.5,179.6 835.5,179.6 836.5,179.6 837.5,179.6 838.5,179.7 839.5,179.7 840.5,179.7 841.5,179.7 842.5,179.7 843.5,179.7 844.5,179.7 845.5,179.7 846.5,179.7 847.5,179.7 848.5,179.8 849.5,179.8 850.5,179.8 851.5,179.8 852.5,179.8 853.5,179.8 854.5,179.9 855.5,179.9 856.5,179.9 857.5,179.9 858.5,180.0 859.5,180.0 860.5,180.0 861.5,180.1 862.5,180.1 863.0,180.1 863.5,180.3 864.5,181.8 865.5,184.1 866.5,186.9 866.8,187.6 867.5,190.0 868.5,194.3 869.5,199.3 870.5,204.4 871.5,209.0 871.8,210.2 872.5,213.1 873.5,217.5 874.5,221.1 875.5,222.7 875.5,222.7 876.5,220.4 877.5,215.2 878.5,210.4 878.6,210.2 879.5,206.5 880.5,203.3 881.1,202.7 881.5,203.1 882.5,205.8 883.5,209.0 884.3,210.2 884.5,210.2 885.5,210.1 886.5,210.0 887.5,209.8 888.5,209.6 889.5,209.3 890.5,209.0 890.6,208.9 891.5,208.3 892.5,207.2 893.5,205.7 894.5,203.9 895.5,202.0 896.5,200.2 897.5,198.5 898.1,197.7 898.5,197.1 899.5,195.7 900.5,194.2 901.5,192.6 902.5,191.1 903.5,189.6 904.5,188.2 905.5,187.0 906.5,186.0 907.5,185.2 908.5,184.8 909.4,184.6 909.5,184.6 910.5,184.6 911.5,184.6 912.5,184.6 913.5,184.6 914.5,184.6 915.5,184.6 916.5,184.6 917.5,184.6 918.5,184.6 919.5,184.6 920.5,184.6 921.5,184.6 922.5,184.6 923.5,184.6 924.5,184.6 925.5,184.6 926.5,184.6 927.5,184.6 928.5,184.6 929.5,184.6 930.5,184.6 930.6,184.6 931.5,184.6 932.5,184.7 933.5,184.7 934.5,184.8 935.5,184.8 936.5,184.9 937.5,185.0 938.5,185.1 939.5,185.3 940.5,185.4 941.5,185.5 942.5,185.7 943.5,185.8 944.5,185.9 945.5,186.1 946.5,186.2 947.5,186.4 948.5,186.5 949.5,186.7 950.5,186.8 951.5,186.9 952.5,187.1 953.2,187.1 953.5,187.2 954.5,187.3 955.5,187.4 956.5,187.5 957.5,187.7 958.5,187.8 959.5,187.9 960.5,188.1 961.5,188.2 962.5,188.3 963.5,188.5 964.5,188.6 965.5,188.7 966.5,188.9 967.5,189.0 968.5,189.1 969.5,189.3 970.5,189.4 971.5,189.5 972.5,189.6 973.5,189.8 974.5,189.9 975.5,190.0 976.5,190.1 977.5,190.2 978.5,190.3 979.5,190.4 980.5,190.5 981.5,190.5 982.5,190.6 983.2,190.6 983.5,190.7 984.5,190.7 985.5,190.8 986.5,190.8 987.5,190.8 988.5,190.9 989.5,190.9 990.5,190.9 991.5,191.0 992.5,191.0 993.5,191.0 994.5,191.1 995.5,191.1 996.5,191.2 997.5,191.2 998.5,191.3 999.5,191.4 1000.0,191.4 1000.5,191.5 1001.5,191.7 1002.5,192.0 1003.5,192.5 1004.5,193.0 1005.5,193.6 1006.5,194.1 1007.5,194.6 1008.5,195.0 1009.5,195.4 1010.5,195.6 1011.3,195.7 1011.5,195.7 1012.5,195.6 1013.5,195.6 1014.5,195.5 1015.5,195.4 1016.5,195.3 1017.5,195.2 1018.5,195.1 1019.5,195.0 1020.5,194.9 1021.5,194.8 1022.5,194.7 1022.6,194.7 1023.5,194.6 1024.5,194.4 1025.5,194.3 1026.5,194.2 1027.5,194.1 1028.5,194.0 1029.5,193.9 1030.1,193.9 1030.5,194.1 1031.5,195.6 1032.5,197.3 1033.1,197.7 1033.5,197.5 1034.5,196.3 1035.5,194.3 1036.5,192.5 1037.5,191.4 1037.6,191.4 1038.5,191.2 1039.5,191.0 1040.5,190.8 1041.5,190.7 1042.5,190.5 1043.5,190.4 1044.5,190.2 1045.5,190.5 1046.5,190.2 1047.5,190.0 1048.5,190.2 1049.5,189.8 1050.5,189.7 1051.5,189.6 1052.5,190.2 1053.5,189.5 1054.5,189.9 1055.1,190.3 1055.5,190.1 1056.5,189.1 1057.5,189.4 1058.5,189.3 1059.5,189.6 1060.5,189.0 1061.5,189.8 1062.5,189.6 1063.5,188.8 1064.5,189.4 1065.5,188.9 1066.5,189.0 1067.5,188.8 1068.5,189.6 1069.5,189.1 1070.5,188.8 1071.5,189.4 1072.5,188.5 1073.5,188.7 1074.5,188.8 1075.5,189.3 1076.5,188.8 1077.5,189.1 1077.7,189.3 1078.5,189.4 1079.5,188.3 1080.5,188.9 1081.5,188.8 1082.5,189.0 1083.5,188.8 1084.5,189.4 1085.5,189.3 1086.5,188.5 1087.5,189.4 1088.5,188.9 1089.5,189.0 1090.5,189.3 1091.5,189.8 1092.5,189.5 1093.5,189.2 1094.5,190.0 1095.5,189.0 1096.5,189.5 1097.5,190.0 1098.5,190.1 1099.5,190.1 1100.2,190.1 1100.5,190.6 1101.5,191.8 1102.5,191.4 1103.5,193.2 1104.5,194.0 1105.5,194.7 1106.5,195.9 1107.2,196.7 1107.5,196.5 1108.5,194.4 1109.5,190.7 1110.2,190.7 1110.5,191.4 1111.5,191.3 1112.5,192.2 1113.5,194.4 1114.5,195.2 1115.5,195.8 1116.5,196.0 1117.5,198.4 1117.7,198.2 1118.5,195.4 1119.5,195.5 1120.5,195.7 1121.5,193.7 1121.5,193.8 1122.5,195.5 1123.5,196.5 1124.5,198.0 1125.2,197.2 1125.5,196.3 1126.5,197.3 1127.5,196.5 1128.5,194.7 1129.5,195.5 1130.2,194.4 1130.5,194.4 1131.5,194.5 1132.5,193.8 1133.5,195.4 1134.5,194.8 1135.5,195.1 1136.5,197.0 1137.5,196.4 1137.8,196.4 1138.5,197.3 1139.5,197.9 1140.5,199.6 1141.5,198.7 1142.5,200.8 1143.5,203.4 1144.5,202.6 1145.3,204.3 1145.5,204.6 1146.5,204.6 1147.5,204.7 1148.5,204.0 1149.0,203.8 1149.5,206.9 1150.5,209.9 1151.5,210.0 1152.3,215.3 1152.5,216.2 1153.5,211.4 1154.5,208.1 1155.5,204.6 1156.0,204.3 1156.5,205.4 1157.5,205.6 1158.5,206.4 1159.5,209.9 1160.5,208.8 1161.5,210.3 1161.5,210.4 1162.5,216.0 1162.8,217.2 1163.5,217.9 1164.5,217.7 1165.5,218.9 1166.5,220.6 1167.5,219.4 1168.5,221.3 1169.5,221.3 1170.3,219.8 1170.5,220.7 1171.5,225.0 1171.6,225.3 1172.5,226.6 1173.5,225.6 1174.5,222.8 1175.3,225.8 1175.5,228.1 1176.5,227.5 1177.5,229.7 1178.5,234.9 1179.1,237.3 1179.5,237.3 1180.5,236.4 1181.5,235.7 1182.5,237.0 1182.8,236.6 1183.5,236.6 1184.5,242.5 1185.5,247.7 1186.5,249.0 1186.6,249.4 1187.5,250.8 1188.5,251.0 1189.5,251.7 1190.5,249.9 1191.5,251.0 1191.6,251.2 1192.5,257.5 1193.5,260.3 1194.1,266.9 1194.5,267.3 1195.5,266.8 1196.5,266.5 1197.5,265.0 1197.9,265.3 1198.5,271.5 1199.5,270.4 1200.5,271.7 1201.5,278.2 1201.6,278.4 1202.5,278.3 1203.5,280.1 1204.5,281.6 1205.4,287.1 1205.5,288.1 1206.5,287.7 1207.5,294.9 1208.4,301.5 1208.5,301.1 1209.5,300.2 1210.5,302.5 1211.5,303.9 1212.5,305.8 1213.5,305.3 1214.1,306.5 1214.5,309.1 1215.5,310.5 1216.5,309.4 1216.6,310.9 1217.5,310.1 1218.5,304.6 1219.1,302.4 1219.5,302.4 1220.5,301.9 1221.5,302.7 1222.5,301.2 1223.5,300.3 1224.5,301.4 1225.5,299.9 1226.5,300.3 1226.7,300.5 1227.5,293.0 1227.9,289.6 1228.5,288.6 1229.5,281.9 1230.5,279.5 1231.5,278.5 1232.5,270.2 1232.9,270.3 1233.5,271.9 1234.5,270.1 1235.5,268.0 1236.5,264.7 1237.5,263.9 1238.5,260.9 1239.5,255.4 1240.4,257.1 1240.5,257.1 1241.5,255.5 1242.5,254.9 1243.5,254.6 1244.5,254.2 1245.5,252.7 1246.5,251.5 1247.5,252.7 1248.5,250.9 1249.5,251.6 1250.4,254.2 1250.5,254.4 1251.5,259.7 1252.5,264.1 1252.9,266.6 1253.5,264.7 1254.5,263.0 1255.5,252.7 1256.5,255.1 1256.7,254.7 1257.5,257.9 1258.5,259.9 1259.5,264.8 1260.5,268.7 1261.5,271.8 1261.7,271.6 1262.5,267.2 1263.5,269.9 1264.5,265.0 1265.5,262.1 1265.5,262.4 1266.5,269.6 1267.5,271.1 1268.5,273.1 1269.5,275.0 1270.5,282.2 1270.5,282.2 1271.5,281.1 1272.5,282.4 1273.5,283.6 1274.2,282.8 1274.5,283.7 1275.5,289.5 1276.5,294.0 1277.5,300.9 1278.0,301.4 1278.5,301.8 1279.5,303.9 1280.5,304.3 1281.5,303.6 1281.7,303.9 1282.5,310.6 1283.5,314.0 1284.5,318.9 1285.5,322.1 1286.5,334.0 1286.7,336.3 1287.5,336.4 1288.5,340.4 1289.5,350.2 1290.5,350.0 1291.5,354.5 1292.5,358.5 1293.0,362.6 1293.5,365.8 1294.5,365.8 1295.5,371.9 1296.5,378.5 1297.5,376.0 1298.5,381.7 1299.5,383.9 1300.5,387.4 1300.5,387.4 1301.5,387.1 1302.5,388.3 1303.5,388.2 1304.5,386.5 1305.5,387.6 1306.5,385.9 1307.5,384.9 1308.5,384.1 1309.5,384.6 1310.5,383.1 1310.5,383.0 1311.5,378.9 1312.5,380.6 1313.5,371.1 1314.3,368.2 1314.5,367.9 1315.5,363.1 1316.5,358.5 1317.5,351.5 1318.5,348.3 1319.3,348.0 1319.5,346.3 1320.5,334.0 1321.5,333.2 1322.5,327.1 1323.5,320.8 1324.5,316.8 1325.5,315.0 1325.6,315.0 1326.5,312.2 1327.5,307.0 1328.5,307.7 1329.5,302.9 1330.5,300.2 1331.5,299.0 1332.5,297.0 1333.1,296.1 1333.5,293.9 1334.5,289.4 1335.5,286.9 1336.5,280.9 1337.5,277.3 1338.5,273.7 1339.5,269.6 1340.5,265.6 1340.6,265.3 1341.5,262.7 1342.5,260.0 1343.5,257.6 1344.5,255.2 1345.5,253.0 1346.5,250.9 1347.5,248.9 1348.5,246.9 1349.5,244.9 1350.5,242.9 1350.6,242.7 1351.5,240.9 1352.5,238.9 1353.5,236.9 1354.5,234.9 1355.5,233.0 1356.5,231.2 1357.5,229.4 1358.5,227.9 1359.5,226.5 1360.5,225.3 1360.6,225.2 1361.5,224.3 1362.5,223.3 1363.5,222.3 1364.5,221.3 1365.5,220.3 1366.5,219.4 1367.5,218.5 1368.5,217.7 1369.5,217.0 1370.5,216.3 1371.5,215.8 1372.5,215.3 1373.5,215.0 1374.5,214.8 1375.5,214.7 1375.6,214.7 1376.5,214.7 1377.5,214.7 1378.5,214.7 1379.5,214.7 1380.5,214.7 1381.5,214.7 1382.5,214.7 1383.5,214.7 1384.5,214.7 1385.5,214.7 1386.5,214.7 1387.5,214.7 1388.5,214.7 1389.5,214.8 1390.5,214.8 1391.5,214.8 1392.5,214.8 1393.5,214.8 1394.5,214.8 1395.5,214.8 1396.5,214.9 1397.5,214.9 1398.5,214.9 1399.5,214.9 1400.5,214.9 1401.5,215.0 1402.5,215.0 1403.5,215.0 1404.5,215.1 1405.5,215.1 1406.5,215.1 1407.5,215.2 1408.5,215.2 1408.5,215.2 1409.5,215.3 1410.5,215.5 1411.5,215.8 1412.5,216.2 1413.5,216.7 1414.5,217.2 1415.5,217.8 1416.5,218.4 1417.3,218.9 1417.5,219.1 1418.5,219.9 1419.5,220.8 1420.5,221.9 1421.5,223.2 1422.5,224.6 1423.5,226.1 1424.5,227.6 1425.5,229.3 1426.1,230.2 1426.5,231.0 1427.5,233.0 1428.5,235.2 1429.5,237.6 1430.5,240.1 1431.5,242.7 1432.5,245.2 1433.5,247.6 1433.6,247.7 1434.5,249.9 1435.5,252.5 1436.5,255.1 1437.5,257.5 1438.5,259.5 1439.5,261.1 1439.8,261.5 1440.5,262.2 1441.5,263.2 1442.5,264.1 1443.5,264.8 1444.5,265.4 1445.5,265.7 1446.1,265.8 1446.5,265.8 1447.5,265.8 1448.5,265.8 1449.5,265.8 1450.5,265.8 1451.5,265.8 1452.5,265.8 1453.5,265.8 1454.5,265.8 1454.9,265.8 1455.5,265.7 1456.5,265.2 1457.5,264.5 1458.5,263.5 1459.5,262.3 1460.5,261.1 1461.1,260.3 1461.5,259.7 1462.5,257.8 1463.5,255.4 1464.5,252.7 1465.5,249.9 1466.5,247.2 1467.4,245.2 1467.5,245.0 1468.5,243.0 1469.5,241.0 1470.5,239.0 1471.5,237.3 1472.5,235.6 1473.5,234.2 1473.6,234.0 1474.5,232.9 1475.5,231.7 1476.5,230.6 1477.5,229.5 1478.5,228.5 1479.5,227.6 1480.5,226.7 1481.5,225.8 1482.5,225.0 1483.5,224.1 1483.7,224.0 1484.5,223.2 1485.5,222.2 1486.5,221.3 1487.5,220.3 1488.5,219.4 1489.5,218.6 1490.5,217.9 1491.5,217.5 1492.4,217.2 1492.5,217.2 1493.5,217.0 1494.5,216.9 1495.5,216.8 1496.5,216.7 1497.5,216.6 1498.5,216.5 1499.5,216.5 1500.5,216.4 1501.5,216.4 1502.5,216.3 1503.5,216.3 1504.5,216.2 1505.5,216.1 1506.5,216.0 1507.5,215.9 1508.5,215.7 1508.7,215.7 1509.5,215.5 1510.5,215.3 1511.5,214.9 1512.5,214.5 1513.5,214.0 1514.5,213.4 1515.5,212.7 1516.5,212.0 1517.5,211.2 1518.5,210.4 1518.7,210.2 1519.5,209.3 1520.5,207.6 1521.5,205.5 1522.5,203.2 1523.5,200.8 1524.5,198.6 1525.0,197.7 1525.5,196.6 1526.5,194.6 1527.5,192.5 1528.5,190.5 1529.5,188.7 1530.5,187.2 1531.2,186.4 1531.5,186.1 1532.5,185.2 1533.5,184.4 1534.5,183.6 1535.5,182.9 1536.5,182.3 1537.5,181.9 1538.5,181.5 1538.7,181.4 1539.5,181.1 1540.5,180.8 1541.5,180.5 1542.5,180.2 1543.5,180.0 1544.5,179.7 1545.5,179.5 1546.5,179.3 1547.5,179.2 1548.5,179.0 1549.5,178.9 1550.5,178.9 1551.3,178.9 1551.5,178.9 1552.5,178.9 1553.5,179.0 1554.5,179.2 1555.5,179.3 1556.5,179.6 1557.5,179.9 1558.5,180.2 1559.5,180.6 1560.5,181.0 1561.3,181.4 1561.5,181.5 1562.5,182.3 1563.5,183.6 1564.5,185.4 1565.5,187.8 1566.3,190.1 1566.5,191.0 1567.5,199.3 1568.5,211.4 1568.8,215.2 1569.5,227.7 1570.5,248.7 1571.3,256.5 1571.5,256.2 1572.5,246.9 1573.5,231.3 1574.3,220.2 1574.5,218.0 1575.5,205.7 1576.3,200.2 1576.5,199.8 1577.5,198.4 1578.5,197.4 1579.5,196.7 1580.5,196.4 1580.8,196.4 1581.5,197.2 1582.5,200.4 1583.5,204.1 1583.8,205.2 1584.5,207.5 1585.5,211.3 1586.5,214.1 1587.1,214.7 1587.5,214.6 1588.5,213.8 1589.5,212.4 1590.5,210.7 1591.5,209.1 1592.5,207.8 1592.6,207.7 1593.5,206.7 1594.5,205.6 1595.5,204.6 1596.5,203.7 1597.5,203.0 1598.5,202.7 1598.8,202.7 1599.5,202.7 1600.5,202.9 1601.5,203.2 1602.5,203.6 1603.5,204.1 1604.5,204.6 1605.5,205.3 1606.5,205.9 1607.5,206.6 1608.5,207.2 1609.5,207.9 1610.5,208.5 1611.4,208.9 1611.5,209.0 1612.5,209.5 1613.5,210.0 1614.5,210.5 1615.5,211.0 1616.5,211.6 1617.5,212.1 1618.5,212.6 1619.5,213.1 1620.5,213.6 1621.5,214.1 1622.5,214.6 1623.5,215.1 1624.5,215.6 1625.5,216.0 1626.4,216.4 1626.5,216.5 1627.5,216.9 1628.5,217.3 1629.5,217.7 1630.5,218.1 1631.5,218.4 1632.5,218.8 1633.5,219.2 1634.5,219.6 1635.5,219.9 1636.5,220.4 1637.5,220.8 1638.5,221.2 1638.9,221.4 1639.5,221.7 1640.5,222.2 1641.5,222.6 1642.5,223.1 1643.5,223.6 1644.5,224.1 1645.5,224.7 1646.5,225.4 1647.5,226.3 1648.5,227.2 1648.9,227.7 1649.5,228.7 1650.5,231.9 1651.5,236.0 1652.5,240.1 1653.5,243.2 1653.9,244.0 1654.5,244.7 1655.5,245.8 1656.5,246.6 1657.5,247.3 1658.5,247.9 1659.5,248.5 1660.5,249.3 1661.4,250.2 1661.5,250.3 1662.5,251.5 1663.5,253.0 1664.5,254.6 1665.5,256.2 1666.5,257.8 1666.5,257.8 1667.5,259.8 1668.5,262.0 1669.5,263.6 1670.2,264.0 1670.5,264.0 1671.5,263.0 1672.5,261.5 1673.5,260.4 1674.0,260.3 1674.5,260.5 1675.5,262.0 1676.5,264.5 1677.5,267.5 1678.5,270.7 1679.5,273.6 1680.2,275.3 1680.5,275.8 1681.5,277.6 1682.5,279.3 1683.5,280.9 1684.5,282.4 1685.5,283.9 1686.5,285.3 1686.5,285.3 1687.5,286.8 1688.5,288.5 1689.5,290.1 1690.5,291.7 1691.5,293.1 1692.5,294.3 1693.5,295.0 1694.5,295.3 1694.5,295.3 1695.5,293.8 1696.5,290.3 1697.5,286.1 1698.5,282.6 1699.0,281.5 1699.5,280.9 1700.5,279.6 1701.5,278.4 1702.5,277.4 1703.5,276.6 1704.5,275.9 1705.5,275.5 1706.5,275.3 1706.5,275.3 1707.5,275.2 1708.5,275.2 1709.5,275.2 1710.5,275.1 1711.5,275.1 1712.5,275.1 1713.5,275.1 1714.5,275.1 1715.5,275.1 1716.5,275.0 1717.5,275.0 1718.5,275.0 1719.5,275.1 1720.5,275.1 1721.5,274.8 1722.5,275.2 1723.5,274.8 1724.5,274.6 1725.5,275.1 1726.5,275.0 1727.5,275.0 1728.5,274.7 1729.1,275.1 1729.5,275.3 1730.5,273.9 1731.5,273.7 1732.5,273.7 1733.5,272.6 1734.5,272.5 1735.5,272.1 1736.5,272.0 1736.6,272.0 1737.5,270.8 1738.5,271.3 1739.5,271.1 1740.5,270.4 1741.5,271.1 1742.5,271.0 1743.5,270.9 1744.5,270.3 1745.5,270.8 1746.5,270.2 1747.5,269.8 1748.5,270.8 1749.5,270.3 1750.5,270.4 1751.5,270.3 1752.5,270.5 1753.5,269.6 1754.5,269.6 1755.5,270.3 1756.5,269.4 1757.5,270.0 1758.5,269.8 1759.5,269.6 1760.5,268.8 1761.5,269.0 1761.6,269.1 1762.5,268.9 1763.5,267.6 1764.5,268.3 1765.5,267.3 1766.5,266.3 1767.5,265.2 1768.5,264.6 1769.5,263.1 1770.5,261.8 1771.5,262.4 1771.6,262.3 1772.5,260.5 1773.5,259.8 1774.5,258.9 1775.5,257.4 1776.5,255.4 1777.5,254.4 1778.5,254.4 1779.5,252.3 1780.5,252.6 1781.5,251.9 1781.6,251.8 1782.5,251.2 1783.5,250.8 1784.5,250.7 1785.5,250.6 1786.5,249.9 1786.7,249.9 1787.5,255.0 1788.5,257.6 1788.7,257.8 1789.5,252.9 1790.5,247.8 1791.2,243.9 1791.5,243.9 1792.5,243.5 1793.5,243.2 1794.5,243.1 1795.4,242.7 L1798.0,242.7 L1798.0,534.0"/>
</g>
<text class="p" transform="translate(688.1,227.8) scale(1,1.026)">2508</text>
<text class="p" transform="translate(778.3,236.1) scale(1,1.026)">2493</text>
<text class="p" transform="translate(910.3,602.9) scale(1,1.026)">2069</text>
<text class="p" transform="translate(1011.0,606.9) scale(1,1.026)">2024</text>
<text class="p" transform="translate(1721.3,741.2) scale(1,1.026)">478</text>
<text class="p" transform="translate(1729.8,777.0) scale(1,1.026)">418</text>
<text class="p" transform="translate(523.3,813.4) scale(1,1.026)">2920</text>
<text class="p" transform="translate(631.1,780.3) scale(1,1.026)">2851</text>
<text class="p" transform="translate(764.5,987.4) scale(1,1.026)">2360</text>
<text class="p" transform="translate(894.0,984.4) scale(1,1.026)">2340</text>
<text class="p" transform="translate(1095.0,1032.0) scale(1,1.026)">1635</text>
<text class="p" transform="translate(1177.6,1071.3) scale(1,1.026)">1617</text>
<text class="p" transform="translate(1361.7,1046.3) scale(1,1.026)">1142</text>
<text class="p" transform="translate(1464.7,1057.0) scale(1,1.026)">1006</text>
<text class="p" transform="translate(1499.8,984.4) scale(1,1.026)">878</text>
<text class="p" transform="translate(1586.9,976.2) scale(1,1.026)">846</text>
<text class="p" transform="translate(1659.3,1037.5) scale(1,1.026)">628</text>
<text class="p" transform="translate(307.6,1168.1) scale(1,1.026)">3442</text>
<text class="p" transform="translate(1294.6,1166.4) scale(1,1.026)">1449</text>
<text class="b" transform="translate(707.5,154.4) scale(1,1.030)">Mn/50Ti-WACF</text>
<text class="b" transform="translate(705.0,317.6) scale(1,1.030)">Mn/100Ti-WACF</text>
<text class="b" transform="translate(706.7,489.3) scale(1,1.030)">Mn/300Ti-WACF</text>
<text class="b" transform="translate(713.0,690.1) scale(1,1.030)">Mn/600Ti-WACF</text>
<text class="b" transform="translate(745.7,881.1) scale(1,1.030)">Ti-WACF</text>
<text class="t" transform="translate(104.5,1323.6) scale(1,1.026)">4000</text>
<text class="t" transform="translate(292.7,1323.6) scale(1,1.026)">3600</text>
<text class="t" transform="translate(480.8,1323.6) scale(1,1.026)">3200</text>
<text class="t" transform="translate(669.0,1323.6) scale(1,1.026)">2800</text>
<text class="t" transform="translate(857.2,1323.6) scale(1,1.026)">2400</text>
<text class="t" transform="translate(1045.3,1323.6) scale(1,1.026)">2000</text>
<text class="t" transform="translate(1233.5,1323.6) scale(1,1.026)">1600</text>
<text class="t" transform="translate(1421.7,1323.6) scale(1,1.026)">1200</text>
<text class="t" transform="translate(1609.8,1323.6) scale(1,1.026)">800</text>
<text class="t" transform="translate(1798.0,1323.6) scale(1,1.026)">400</text>
<text class="ax" x="672" y="1433">Wavenumber (cm<tspan font-size="38" stroke-width="0.5" dy="-31">-1</tspan><tspan dy="31">)</tspan></text>
<text class="ay" transform="translate(57.9,888.3) rotate(-90) scale(1,1.02)">Transmittance (%)</text>
</svg></body></html>
